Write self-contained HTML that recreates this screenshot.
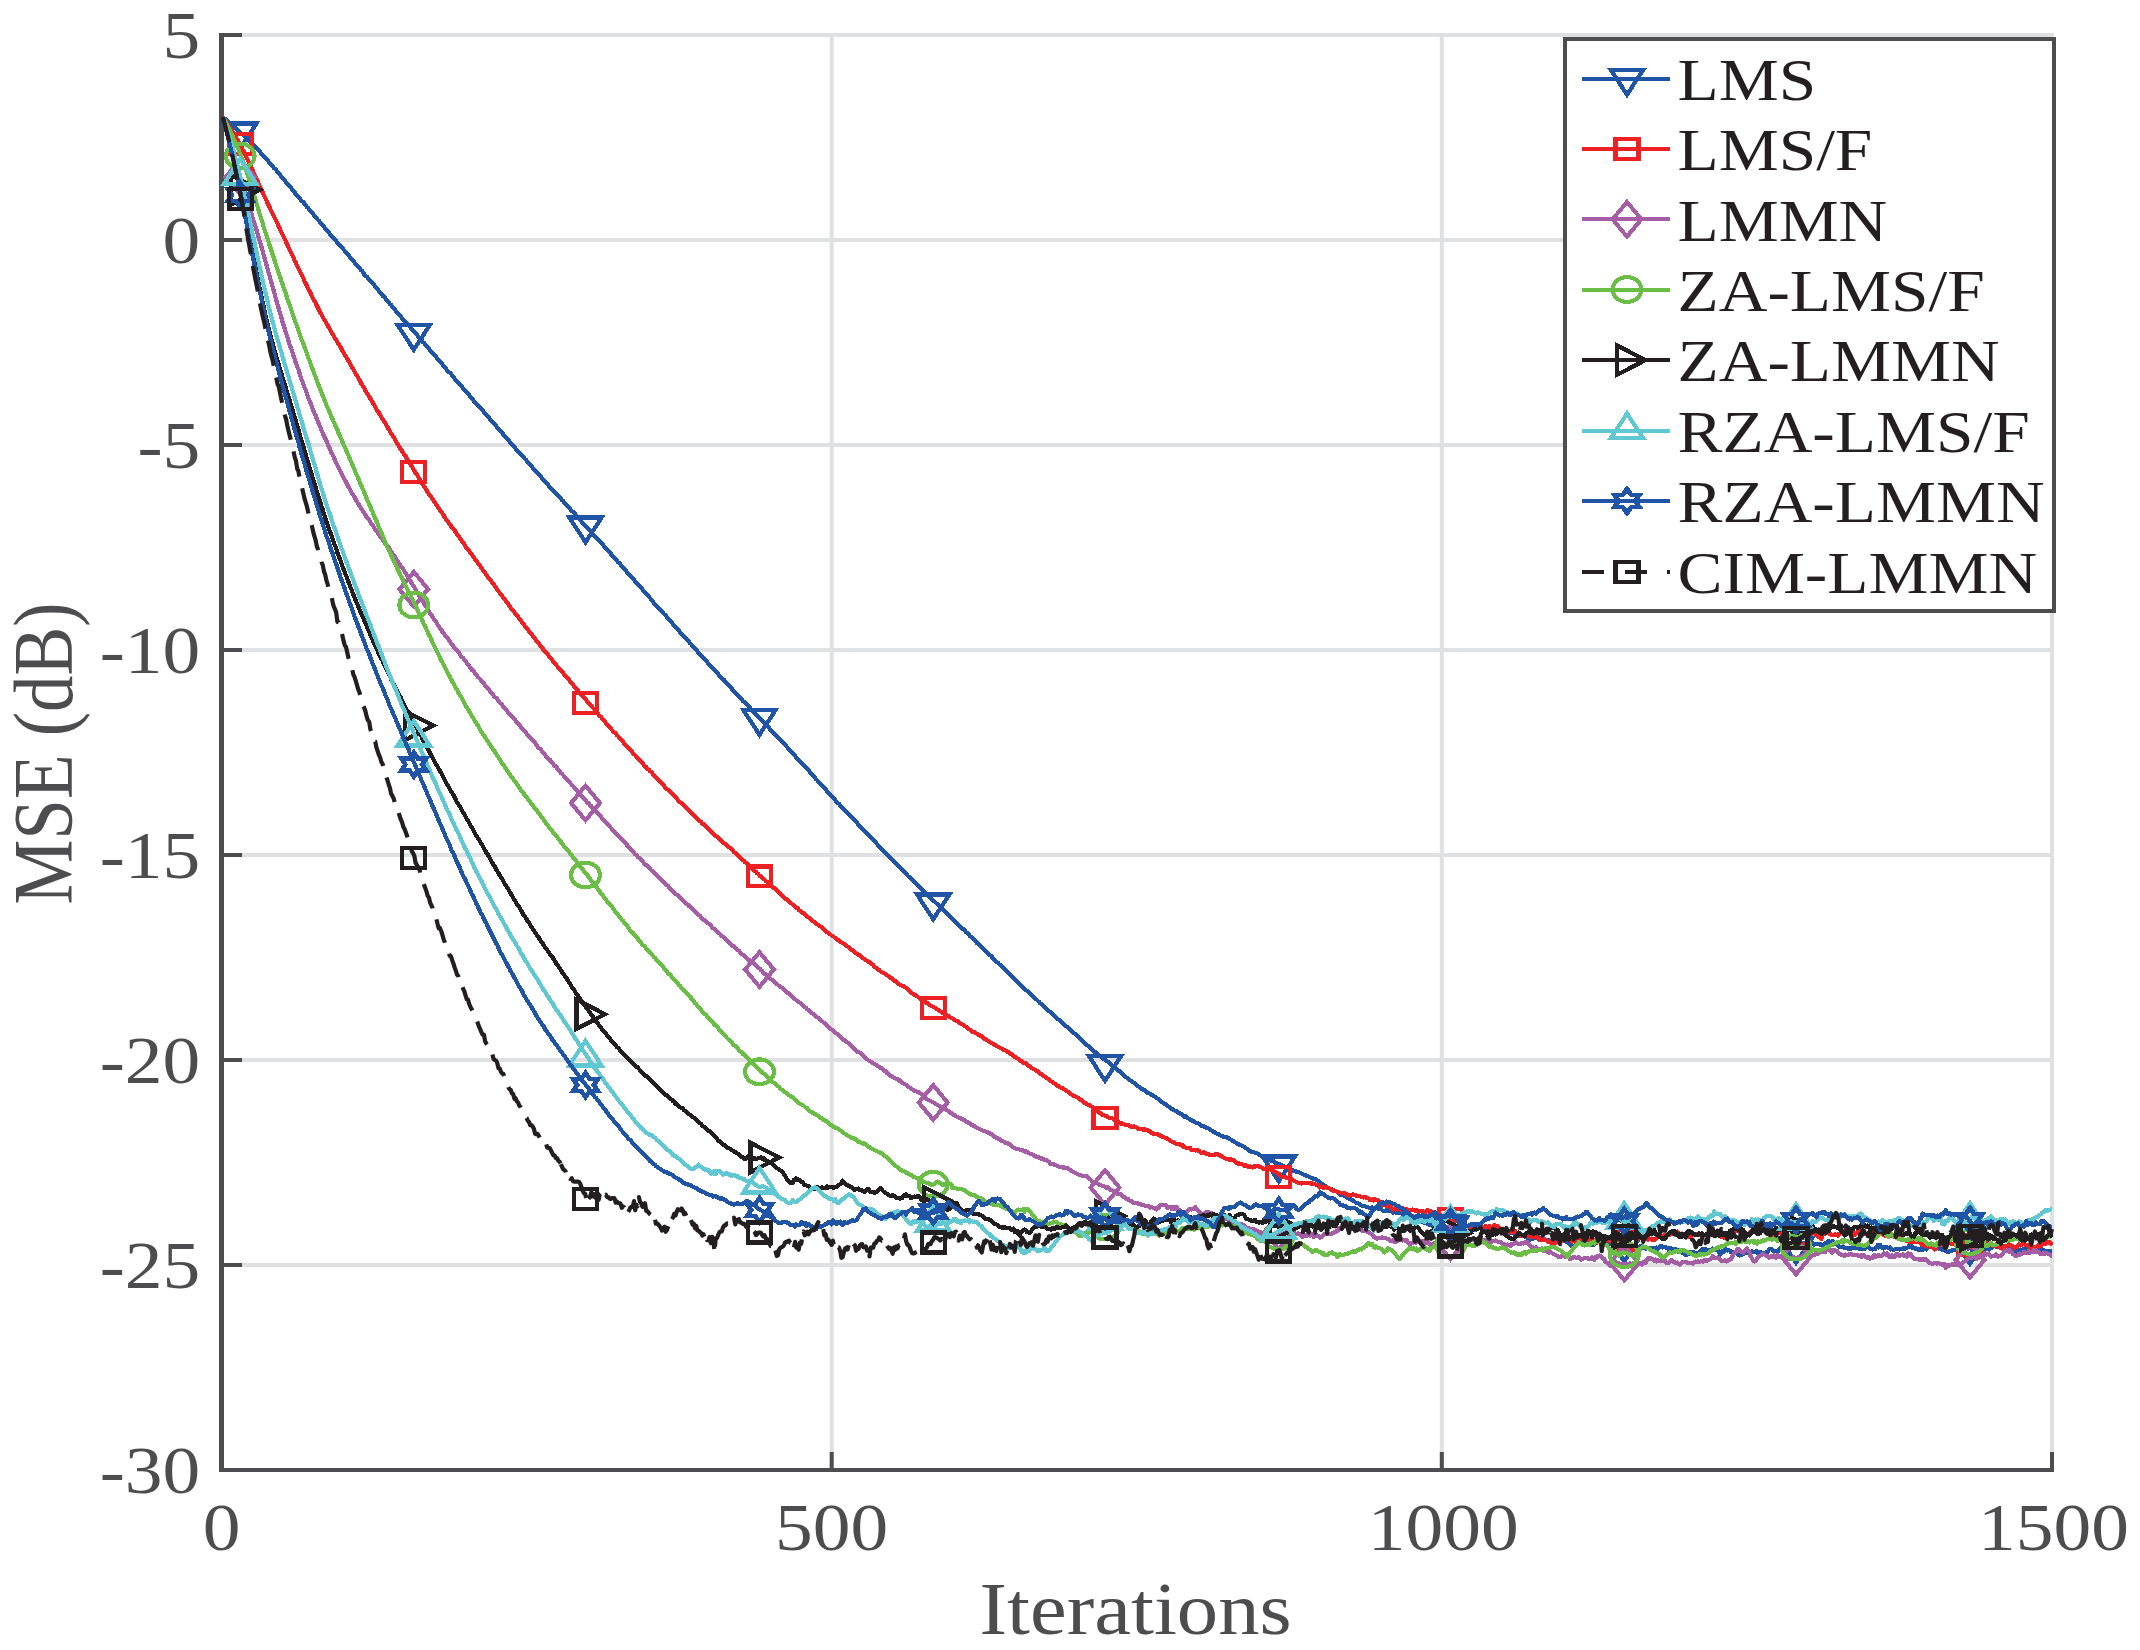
<!DOCTYPE html>
<html lang="en"><head><meta charset="utf-8"><title>MSE (dB) vs Iterations</title>
<style>html,body{margin:0;padding:0;background:#fff}body{width:2140px;height:1650px;overflow:hidden}</style>
</head><body>
<svg width="2140" height="1650" viewBox="0 0 2140 1650" style="display:block">
<rect width="2140" height="1650" fill="#fff"/>
<g stroke="#dfe0e1" stroke-width="4" fill="none">
<line x1="221.5" y1="35" x2="2054" y2="35"/>
<line x1="221.5" y1="240" x2="2054" y2="240"/>
<line x1="221.5" y1="445" x2="2054" y2="445"/>
<line x1="221.5" y1="650" x2="2054" y2="650"/>
<line x1="221.5" y1="855" x2="2054" y2="855"/>
<line x1="221.5" y1="1060" x2="2054" y2="1060"/>
<line x1="221.5" y1="1265" x2="2054" y2="1265"/>
<line x1="831.7" y1="33" x2="831.7" y2="1470"/>
<line x1="1441.8" y1="33" x2="1441.8" y2="1470"/>
<line x1="2052" y1="33" x2="2052" y2="1470"/>
</g>
<g stroke="#4d4d4f" fill="none">
<line x1="221.5" y1="33" x2="221.5" y2="1472" stroke-width="5"/>
<line x1="219" y1="1470" x2="2054" y2="1470" stroke-width="4"/>
<line x1="221.5" y1="35" x2="242" y2="35" stroke-width="4"/>
<line x1="221.5" y1="240" x2="242" y2="240" stroke-width="4"/>
<line x1="221.5" y1="445" x2="242" y2="445" stroke-width="4"/>
<line x1="221.5" y1="650" x2="242" y2="650" stroke-width="4"/>
<line x1="221.5" y1="855" x2="242" y2="855" stroke-width="4"/>
<line x1="221.5" y1="1060" x2="242" y2="1060" stroke-width="4"/>
<line x1="221.5" y1="1265" x2="242" y2="1265" stroke-width="4"/>
<line x1="831.7" y1="1452" x2="831.7" y2="1470" stroke-width="4"/>
<line x1="1441.8" y1="1452" x2="1441.8" y2="1470" stroke-width="4"/>
<line x1="2052" y1="1452" x2="2052" y2="1470" stroke-width="4"/>
</g>
<g font-family="'Liberation Serif','Times New Roman',serif" font-size="68" fill="#4d4d4f">
<text transform="translate(200.3,58.2) scale(1.11,1)" text-anchor="end">5</text>
<text transform="translate(200.3,263.2) scale(1.11,1)" text-anchor="end">0</text>
<text transform="translate(200.3,468.2) scale(1.11,1)" text-anchor="end">-5</text>
<text transform="translate(200.3,673.2) scale(1.11,1)" text-anchor="end">-10</text>
<text transform="translate(200.3,878.2) scale(1.11,1)" text-anchor="end">-15</text>
<text transform="translate(200.3,1083.2) scale(1.11,1)" text-anchor="end">-20</text>
<text transform="translate(200.3,1288.2) scale(1.11,1)" text-anchor="end">-25</text>
<text transform="translate(200.3,1493.2) scale(1.11,1)" text-anchor="end">-30</text>
<text transform="translate(221.5,1550) scale(1.11,1)" text-anchor="middle">0</text>
<text transform="translate(831.7,1550) scale(1.11,1)" text-anchor="middle">500</text>
<text transform="translate(1443.3,1550) scale(1.11,1)" text-anchor="middle">1000</text>
<text transform="translate(2053.5,1550) scale(1.11,1)" text-anchor="middle">1500</text>
</g>
<g font-family="'Liberation Serif','Times New Roman',serif" font-size="73" fill="#4d4d4f">
<text transform="translate(1135.6,1634.2) scale(1.132,1)" text-anchor="middle">Iterations</text>
<text transform="translate(72,753.5) scale(1.16,1) rotate(-90)" text-anchor="middle">MSE (dB)</text>
</g>
<clipPath id="pc"><rect x="218.5" y="32" width="1836.5" height="1441"/></clipPath>
<g clip-path="url(#pc)" shape-rendering="crispEdges">
<path d="M222.7,117 223.9,118 225.2,119 226.4,120.1 227.6,121.1 228.8,122.1 230,123.2 231.3,124.3 232.5,125.3 233.7,126.4 234.9,127.5 236.1,128.6 237.4,129.6 238.6,130.8 239.8,131.9 241,133.1 242.2,134.2 243.5,135.3 244.7,136.5 245.9,137.7 247.1,138.7 248.3,140 249.6,141.2 250.8,142.3 252,143.6 253.2,144.7 254.4,146 255.7,147.1 256.9,148.5 258.1,149.9 259.3,151 260.6,152.5 261.8,154.1 263,155.4 264.2,156.7 265.4,158 266.7,159.4 267.9,160.8 269.1,162.3 270.3,163.6 271.5,164.9 272.8,166.3 274,168.1 275.2,168.9 276.4,170.5 277.6,172.3 278.9,173.7 280.1,174.9 281.3,176.7 282.5,177.8 283.7,179.4 285,180.8 286.2,182.3 287.4,183.7 288.6,185.3 289.8,186.6 291.1,188 292.3,189.5 293.5,190.8 294.7,192.5 295.9,194.4 297.2,195.5 298.4,197.2 299.6,198.1 300.8,199.8 302,201.2 303.3,201.9 304.5,203.7 305.7,205.2 306.9,207 308.1,208 309.4,209.9 310.6,211 311.8,212.2 313,213.5 314.2,215.7 315.5,216.8 316.7,218.1 317.9,219.9 319.1,221 320.3,222.6 321.6,223.8 322.8,225.5 324,226.9 325.2,228.5 326.4,230 327.7,231.3 328.9,232.6 330.1,234.2 331.3,235.7 332.6,237 333.8,238.1 335,239.7 336.2,241 337.4,242.7 338.7,244.2 339.9,245 341.1,246.5 342.3,248.3 343.5,249.4 344.8,250.9 346,252.4 347.2,253.4 348.4,254.9 349.6,256.9 350.9,258.1 352.1,259.7 353.3,260.9 354.5,262.5 355.7,263.9 357,265.2 358.2,266.9 359.4,268.1 360.6,269.8 361.8,270.7 363.1,272.5 364.3,274.5 365.5,275.7 366.7,276.6 367.9,278.1 369.2,279.7 370.4,281.2 371.6,282.3 372.8,283.6 374,284.9 375.3,286.5 376.5,287.6 377.7,289.3 378.9,291.1 380.1,292.4 381.4,293.6 382.6,295.7 383.8,296.6 385,297.9 386.2,299.4 387.5,301.1 388.7,302 389.9,304.1 391.1,304.9 392.3,306.4 393.6,308.2 394.8,309.3 396,311.1 397.2,312.4 398.4,313.5 399.7,315.2 400.9,316.6 402.1,318.2 403.3,320 404.5,321 405.8,322.2 407,323.9 408.2,325.3 409.4,326.2 410.7,327.9 411.9,329.1 413.1,330.4 414.3,332 415.5,332.9 416.8,334.4 418,336.4 419.2,337.8 420.4,338.9 421.6,340.3 422.9,342.1 424.1,343 425.3,344.8 426.5,346 427.7,347.5 429,348.7 430.2,350.5 431.4,351.9 432.6,353.2 433.8,354.4 435.1,355.9 436.3,357.1 437.5,358.8 438.7,360.4 439.9,361.5 441.2,362.9 442.4,364.2 443.6,365.9 444.8,367.3 446,368.6 447.3,370.6 448.5,371.9 449.7,372.6 450.9,373.7 452.1,375.4 453.4,376.8 454.6,378.6 455.8,380 457,381.1 458.2,383 459.5,384.5 460.7,385.4 461.9,386.7 463.1,388.2 464.3,389.6 465.6,391.2 466.8,392.3 468,393.4 469.2,395.2 470.4,397 471.7,398.1 472.9,399.6 474.1,401.7 475.3,402.3 476.5,403.8 477.8,404.8 479,406.4 480.2,407.9 481.4,409.2 482.7,410.4 483.9,412 485.1,413.3 486.3,414.9 487.5,416.3 488.8,417.6 490,419.1 491.2,420.5 492.4,421.9 493.6,423 494.9,424.4 496.1,425.9 497.3,427.5 498.5,428.6 499.7,430 501,431.7 502.2,432.8 503.4,434.6 504.6,436.1 505.8,437.2 507.1,439 508.3,440.1 509.5,441.4 510.7,443.3 511.9,444.4 513.2,445.4 514.4,447.1 515.6,448.6 516.8,450 518,451 519.3,453 520.5,454.1 521.7,455.7 522.9,456.5 524.1,458 525.4,459.4 526.6,460.5 527.8,462.1 529,463.9 530.2,465 531.5,466.4 532.7,467.7 533.9,469.4 535.1,470.5 536.3,472 537.6,473.2 538.8,474.7 540,475.9 541.2,477 542.4,478.9 543.7,480 544.9,481.5 546.1,482.7 547.3,483.8 548.5,485.6 549.8,486.9 551,488.1 552.2,489.5 553.4,491.1 554.7,492.5 555.9,493.6 557.1,495 558.3,496.2 559.5,497.3 560.8,498.7 562,500.3 563.2,501.1 564.4,502.9 565.6,504.3 566.9,505.2 568.1,506.7 569.3,508.1 570.5,509.6 571.7,510.8 573,511.9 574.2,513 575.4,514.4 576.6,516.2 577.8,517.5 579.1,518.6 580.3,519.8 581.5,521.4 582.7,523 583.9,524 585.2,525.6 586.4,526.7 587.6,528.5 588.8,529.3 590,530.8 591.3,532.1 592.5,533.6 593.7,534.9 594.9,536.1 596.1,537.8 597.4,539 598.6,540.4 599.8,541.6 601,542.8 602.2,544 603.5,545.5 604.7,547 605.9,548.5 607.1,549.6 608.3,551.3 609.6,552.2 610.8,553.7 612,555.5 613.2,556.7 614.4,558.3 615.7,559.3 616.9,560.7 618.1,562.4 619.3,563.1 620.5,564.6 621.8,565.8 623,567.5 624.2,568.8 625.4,569.9 626.7,571.8 627.9,573.1 629.1,574.4 630.3,575.7 631.5,577.4 632.8,578.3 634,579.9 635.2,581.3 636.4,582.6 637.6,583.8 638.9,585.1 640.1,586.7 641.3,587.6 642.5,589.7 643.7,590.8 645,592.3 646.2,593.7 647.4,595.1 648.6,596.5 649.8,597.8 651.1,599.2 652.3,600.4 653.5,602.6 654.7,603.8 655.9,605.2 657.2,606.3 658.4,608 659.6,609.2 660.8,610.3 662,611.6 663.3,613.3 664.5,614.5 665.7,615.4 666.9,617.1 668.1,618.1 669.4,620.4 670.6,621.2 671.8,622.5 673,624.2 674.2,625.6 675.5,626.6 676.7,628.4 677.9,629.5 679.1,630.8 680.3,632.5 681.6,633.7 682.8,634.9 684,636.2 685.2,637.8 686.4,639.2 687.7,640.5 688.9,641.6 690.1,643.2 691.3,644.3 692.5,645.7 693.8,647.2 695,648.5 696.2,650.1 697.4,651.4 698.7,652.9 699.9,654 701.1,655.7 702.3,656.3 703.5,658 704.8,659.7 706,660.7 707.2,662.2 708.4,663.7 709.6,664.8 710.9,666.4 712.1,667.8 713.3,669.1 714.5,670.4 715.7,670.9 717,673 718.2,674 719.4,675.7 720.6,677.2 721.8,678.1 723.1,679.5 724.3,680.2 725.5,681.7 726.7,683.3 727.9,684.7 729.2,686.1 730.4,687.4 731.6,688.4 732.8,690.3 734,691.1 735.3,692.6 736.5,693.9 737.7,695.1 738.9,696.2 740.1,697.9 741.4,699.1 742.6,700.7 743.8,701.7 745,702.8 746.2,704.1 747.5,705.4 748.7,706.5 749.9,707.7 751.1,709.3 752.3,710.5 753.6,711.6 754.8,713 756,714.1 757.2,715.5 758.4,716.5 759.7,718.1 760.9,718.9 762.1,720.5 763.3,721.6 764.5,722.8 765.8,724.2 767,725.8 768.2,726.9 769.4,728.2 770.6,729.8 771.9,731.3 773.1,732.4 774.3,733.6 775.5,734.8 776.8,736.1 778,737.4 779.2,738.9 780.4,740.1 781.6,741.2 782.9,742.7 784.1,743.6 785.3,745 786.5,746.4 787.7,747.8 789,749.7 790.2,750.5 791.4,752.4 792.6,753.1 793.8,754.3 795.1,756.1 796.3,757.4 797.5,758.5 798.7,760 799.9,761 801.2,762.8 802.4,764 803.6,765.5 804.8,766.5 806,767.7 807.3,768.9 808.5,770.2 809.7,771.7 810.9,773.1 812.1,774.5 813.4,775.7 814.6,776.9 815.8,778.9 817,780 818.2,781.5 819.5,783 820.7,784.3 821.9,785 823.1,786.5 824.3,787.9 825.6,789.4 826.8,790.8 828,792.5 829.2,793.8 830.4,795.2 831.7,796.5 832.9,797.2 834.1,799.1 835.3,800.2 836.5,801.7 837.8,802.9 839,803.8 840.2,805.6 841.4,806.6 842.6,808 843.9,809.3 845.1,810.5 846.3,811.9 847.5,813.2 848.8,814.5 850,815.4 851.2,817.1 852.4,818.2 853.6,819.5 854.9,820.8 856.1,821.8 857.3,823.3 858.5,824.9 859.7,826.4 861,827.2 862.2,828.9 863.4,830.1 864.6,831.2 865.8,832.6 867.1,833.5 868.3,834.8 869.5,836.1 870.7,837.1 871.9,838.8 873.2,839.7 874.4,841.3 875.6,842.2 876.8,843.8 878,845.1 879.3,846.4 880.5,847.7 881.7,849 882.9,850.3 884.1,851.9 885.4,852.4 886.6,854.2 887.8,855.6 889,856.7 890.2,858.1 891.5,859.1 892.7,860.2 893.9,861.5 895.1,862.3 896.3,863.5 897.6,865.3 898.8,866.2 900,867 901.2,868.8 902.4,870.3 903.7,871.4 904.9,872.2 906.1,873.8 907.3,875.3 908.5,876.5 909.8,877.6 911,878.7 912.2,879.9 913.4,881.2 914.6,882.3 915.9,883.7 917.1,884.6 918.3,886 919.5,886.7 920.8,888.5 922,889.4 923.2,890.5 924.4,892.3 925.6,893.4 926.9,894.2 928.1,895.5 929.3,896.7 930.5,898.1 931.7,898.7 933,900.4 934.2,901.2 935.4,902.4 936.6,903.6 937.8,904.7 939.1,905.9 940.3,907 941.5,908.2 942.7,909.4 943.9,910.4 945.2,911.9 946.4,912.8 947.6,913.8 948.8,915.1 950,916.2 951.3,917.8 952.5,918.7 953.7,920.4 954.9,921.6 956.1,923 957.4,923.8 958.6,925.7 959.8,926.4 961,927.5 962.2,928.5 963.5,929.2 964.7,930.4 965.9,932.1 967.1,933 968.3,934 969.6,935.8 970.8,936.6 972,937.6 973.2,939 974.4,940.2 975.7,941.3 976.9,943 978.1,943.7 979.3,945.2 980.5,946 981.8,947.4 983,948.9 984.2,949.6 985.4,950.9 986.6,952.2 987.9,953.1 989.1,954.6 990.3,955.4 991.5,956.2 992.8,958.2 994,959.2 995.2,960.6 996.4,961.8 997.6,962.5 998.9,963.9 1000.1,964.9 1001.3,966 1002.5,966.6 1003.7,968.3 1005,969.5 1006.2,970.4 1007.4,972.4 1008.6,973.2 1009.8,974 1011.1,975.7 1012.3,976.7 1013.5,977.7 1014.7,979.5 1015.9,979.9 1017.2,981.5 1018.4,982.7 1019.6,984 1020.8,985.5 1022,986 1023.3,987.5 1024.5,988.7 1025.7,990 1026.9,990.8 1028.1,991.8 1029.4,992.7 1030.6,994.1 1031.8,995.1 1033,996.1 1034.2,997.5 1035.5,999 1036.7,999.7 1037.9,1000.9 1039.1,1001.9 1040.3,1003.5 1041.6,1004 1042.8,1005.3 1044,1006.1 1045.2,1007.4 1046.4,1008.8 1047.7,1010.4 1048.9,1011.1 1050.1,1011.7 1051.3,1013 1052.5,1013.8 1053.8,1014.9 1055,1016.1 1056.2,1017.6 1057.4,1018.9 1058.6,1019.5 1059.9,1020.5 1061.1,1021.8 1062.3,1023.2 1063.5,1024.4 1064.8,1024.9 1066,1026.2 1067.2,1027.1 1068.4,1028.1 1069.6,1029.1 1070.9,1030.7 1072.1,1031.7 1073.3,1032.8 1074.5,1033.4 1075.7,1034.4 1077,1035.6 1078.2,1037.1 1079.4,1037.9 1080.6,1039.3 1081.8,1040.3 1083.1,1041.3 1084.3,1042.6 1085.5,1043.8 1086.7,1044.9 1087.9,1045.8 1089.2,1047.1 1090.4,1048.1 1091.6,1049.2 1092.8,1050.3 1094,1051.6 1095.3,1052.1 1096.5,1053 1097.7,1054.5 1098.9,1054.9 1100.1,1056.2 1101.4,1057.3 1102.6,1058.2 1103.8,1059.1 1105,1060 1106.2,1060.6 1107.5,1061.4 1108.7,1062.7 1109.9,1063.7 1111.1,1064.3 1112.3,1065.5 1113.6,1066.5 1114.8,1067.4 1116,1068.9 1117.2,1069.9 1118.4,1070.6 1119.7,1071.5 1120.9,1072.6 1122.1,1074 1123.3,1075 1124.5,1075.8 1125.8,1077 1127,1077.8 1128.2,1079.2 1129.4,1079.8 1130.6,1080.5 1131.9,1081.5 1133.1,1082.1 1134.3,1083.2 1135.5,1084.1 1136.8,1085.3 1138,1086 1139.2,1087 1140.4,1087.8 1141.6,1088.8 1142.9,1089.5 1144.1,1090.2 1145.3,1090.7 1146.5,1091.5 1147.7,1093 1149,1093.4 1150.2,1093.8 1151.4,1095 1152.6,1095.2 1153.8,1096 1155.1,1096.8 1156.3,1097.4 1157.5,1098.6 1158.7,1099.5 1159.9,1100.5 1161.2,1101.9 1162.4,1102.3 1163.6,1103.3 1164.8,1103.8 1166,1104.8 1167.3,1105.6 1168.5,1106.5 1169.7,1107.2 1170.9,1108.3 1172.1,1109.2 1173.4,1109.6 1174.6,1110.6 1175.8,1111.4 1177,1111.5 1178.2,1112.6 1179.5,1113.4 1180.7,1113.6 1181.9,1114.8 1183.1,1115.3 1184.3,1116.6 1185.6,1116.4 1186.8,1116.9 1188,1118.3 1189.2,1118.9 1190.4,1119.9 1191.7,1120.2 1192.9,1121.3 1194.1,1121.3 1195.3,1122.5 1196.5,1123 1197.8,1123.2 1199,1123.7 1200.2,1125 1201.4,1125.6 1202.6,1126.4 1203.9,1126.5 1205.1,1127.2 1206.3,1127.7 1207.5,1127.7 1208.7,1128.7 1210,1129.3 1211.2,1130.2 1212.4,1131.3 1213.6,1131.8 1214.9,1132.6 1216.1,1133.4 1217.3,1133.9 1218.5,1134.3 1219.7,1135.1 1221,1135.7 1222.2,1135.8 1223.4,1136.8 1224.6,1136.7 1225.8,1137.4 1227.1,1137.4 1228.3,1138.4 1229.5,1138.6 1230.7,1139.7 1231.9,1140.4 1233.2,1141.1 1234.4,1142.1 1235.6,1142.6 1236.8,1143.6 1238,1143.7 1239.3,1145 1240.5,1145 1241.7,1145.6 1242.9,1146.4 1244.1,1146.7 1245.4,1147.7 1246.6,1148.7 1247.8,1149.5 1249,1150.8 1250.2,1150.9 1251.5,1151.8 1252.7,1152.1 1253.9,1152.2 1255.1,1152.6 1256.3,1152.9 1257.6,1153.6 1258.8,1154.2 1260,1155.1 1261.2,1155.8 1262.4,1155.9 1263.7,1156.7 1264.9,1157.2 1266.1,1158.2 1267.3,1159 1268.5,1159.4 1269.8,1159.8 1271,1160.7 1272.2,1161.2 1273.4,1161.2 1274.6,1162 1275.9,1163.1 1277.1,1163.5 1278.3,1163.8 1279.5,1164.2 1280.7,1164.7 1282,1165.5 1283.2,1166.1 1284.4,1166.8 1285.6,1166.8 1286.9,1167.2 1288.1,1168.2 1289.3,1168.4 1290.5,1168.8 1291.7,1170 1293,1170.5 1294.2,1171 1295.4,1171.1 1296.6,1171.8 1297.8,1172 1299.1,1172.3 1300.3,1173.2 1301.5,1173.4 1302.7,1174.3 1303.9,1174.6 1305.2,1174.8 1306.4,1176 1307.6,1176 1308.8,1176.6 1310,1177.2 1311.3,1178 1312.5,1178.2 1313.7,1179.2 1314.9,1179.1 1316.1,1179.5 1317.4,1180.3 1318.6,1181.1 1319.8,1182 1321,1183.3 1322.2,1183.9 1323.5,1184.7 1324.7,1185.7 1325.9,1186.2 1327.1,1187.4 1328.3,1187.7 1329.6,1188.6 1330.8,1188.7 1332,1189.2 1333.2,1189.9 1334.4,1190.4 1335.7,1190.8 1336.9,1191.9 1338.1,1192.6 1339.3,1193.4 1340.5,1194.7 1341.8,1195.1 1343,1195.4 1344.2,1195.6 1345.4,1196.1 1346.6,1197.3 1347.9,1197.8 1349.1,1198.7 1350.3,1199 1351.5,1199.9 1352.7,1200.3 1354,1201.1 1355.2,1202.2 1356.4,1202.9 1357.6,1202.9 1358.9,1203.6 1360.1,1204.6 1361.3,1205.3 1362.5,1206 1363.7,1206.1 1365,1206.2 1366.2,1206.7 1367.4,1207.3 1368.6,1207.6 1369.8,1208 1371.1,1208.7 1372.3,1207.5 1373.5,1208.5 1374.7,1208.9 1375.9,1208 1377.2,1208.5 1378.4,1208.6 1379.6,1208.5 1380.8,1208.4 1382,1210 1383.3,1211.3 1384.5,1211.3 1385.7,1211 1386.9,1209.7 1388.1,1211.2 1389.4,1210.3 1390.6,1210.7 1391.8,1211.3 1393,1212.6 1394.2,1211.7 1395.5,1212.4 1396.7,1212.6 1397.9,1212.8 1399.1,1213.3 1400.3,1213.1 1401.6,1213.6 1402.8,1214.7 1404,1214.8 1405.2,1215.2 1406.4,1215.6 1407.7,1215.4 1408.9,1216.4 1410.1,1216.4 1411.3,1217.7 1412.5,1218.2 1413.8,1218.6 1415,1218.7 1416.2,1218.5 1417.4,1218.9 1418.6,1219.4 1419.9,1220.1 1421.1,1220.8 1422.3,1222 1423.5,1222.1 1424.7,1223.1 1426,1223.3 1427.2,1223.8 1428.4,1224.3 1429.6,1225.1 1430.9,1224.9 1432.1,1225.6 1433.3,1225.4 1434.5,1224.8 1435.7,1223.4 1437,1224.1 1438.2,1223.4 1439.4,1223.1 1440.6,1223.1 1441.8,1225 1443.1,1224.5 1444.3,1225.7 1445.5,1226.7 1446.7,1227.1 1447.9,1227.5 1449.2,1226.2 1450.4,1227.8 1451.6,1225.8 1452.8,1226.6 1454,1226.4 1455.3,1227.9 1456.5,1228 1457.7,1228.9 1458.9,1228.7 1460.1,1230.8 1461.4,1230.5 1462.6,1229 1463.8,1228.6 1465,1227.8 1466.2,1228.8 1467.5,1227.5 1468.7,1228.3 1469.9,1229.7 1471.1,1230.2 1472.3,1229.6 1473.6,1229.7 1474.8,1229.5 1476,1229.6 1477.2,1229.2 1478.4,1228.2 1479.7,1227.9 1480.9,1228.8 1482.1,1229.4 1483.3,1230.2 1484.5,1230.5 1485.8,1231.1 1487,1231.1 1488.2,1230.8 1489.4,1232.8 1490.6,1230.9 1491.9,1230.8 1493.1,1230.8 1494.3,1229.9 1495.5,1229.8 1496.7,1229.4 1498,1229.5 1499.2,1230 1500.4,1229.6 1501.6,1230.1 1502.8,1231.6 1504.1,1232 1505.3,1233.2 1506.5,1233.3 1507.7,1233.6 1509,1234 1510.2,1231.7 1511.4,1232 1512.6,1231.8 1513.8,1233.7 1515.1,1234 1516.3,1235.3 1517.5,1234.6 1518.7,1235.8 1519.9,1234 1521.2,1235.5 1522.4,1234.7 1523.6,1235.2 1524.8,1236.5 1526,1236.5 1527.3,1237.7 1528.5,1238.5 1529.7,1239.5 1530.9,1238.2 1532.1,1238.8 1533.4,1238.6 1534.6,1237.9 1535.8,1237.6 1537,1238 1538.2,1237.9 1539.5,1239.7 1540.7,1238.2 1541.9,1240 1543.1,1239.4 1544.3,1239.7 1545.6,1239.8 1546.8,1240.1 1548,1240.7 1549.2,1240.4 1550.4,1242.3 1551.7,1243.7 1552.9,1244.1 1554.1,1243.4 1555.3,1242.8 1556.5,1239.8 1557.8,1237.2 1559,1236.7 1560.2,1236.7 1561.4,1239.2 1562.6,1239.7 1563.9,1240.6 1565.1,1240.7 1566.3,1241.6 1567.5,1241.8 1568.7,1243.3 1570,1243.9 1571.2,1245.7 1572.4,1246.1 1573.6,1246.3 1574.8,1247.1 1576.1,1244.2 1577.3,1243.5 1578.5,1242.5 1579.7,1241.1 1581,1241.2 1582.2,1240 1583.4,1241.1 1584.6,1240.8 1585.8,1242.3 1587.1,1243.7 1588.3,1243.9 1589.5,1244.4 1590.7,1244.4 1591.9,1245 1593.2,1245.4 1594.4,1243.3 1595.6,1242.2 1596.8,1242.4 1598,1241.4 1599.3,1241.8 1600.5,1241.8 1601.7,1242.2 1602.9,1242.3 1604.1,1242.8 1605.4,1243.3 1606.6,1245.1 1607.8,1243.2 1609,1242.9 1610.2,1244.2 1611.5,1243.6 1612.7,1243 1613.9,1242.3 1615.1,1243.9 1616.3,1243.8 1617.6,1244.6 1618.8,1245.9 1620,1245.9 1621.2,1244.2 1622.4,1244.8 1623.7,1243 1624.9,1242.7 1626.1,1241.8 1627.3,1244 1628.5,1245.1 1629.8,1243.8 1631,1245 1632.2,1246.3 1633.4,1246.8 1634.6,1247.9 1635.9,1246.6 1637.1,1247 1638.3,1247.5 1639.5,1246.6 1640.7,1245.9 1642,1245.8 1643.2,1247.6 1644.4,1247.3 1645.6,1248.7 1646.8,1248.3 1648.1,1247.8 1649.3,1248.1 1650.5,1248.5 1651.7,1248 1653,1249.7 1654.2,1248.1 1655.4,1250 1656.6,1247.6 1657.8,1248.9 1659.1,1247 1660.3,1246 1661.5,1246 1662.7,1247.5 1663.9,1246.7 1665.2,1246.8 1666.4,1248.1 1667.6,1248.4 1668.8,1250 1670,1247.7 1671.3,1250.1 1672.5,1249.7 1673.7,1249.1 1674.9,1250.3 1676.1,1249.1 1677.4,1250.2 1678.6,1252 1679.8,1251.3 1681,1251.1 1682.2,1252.7 1683.5,1253.6 1684.7,1253.8 1685.9,1255.3 1687.1,1253.6 1688.3,1253.5 1689.6,1253.7 1690.8,1251.8 1692,1252.8 1693.2,1252.2 1694.4,1252.4 1695.7,1253.4 1696.9,1252.9 1698.1,1252.9 1699.3,1252 1700.5,1251 1701.8,1249.9 1703,1248.9 1704.2,1251.4 1705.4,1249.5 1706.6,1249.6 1707.9,1250 1709.1,1250.6 1710.3,1251.1 1711.5,1250.5 1712.7,1248.5 1714,1249 1715.2,1249.6 1716.4,1249.7 1717.6,1250.6 1718.8,1250.8 1720.1,1254.6 1721.3,1253 1722.5,1250.8 1723.7,1251.9 1725,1248.7 1726.2,1249.6 1727.4,1250.6 1728.6,1249.8 1729.8,1250.6 1731.1,1252.3 1732.3,1253 1733.5,1251.8 1734.7,1253 1735.9,1252.6 1737.2,1253.3 1738.4,1255.3 1739.6,1255.5 1740.8,1255.1 1742,1254.5 1743.3,1254 1744.5,1253.5 1745.7,1253.3 1746.9,1251.7 1748.1,1252.8 1749.4,1253.2 1750.6,1252.9 1751.8,1251.2 1753,1252.4 1754.2,1251.9 1755.5,1252.2 1756.7,1250.8 1757.9,1253 1759.1,1252.7 1760.3,1251.9 1761.6,1253.9 1762.8,1252.9 1764,1252.8 1765.2,1253.5 1766.4,1252.1 1767.7,1251.6 1768.9,1249.9 1770.1,1248.9 1771.3,1249.5 1772.5,1249.6 1773.8,1250.9 1775,1251 1776.2,1251.1 1777.4,1251.6 1778.6,1250.5 1779.9,1248.5 1781.1,1248.2 1782.3,1246.5 1783.5,1247.9 1784.7,1247.1 1786,1249.2 1787.2,1249.1 1788.4,1249.3 1789.6,1249.5 1790.8,1247.6 1792.1,1248.2 1793.3,1246.8 1794.5,1246.7 1795.7,1245.5 1797,1245.9 1798.2,1244.1 1799.4,1243.2 1800.6,1243.3 1801.8,1244.2 1803.1,1242.9 1804.3,1243.4 1805.5,1244.3 1806.7,1242.3 1807.9,1241.7 1809.2,1243.5 1810.4,1243.9 1811.6,1243.9 1812.8,1243.4 1814,1244.8 1815.3,1244.2 1816.5,1243.7 1817.7,1244.1 1818.9,1244.4 1820.1,1244.4 1821.4,1244.5 1822.6,1246.1 1823.8,1245.3 1825,1243 1826.2,1243.5 1827.5,1242.2 1828.7,1240.8 1829.9,1242.1 1831.1,1241.8 1832.3,1241.2 1833.6,1242.1 1834.8,1242.6 1836,1243.1 1837.2,1244.3 1838.4,1246.5 1839.7,1246.9 1840.9,1247.1 1842.1,1247 1843.3,1246.8 1844.5,1248 1845.8,1248.3 1847,1248.1 1848.2,1248.6 1849.4,1248.2 1850.6,1248.8 1851.9,1247.8 1853.1,1248 1854.3,1248.1 1855.5,1246.4 1856.7,1248.2 1858,1248.3 1859.2,1248.9 1860.4,1248.3 1861.6,1248.6 1862.8,1249.3 1864.1,1248.5 1865.3,1248.5 1866.5,1247.1 1867.7,1246.8 1868.9,1247 1870.2,1248.8 1871.4,1248.8 1872.6,1249.5 1873.8,1248.9 1875.1,1249.3 1876.3,1247 1877.5,1245.4 1878.7,1247.4 1879.9,1244.7 1881.2,1247.4 1882.4,1248.2 1883.6,1248.6 1884.8,1246.8 1886,1246.7 1887.3,1247.5 1888.5,1248.1 1889.7,1247.4 1890.9,1249.5 1892.1,1249.1 1893.4,1250.3 1894.6,1249.4 1895.8,1249.2 1897,1249.2 1898.2,1248.9 1899.5,1249.5 1900.7,1248.7 1901.9,1248.9 1903.1,1248.2 1904.3,1249.1 1905.6,1248 1906.8,1247.9 1908,1247.2 1909.2,1245.7 1910.4,1246.5 1911.7,1246.1 1912.9,1248.1 1914.1,1247.8 1915.3,1248.9 1916.5,1248.5 1917.8,1249.3 1919,1250.3 1920.2,1249.3 1921.4,1247.6 1922.6,1249.8 1923.9,1249.1 1925.1,1248.4 1926.3,1249.4 1927.5,1246.8 1928.7,1246.6 1930,1247 1931.2,1246 1932.4,1245.9 1933.6,1246.9 1934.8,1246.4 1936.1,1246.8 1937.3,1248 1938.5,1247.7 1939.7,1249.4 1940.9,1249 1942.2,1249.6 1943.4,1250 1944.6,1249.6 1945.8,1251.4 1947.1,1251.7 1948.3,1252 1949.5,1251.3 1950.7,1251.1 1951.9,1251 1953.2,1249.8 1954.4,1249.7 1955.6,1249.5 1956.8,1249.1 1958,1248.2 1959.3,1248.9 1960.5,1250.3 1961.7,1249.1 1962.9,1250.1 1964.1,1249.2 1965.4,1248.4 1966.6,1247.4 1967.8,1248.6 1969,1247.1 1970.2,1246.7 1971.5,1249.8 1972.7,1247.4 1973.9,1248.6 1975.1,1249.6 1976.3,1250.1 1977.6,1249.4 1978.8,1250.3 1980,1249 1981.2,1247.2 1982.4,1248.4 1983.7,1247.3 1984.9,1249.8 1986.1,1248.8 1987.3,1248.8 1988.5,1249.5 1989.8,1248.9 1991,1248.2 1992.2,1247.8 1993.4,1246.5 1994.6,1245.1 1995.9,1246.5 1997.1,1245.8 1998.3,1246.9 1999.5,1247.4 2000.7,1247.4 2002,1248.1 2003.2,1247.6 2004.4,1248.8 2005.6,1247.8 2006.8,1246.9 2008.1,1247.1 2009.3,1248.9 2010.5,1248.3 2011.7,1249.1 2012.9,1249.7 2014.2,1251.6 2015.4,1251.9 2016.6,1250.8 2017.8,1250.2 2019.1,1250.4 2020.3,1249.5 2021.5,1250 2022.7,1249.9 2023.9,1249 2025.2,1249.2 2026.4,1250.7 2027.6,1248.4 2028.8,1249.1 2030,1248.3 2031.3,1248 2032.5,1247.9 2033.7,1248.8 2034.9,1250.7 2036.1,1250.9 2037.4,1250.9 2038.6,1249.8 2039.8,1250.5 2041,1249.8 2042.2,1249.2 2043.5,1249.9 2044.7,1251.6 2045.9,1250.8 2047.1,1251.9 2048.3,1251.9 2049.6,1251.2 2050.8,1251.3 2052,1251.1" fill="none" stroke="#2054a6" stroke-width="4.2" stroke-linejoin="round"/>
<polygon points="224,123.4 256.4,123.4 240.2,148.3" fill="none" stroke="#2054a6" stroke-width="4.2" stroke-linejoin="miter" stroke-miterlimit="10"/>
<polygon points="397.6,324.9 429.9,324.9 413.8,349.8" fill="none" stroke="#2054a6" stroke-width="4.2" stroke-linejoin="miter" stroke-miterlimit="10"/>
<polygon points="569.3,517.4 601.7,517.4 585.5,542.3" fill="none" stroke="#2054a6" stroke-width="4.2" stroke-linejoin="miter" stroke-miterlimit="10"/>
<polygon points="743.3,709.9 775.7,709.9 759.5,734.8" fill="none" stroke="#2054a6" stroke-width="4.2" stroke-linejoin="miter" stroke-miterlimit="10"/>
<polygon points="917,894.4 949.5,894.4 933.2,919.3" fill="none" stroke="#2054a6" stroke-width="4.2" stroke-linejoin="miter" stroke-miterlimit="10"/>
<polygon points="1088.8,1055.9 1121.2,1055.9 1105,1080.8" fill="none" stroke="#2054a6" stroke-width="4.2" stroke-linejoin="miter" stroke-miterlimit="10"/>
<polygon points="1262.5,1156.4 1295,1156.4 1278.8,1181.3" fill="none" stroke="#2054a6" stroke-width="4.2" stroke-linejoin="miter" stroke-miterlimit="10"/>
<polygon points="1434.3,1217.5 1466.7,1217.5 1450.5,1242.4" fill="none" stroke="#2054a6" stroke-width="4.2" stroke-linejoin="miter" stroke-miterlimit="10"/>
<polygon points="1608.1,1236.6 1640.5,1236.6 1624.3,1261.5" fill="none" stroke="#2054a6" stroke-width="4.2" stroke-linejoin="miter" stroke-miterlimit="10"/>
<polygon points="1779.8,1238 1812.2,1238 1796,1262.9" fill="none" stroke="#2054a6" stroke-width="4.2" stroke-linejoin="miter" stroke-miterlimit="10"/>
<polygon points="1953.8,1238.9 1986.2,1238.9 1970,1263.8" fill="none" stroke="#2054a6" stroke-width="4.2" stroke-linejoin="miter" stroke-miterlimit="10"/>
<path d="M222.7,117 223.9,118.7 225.2,120.5 226.4,122.3 227.6,124.1 228.8,126 230,127.9 231.3,129.8 232.5,131.7 233.7,133.8 234.9,135.8 236.1,137.9 237.4,140 238.6,142.1 239.8,144.3 241,146.5 242.2,148.8 243.5,151.1 244.7,153.6 245.9,156 247.1,158.6 248.3,161.2 249.6,163.7 250.8,166.4 252,168.9 253.2,171.6 254.4,174.4 255.7,177.2 256.9,179.6 258.1,182.5 259.3,185 260.6,187.8 261.8,190.4 263,193.2 264.2,195.8 265.4,198.3 266.7,201.2 267.9,203.7 269.1,206.1 270.3,209 271.5,211.4 272.8,213.9 274,216.5 275.2,218.9 276.4,221.6 277.6,223.9 278.9,226.7 280.1,229.3 281.3,231.9 282.5,234.4 283.7,236.9 285,239.4 286.2,242.6 287.4,244.9 288.6,247.5 289.8,249.8 291.1,252.7 292.3,255.2 293.5,257.6 294.7,260.7 295.9,262.9 297.2,265.6 298.4,268.5 299.6,270.9 300.8,272.8 302,275.7 303.3,278.1 304.5,281.5 305.7,283.5 306.9,285.9 308.1,288.6 309.4,290.9 310.6,293.2 311.8,296.2 313,298.6 314.2,300.7 315.5,302.7 316.7,305.4 317.9,307.7 319.1,310 320.3,312.5 321.6,314.6 322.8,316.9 324,319.1 325.2,321 326.4,323.2 327.7,325.3 328.9,327.6 330.1,329.5 331.3,331.9 332.6,334.3 333.8,335.9 335,338.2 336.2,340.1 337.4,342.1 338.7,344.3 339.9,346.4 341.1,348.1 342.3,350.5 343.5,352.6 344.8,354.8 346,356.8 347.2,358.6 348.4,360.9 349.6,362.9 350.9,365.1 352.1,367.4 353.3,369.2 354.5,371.6 355.7,374.1 357,375.8 358.2,377.9 359.4,379.9 360.6,382.2 361.8,384.4 363.1,386.3 364.3,388.2 365.5,390.8 366.7,392.7 367.9,394.6 369.2,396.3 370.4,398.8 371.6,400.8 372.8,402.5 374,404.8 375.3,407 376.5,409.3 377.7,411.2 378.9,412.7 380.1,415 381.4,417.3 382.6,419.3 383.8,421.1 385,422.6 386.2,425.2 387.5,427.2 388.7,429.1 389.9,431.5 391.1,433.6 392.3,435.2 393.6,437.3 394.8,439.2 396,441.5 397.2,443.7 398.4,445.2 399.7,447.5 400.9,449.4 402.1,451.1 403.3,453.1 404.5,455.4 405.8,456.7 407,459 408.2,461.2 409.4,462.6 410.7,464.9 411.9,466.5 413.1,468.8 414.3,470.6 415.5,472.8 416.8,474.5 418,476.6 419.2,478.4 420.4,480.5 421.6,482.3 422.9,484.5 424.1,486.4 425.3,488.1 426.5,489.8 427.7,492.2 429,494 430.2,495.7 431.4,497.5 432.6,498.9 433.8,501.2 435.1,502.9 436.3,504.5 437.5,506.3 438.7,508.2 439.9,510.1 441.2,511.5 442.4,513.2 443.6,515.4 444.8,517.4 446,519.3 447.3,520.3 448.5,522.4 449.7,523.9 450.9,525.9 452.1,527.7 453.4,529.3 454.6,530.4 455.8,532.5 457,534.2 458.2,536.2 459.5,537.4 460.7,539.6 461.9,541 463.1,543 464.3,544.1 465.6,546.9 466.8,548 468,549.5 469.2,551.1 470.4,553 471.7,554.3 472.9,556.1 474.1,557.9 475.3,559.9 476.5,561.2 477.8,562.9 479,564.5 480.2,566.2 481.4,567.8 482.7,569.8 483.9,571.5 485.1,572.8 486.3,575 487.5,576.5 488.8,577.9 490,579.5 491.2,581.2 492.4,582.8 493.6,584.1 494.9,586.3 496.1,587.7 497.3,589.6 498.5,591.4 499.7,592.8 501,594.5 502.2,596.2 503.4,597.7 504.6,599.3 505.8,600.9 507.1,602.8 508.3,604.2 509.5,605.8 510.7,607.8 511.9,609 513.2,610.7 514.4,612.2 515.6,613.8 516.8,615.4 518,616.7 519.3,618.6 520.5,619.6 521.7,621.8 522.9,623.2 524.1,624.8 525.4,626.7 526.6,628.3 527.8,629.3 529,631.2 530.2,632.9 531.5,634.1 532.7,635.7 533.9,637.2 535.1,639 536.3,640.5 537.6,641.9 538.8,643.6 540,645.2 541.2,646.7 542.4,648.1 543.7,650 544.9,651.4 546.1,652.8 547.3,653.8 548.5,655.6 549.8,656.8 551,658.4 552.2,659.8 553.4,661.7 554.7,663.2 555.9,664.7 557.1,666.1 558.3,667.5 559.5,669 560.8,670.3 562,671.7 563.2,672.8 564.4,674.9 565.6,676 566.9,677.5 568.1,678.8 569.3,680.3 570.5,682.1 571.7,683.6 573,684.7 574.2,686.7 575.4,687.8 576.6,689.1 577.8,690.4 579.1,692.2 580.3,693.6 581.5,695.1 582.7,695.8 583.9,697.6 585.2,698.7 586.4,700.5 587.6,702 588.8,702.9 590,704.1 591.3,705.9 592.5,707.5 593.7,708.7 594.9,709.7 596.1,711.7 597.4,712.9 598.6,714.7 599.8,716.2 601,716.9 602.2,718.9 603.5,720 604.7,721.5 605.9,723.1 607.1,724.2 608.3,725.6 609.6,726.7 610.8,728.6 612,730 613.2,731.4 614.4,732.5 615.7,733.5 616.9,735.1 618.1,736.1 619.3,737.6 620.5,739.1 621.8,740.6 623,741.9 624.2,743.4 625.4,744.5 626.7,746 627.9,746.9 629.1,748.7 630.3,749.8 631.5,751.3 632.8,752.9 634,754.1 635.2,755.2 636.4,756.9 637.6,757.7 638.9,759.2 640.1,760.6 641.3,762.1 642.5,763.3 643.7,764.8 645,766.4 646.2,767.1 647.4,768.7 648.6,769.5 649.8,770.9 651.1,772 652.3,773.2 653.5,775.2 654.7,776.1 655.9,777.5 657.2,778.4 658.4,779.7 659.6,781.2 660.8,782.4 662,783.6 663.3,784.9 664.5,786.4 665.7,788.2 666.9,789.3 668.1,789.8 669.4,791.2 670.6,792.4 671.8,793.6 673,794.3 674.2,796 675.5,797.4 676.7,798.4 677.9,799.9 679.1,801.4 680.3,802.3 681.6,803.5 682.8,804.8 684,805.7 685.2,806.9 686.4,808.1 687.7,808.9 688.9,809.9 690.1,811.7 691.3,812.8 692.5,814.1 693.8,815.3 695,816.8 696.2,817.9 697.4,819 698.7,820.2 699.9,821 701.1,822 702.3,823.6 703.5,824.1 704.8,825.4 706,826.3 707.2,827.8 708.4,829.1 709.6,830 710.9,831 712.1,832.3 713.3,833.4 714.5,835.1 715.7,836 717,836.8 718.2,838.1 719.4,839 720.6,840 721.8,840.9 723.1,842.3 724.3,843.3 725.5,844.3 726.7,845.4 727.9,846.3 729.2,847.2 730.4,848.3 731.6,849.6 732.8,850.6 734,852.1 735.3,852.9 736.5,853.9 737.7,855.4 738.9,856.4 740.1,857.5 741.4,858.6 742.6,859.7 743.8,860.7 745,862.2 746.2,863.1 747.5,864.1 748.7,865.3 749.9,866.5 751.1,868 752.3,869 753.6,869.9 754.8,871.1 756,871.9 757.2,873.3 758.4,874.3 759.7,875.8 760.9,876.3 762.1,877.3 763.3,878.5 764.5,879.4 765.8,880.9 767,881.7 768.2,882.9 769.4,884.3 770.6,885.3 771.9,886.3 773.1,887.5 774.3,888.2 775.5,889.4 776.8,890.7 778,891.5 779.2,892.8 780.4,894 781.6,895.4 782.9,896.5 784.1,897.8 785.3,898.7 786.5,899.3 787.7,900.6 789,901.1 790.2,902.3 791.4,903.4 792.6,904.6 793.8,905.6 795.1,906.6 796.3,907.6 797.5,908.3 798.7,909.9 799.9,910.8 801.2,912 802.4,912.7 803.6,913 804.8,914.5 806,916 807.3,916.6 808.5,917.4 809.7,918.5 810.9,919.3 812.1,920.9 813.4,921.3 814.6,922.5 815.8,923.5 817,924.1 818.2,925 819.5,925.8 820.7,926.6 821.9,927.5 823.1,928.9 824.3,930.1 825.6,930.9 826.8,932.1 828,932.6 829.2,933.7 830.4,934.4 831.7,935.7 832.9,935.9 834.1,937.1 835.3,938.2 836.5,939.1 837.8,940.1 839,940.4 840.2,941.6 841.4,942.5 842.6,943.2 843.9,943.8 845.1,944.7 846.3,945.7 847.5,946.6 848.8,947.6 850,949 851.2,949.6 852.4,950 853.6,951.6 854.9,952 856.1,953.3 857.3,953.9 858.5,954.7 859.7,955.3 861,956.4 862.2,957.5 863.4,958.6 864.6,959.2 865.8,960.2 867.1,960.7 868.3,961.8 869.5,962.2 870.7,963.7 871.9,964 873.2,965.1 874.4,966.5 875.6,967.6 876.8,968.4 878,969.7 879.3,970.2 880.5,971.6 881.7,972.1 882.9,972.8 884.1,973.4 885.4,974.1 886.6,974.9 887.8,975.7 889,976.6 890.2,977.7 891.5,978.3 892.7,979.5 893.9,980.5 895.1,980.9 896.3,982.1 897.6,983 898.8,984.1 900,984.7 901.2,985.5 902.4,986.1 903.7,986 904.9,987.1 906.1,988 907.3,989.2 908.5,990.4 909.8,991.4 911,992.4 912.2,993.2 913.4,994.1 914.6,995 915.9,995.1 917.1,996.2 918.3,997.3 919.5,997.9 920.8,999 922,999.6 923.2,1000.4 924.4,1001.1 925.6,1002.1 926.9,1003 928.1,1003.6 929.3,1004.6 930.5,1005.5 931.7,1006.2 933,1006.9 934.2,1007.5 935.4,1008.1 936.6,1009.1 937.8,1009.5 939.1,1010.7 940.3,1011.3 941.5,1012.3 942.7,1012.9 943.9,1013.5 945.2,1014.4 946.4,1015.1 947.6,1015.6 948.8,1016.1 950,1017.3 951.3,1018.1 952.5,1018.5 953.7,1019.1 954.9,1020 956.1,1020.8 957.4,1021.1 958.6,1022.2 959.8,1023.1 961,1024 962.2,1024.3 963.5,1025.2 964.7,1025.9 965.9,1026.7 967.1,1027.5 968.3,1028.8 969.6,1029.5 970.8,1030.3 972,1031.5 973.2,1032.2 974.4,1032.2 975.7,1033 976.9,1033.9 978.1,1034.5 979.3,1034.9 980.5,1035.9 981.8,1036.5 983,1037.4 984.2,1038.5 985.4,1039.2 986.6,1039.9 987.9,1040.8 989.1,1041.8 990.3,1042.3 991.5,1043 992.8,1043.6 994,1044.8 995.2,1044.8 996.4,1045.9 997.6,1046.6 998.9,1047.1 1000.1,1047.8 1001.3,1048.5 1002.5,1048.8 1003.7,1049.9 1005,1050.1 1006.2,1051.1 1007.4,1051.9 1008.6,1052.3 1009.8,1053.5 1011.1,1053.9 1012.3,1054.7 1013.5,1056 1014.7,1057 1015.9,1057.1 1017.2,1058.2 1018.4,1058.9 1019.6,1060.2 1020.8,1061 1022,1061.5 1023.3,1062.6 1024.5,1062.6 1025.7,1063.3 1026.9,1064.5 1028.1,1065.6 1029.4,1065.9 1030.6,1066.8 1031.8,1067.9 1033,1068.7 1034.2,1069.4 1035.5,1070.3 1036.7,1071.2 1037.9,1071.4 1039.1,1073.1 1040.3,1073.7 1041.6,1074.4 1042.8,1075.4 1044,1076 1045.2,1076.9 1046.4,1077.7 1047.7,1078.6 1048.9,1079.4 1050.1,1080.4 1051.3,1081.4 1052.5,1082.2 1053.8,1083 1055,1083.7 1056.2,1084.4 1057.4,1086 1058.6,1086.3 1059.9,1087.2 1061.1,1087.7 1062.3,1088.2 1063.5,1088.9 1064.8,1089.8 1066,1090.5 1067.2,1091.2 1068.4,1092.3 1069.6,1093.6 1070.9,1094.3 1072.1,1094.9 1073.3,1095.8 1074.5,1096.3 1075.7,1096.5 1077,1097.3 1078.2,1097.9 1079.4,1098.7 1080.6,1099.8 1081.8,1100.2 1083.1,1101.7 1084.3,1102.8 1085.5,1103.2 1086.7,1104 1087.9,1104.7 1089.2,1105 1090.4,1106.1 1091.6,1106.6 1092.8,1107.7 1094,1108.6 1095.3,1109.5 1096.5,1110.1 1097.7,1110.8 1098.9,1112.3 1100.1,1113.1 1101.4,1113.9 1102.6,1114.9 1103.8,1115 1105,1115.7 1106.2,1116.1 1107.5,1117.3 1108.7,1117.5 1109.9,1118 1111.1,1118.1 1112.3,1118.5 1113.6,1119.3 1114.8,1120.1 1116,1120.7 1117.2,1121.3 1118.4,1122.4 1119.7,1122.5 1120.9,1123.7 1122.1,1123.3 1123.3,1123.8 1124.5,1124.4 1125.8,1124.8 1127,1125.4 1128.2,1125.3 1129.4,1125.6 1130.6,1126.3 1131.9,1126.8 1133.1,1127.1 1134.3,1126.3 1135.5,1126.8 1136.8,1127.7 1138,1128.6 1139.2,1128.7 1140.4,1128.9 1141.6,1128.7 1142.9,1129.8 1144.1,1128.9 1145.3,1130 1146.5,1130 1147.7,1130.2 1149,1131 1150.2,1131.2 1151.4,1132.6 1152.6,1133.4 1153.8,1134.3 1155.1,1134.1 1156.3,1134.1 1157.5,1134.2 1158.7,1134.9 1159.9,1135.3 1161.2,1136.1 1162.4,1136.9 1163.6,1137 1164.8,1137.5 1166,1137.9 1167.3,1139 1168.5,1139.6 1169.7,1140.1 1170.9,1141.1 1172.1,1141.8 1173.4,1142 1174.6,1142.8 1175.8,1143.7 1177,1143.7 1178.2,1144.2 1179.5,1143.8 1180.7,1144.9 1181.9,1144.6 1183.1,1146.7 1184.3,1146.4 1185.6,1147.5 1186.8,1148.1 1188,1147.6 1189.2,1148.1 1190.4,1148.2 1191.7,1150 1192.9,1150.1 1194.1,1149.6 1195.3,1150.5 1196.5,1149.7 1197.8,1150.5 1199,1150.9 1200.2,1152.2 1201.4,1152.9 1202.6,1152.5 1203.9,1152.4 1205.1,1153.4 1206.3,1153.4 1207.5,1153.7 1208.7,1153.9 1210,1155.1 1211.2,1155.2 1212.4,1155.4 1213.6,1154.7 1214.9,1154.5 1216.1,1154.1 1217.3,1154.3 1218.5,1154.6 1219.7,1155.5 1221,1156 1222.2,1156.4 1223.4,1157.6 1224.6,1157.8 1225.8,1158.6 1227.1,1158.8 1228.3,1159.2 1229.5,1160.3 1230.7,1159.3 1231.9,1159.6 1233.2,1160.3 1234.4,1160.4 1235.6,1162.1 1236.8,1163.1 1238,1163.7 1239.3,1163.4 1240.5,1163.7 1241.7,1163.9 1242.9,1164.6 1244.1,1165.7 1245.4,1165 1246.6,1165.9 1247.8,1166.3 1249,1167.2 1250.2,1166.5 1251.5,1167.1 1252.7,1167.5 1253.9,1166.4 1255.1,1166.7 1256.3,1166.4 1257.6,1165.9 1258.8,1166.3 1260,1167 1261.2,1167.2 1262.4,1168 1263.7,1169.1 1264.9,1168.8 1266.1,1168.6 1267.3,1169.2 1268.5,1169.3 1269.8,1169.1 1271,1169.7 1272.2,1169.4 1273.4,1170.7 1274.6,1171.8 1275.9,1172.1 1277.1,1172.8 1278.3,1174.1 1279.5,1174.3 1280.7,1176.2 1282,1176.7 1283.2,1177.3 1284.4,1177 1285.6,1177.4 1286.9,1177.9 1288.1,1177.7 1289.3,1178.5 1290.5,1178.7 1291.7,1179 1293,1180.3 1294.2,1181 1295.4,1181.5 1296.6,1181.8 1297.8,1182.6 1299.1,1183 1300.3,1182.9 1301.5,1183.6 1302.7,1183.1 1303.9,1183.2 1305.2,1183.1 1306.4,1183 1307.6,1182.8 1308.8,1183.2 1310,1182.8 1311.3,1183.7 1312.5,1183.4 1313.7,1183.8 1314.9,1184.3 1316.1,1184.6 1317.4,1185.1 1318.6,1185.3 1319.8,1187.4 1321,1186.9 1322.2,1186.8 1323.5,1187.7 1324.7,1187.2 1325.9,1187 1327.1,1187.6 1328.3,1187.7 1329.6,1188.7 1330.8,1189.4 1332,1190.4 1333.2,1190.4 1334.4,1191 1335.7,1191 1336.9,1191.6 1338.1,1192.3 1339.3,1192.3 1340.5,1192.8 1341.8,1193.4 1343,1193.2 1344.2,1192.7 1345.4,1193.8 1346.6,1193.7 1347.9,1195.1 1349.1,1195.6 1350.3,1194.8 1351.5,1194.9 1352.7,1194.3 1354,1194.7 1355.2,1195.2 1356.4,1195.7 1357.6,1195.9 1358.9,1196.4 1360.1,1196.3 1361.3,1196.9 1362.5,1196.7 1363.7,1197.5 1365,1196.7 1366.2,1197.6 1367.4,1197.9 1368.6,1198.4 1369.8,1200 1371.1,1200.3 1372.3,1199.6 1373.5,1200.6 1374.7,1199.2 1375.9,1199.9 1377.2,1200.1 1378.4,1201 1379.6,1201.9 1380.8,1202 1382,1202.8 1383.3,1204.7 1384.5,1204.5 1385.7,1204.8 1386.9,1206 1388.1,1205.8 1389.4,1206.6 1390.6,1207 1391.8,1208.4 1393,1209.7 1394.2,1209 1395.5,1209.6 1396.7,1209 1397.9,1208.5 1399.1,1209 1400.3,1208.7 1401.6,1209.8 1402.8,1208.3 1404,1209.1 1405.2,1208.9 1406.4,1209.4 1407.7,1209.7 1408.9,1209.6 1410.1,1210.1 1411.3,1209.7 1412.5,1209.6 1413.8,1210.2 1415,1210.7 1416.2,1209.8 1417.4,1211.2 1418.6,1211.3 1419.9,1211.2 1421.1,1210.9 1422.3,1212 1423.5,1211.4 1424.7,1211.8 1426,1212.1 1427.2,1210.3 1428.4,1210.5 1429.6,1212 1430.9,1211.2 1432.1,1211.6 1433.3,1213.6 1434.5,1214.1 1435.7,1214.4 1437,1214.5 1438.2,1214.5 1439.4,1215.1 1440.6,1215.1 1441.8,1215.8 1443.1,1216.8 1444.3,1217.1 1445.5,1216.2 1446.7,1216.4 1447.9,1217 1449.2,1218.2 1450.4,1218.7 1451.6,1219.7 1452.8,1219.8 1454,1220.6 1455.3,1221.2 1456.5,1221.1 1457.7,1220.8 1458.9,1221.4 1460.1,1220.8 1461.4,1221.8 1462.6,1223.2 1463.8,1223.4 1465,1224.5 1466.2,1226.7 1467.5,1227.3 1468.7,1227.3 1469.9,1227.9 1471.1,1226.6 1472.3,1225.8 1473.6,1225.7 1474.8,1225.9 1476,1225.7 1477.2,1226.5 1478.4,1228.3 1479.7,1228.4 1480.9,1228.3 1482.1,1227.6 1483.3,1226.8 1484.5,1227.5 1485.8,1226.1 1487,1227.2 1488.2,1227.3 1489.4,1226 1490.6,1227.8 1491.9,1226.8 1493.1,1226.4 1494.3,1225.4 1495.5,1225.6 1496.7,1226.5 1498,1226.3 1499.2,1227.3 1500.4,1228.7 1501.6,1228.8 1502.8,1229 1504.1,1229.3 1505.3,1229.3 1506.5,1230.3 1507.7,1230.5 1509,1231.6 1510.2,1231.4 1511.4,1232.5 1512.6,1231.8 1513.8,1231.3 1515.1,1230.7 1516.3,1233 1517.5,1233.8 1518.7,1235.2 1519.9,1235.3 1521.2,1236 1522.4,1236.3 1523.6,1235.2 1524.8,1235.8 1526,1234 1527.3,1235.5 1528.5,1235.5 1529.7,1236.7 1530.9,1237.2 1532.1,1236.5 1533.4,1236.8 1534.6,1237.1 1535.8,1236.6 1537,1237.7 1538.2,1237.4 1539.5,1239.2 1540.7,1239.9 1541.9,1239.8 1543.1,1239.9 1544.3,1239.1 1545.6,1240.2 1546.8,1240.5 1548,1241.1 1549.2,1242.3 1550.4,1241.6 1551.7,1243.4 1552.9,1244 1554.1,1242.2 1555.3,1243.1 1556.5,1242.5 1557.8,1241.9 1559,1242.8 1560.2,1240.5 1561.4,1239.5 1562.6,1240.8 1563.9,1240.4 1565.1,1239.1 1566.3,1238.6 1567.5,1238.4 1568.7,1238 1570,1240.2 1571.2,1240.1 1572.4,1241.6 1573.6,1240.7 1574.8,1240.8 1576.1,1240.2 1577.3,1240.9 1578.5,1241.3 1579.7,1240 1581,1238.9 1582.2,1238.3 1583.4,1238.1 1584.6,1237.7 1585.8,1238.4 1587.1,1238.5 1588.3,1239.7 1589.5,1239.1 1590.7,1240.2 1591.9,1238.3 1593.2,1240.2 1594.4,1241.6 1595.6,1241.9 1596.8,1243 1598,1241.5 1599.3,1241 1600.5,1239.9 1601.7,1240.7 1602.9,1240.3 1604.1,1240.6 1605.4,1241.2 1606.6,1240.6 1607.8,1238.9 1609,1241 1610.2,1239.7 1611.5,1240.7 1612.7,1240.3 1613.9,1240.3 1615.1,1239.5 1616.3,1239.3 1617.6,1239.3 1618.8,1240.2 1620,1240.7 1621.2,1239.2 1622.4,1238 1623.7,1237.8 1624.9,1236.7 1626.1,1235.9 1627.3,1236.5 1628.5,1236.8 1629.8,1237.7 1631,1237.9 1632.2,1237.1 1633.4,1236.9 1634.6,1237.2 1635.9,1237.1 1637.1,1239.2 1638.3,1238.5 1639.5,1238.1 1640.7,1237.6 1642,1238.9 1643.2,1238.7 1644.4,1237.9 1645.6,1237.7 1646.8,1239 1648.1,1239.7 1649.3,1238.4 1650.5,1239.4 1651.7,1239.5 1653,1239.3 1654.2,1240.2 1655.4,1239.5 1656.6,1237.5 1657.8,1237.5 1659.1,1235.6 1660.3,1235.5 1661.5,1235.7 1662.7,1235.9 1663.9,1235.4 1665.2,1235.5 1666.4,1235.3 1667.6,1235.1 1668.8,1234.4 1670,1234.6 1671.3,1234.1 1672.5,1234.1 1673.7,1232.5 1674.9,1232.8 1676.1,1232.8 1677.4,1231.5 1678.6,1232.7 1679.8,1235.1 1681,1235.5 1682.2,1234.9 1683.5,1234.6 1684.7,1236.2 1685.9,1236.4 1687.1,1234.5 1688.3,1235.9 1689.6,1236.9 1690.8,1237.2 1692,1235.5 1693.2,1234.9 1694.4,1235.3 1695.7,1234.4 1696.9,1234.9 1698.1,1234.5 1699.3,1235.3 1700.5,1234.2 1701.8,1234.4 1703,1234.8 1704.2,1235 1705.4,1235.3 1706.6,1235.3 1707.9,1234.6 1709.1,1233.9 1710.3,1234.5 1711.5,1233.5 1712.7,1233.4 1714,1232.3 1715.2,1232.9 1716.4,1232.7 1717.6,1234.2 1718.8,1234.4 1720.1,1234.8 1721.3,1236.7 1722.5,1236.5 1723.7,1236.5 1725,1238.3 1726.2,1236.9 1727.4,1235 1728.6,1236.7 1729.8,1235.3 1731.1,1235.8 1732.3,1234.5 1733.5,1232 1734.7,1232.3 1735.9,1230.3 1737.2,1230.9 1738.4,1229.9 1739.6,1230.9 1740.8,1231.6 1742,1233.1 1743.3,1233.1 1744.5,1235.3 1745.7,1233.2 1746.9,1233.6 1748.1,1233.9 1749.4,1233.3 1750.6,1231.5 1751.8,1233.1 1753,1231.9 1754.2,1231.5 1755.5,1232.1 1756.7,1232.5 1757.9,1231.7 1759.1,1229.8 1760.3,1229.2 1761.6,1228.9 1762.8,1227.5 1764,1229.1 1765.2,1230.3 1766.4,1232.1 1767.7,1234.1 1768.9,1233.7 1770.1,1234.7 1771.3,1235.8 1772.5,1237.1 1773.8,1237.3 1775,1235.8 1776.2,1234.8 1777.4,1233.4 1778.6,1232.4 1779.9,1233.4 1781.1,1233.5 1782.3,1233.5 1783.5,1234 1784.7,1235.2 1786,1235.3 1787.2,1236.6 1788.4,1236.1 1789.6,1237.1 1790.8,1237.5 1792.1,1235.8 1793.3,1236.2 1794.5,1237.5 1795.7,1236 1797,1237.1 1798.2,1235.1 1799.4,1236.2 1800.6,1236.2 1801.8,1237.4 1803.1,1236 1804.3,1232.7 1805.5,1234.4 1806.7,1233.7 1807.9,1233.3 1809.2,1234.7 1810.4,1232.7 1811.6,1234 1812.8,1231.2 1814,1232.2 1815.3,1234 1816.5,1234.5 1817.7,1236.6 1818.9,1236.9 1820.1,1238.1 1821.4,1238.7 1822.6,1235.5 1823.8,1234 1825,1233.7 1826.2,1232.2 1827.5,1232.2 1828.7,1233.8 1829.9,1233.8 1831.1,1234.8 1832.3,1235.4 1833.6,1235.1 1834.8,1234.3 1836,1234.9 1837.2,1234.5 1838.4,1235.7 1839.7,1233.7 1840.9,1232.8 1842.1,1232.7 1843.3,1231.7 1844.5,1231.4 1845.8,1230.4 1847,1232.7 1848.2,1233.4 1849.4,1232.5 1850.6,1233.1 1851.9,1233.2 1853.1,1232.8 1854.3,1235.2 1855.5,1233.5 1856.7,1232.7 1858,1232 1859.2,1230.7 1860.4,1231.1 1861.6,1231.2 1862.8,1232.3 1864.1,1233 1865.3,1234 1866.5,1234.3 1867.7,1234.6 1868.9,1232.7 1870.2,1234.2 1871.4,1233.4 1872.6,1229.6 1873.8,1229.9 1875.1,1229.3 1876.3,1230.6 1877.5,1231.2 1878.7,1231.6 1879.9,1232.1 1881.2,1233.2 1882.4,1234.2 1883.6,1235.1 1884.8,1235.6 1886,1235.6 1887.3,1236.1 1888.5,1235.8 1889.7,1235.6 1890.9,1235.7 1892.1,1236 1893.4,1236.2 1894.6,1236.7 1895.8,1236.7 1897,1236.8 1898.2,1237.5 1899.5,1237.4 1900.7,1238.8 1901.9,1238.5 1903.1,1239.4 1904.3,1240.2 1905.6,1240.6 1906.8,1241.2 1908,1240.9 1909.2,1241.7 1910.4,1241.5 1911.7,1241.8 1912.9,1241.8 1914.1,1241.9 1915.3,1241.7 1916.5,1241.9 1917.8,1242 1919,1242.4 1920.2,1242.4 1921.4,1244.1 1922.6,1245.2 1923.9,1245.3 1925.1,1245.7 1926.3,1246.1 1927.5,1245.6 1928.7,1247 1930,1246.3 1931.2,1245.8 1932.4,1246.4 1933.6,1248.3 1934.8,1249.4 1936.1,1246.7 1937.3,1245.1 1938.5,1243.4 1939.7,1244.2 1940.9,1244.5 1942.2,1244.3 1943.4,1244.2 1944.6,1243.7 1945.8,1243.7 1947.1,1242.9 1948.3,1242.8 1949.5,1243.2 1950.7,1243.4 1951.9,1244.1 1953.2,1244 1954.4,1243.4 1955.6,1243.4 1956.8,1244.4 1958,1244.8 1959.3,1245.1 1960.5,1246 1961.7,1243.7 1962.9,1244.5 1964.1,1242.3 1965.4,1243.2 1966.6,1243 1967.8,1244.2 1969,1245.2 1970.2,1246.2 1971.5,1247.6 1972.7,1248.1 1973.9,1247.7 1975.1,1247.6 1976.3,1247.5 1977.6,1245.6 1978.8,1244.4 1980,1244.3 1981.2,1243.6 1982.4,1243.6 1983.7,1242.5 1984.9,1243.6 1986.1,1242.7 1987.3,1244 1988.5,1244.3 1989.8,1242.4 1991,1244.5 1992.2,1245.2 1993.4,1245.8 1994.6,1245 1995.9,1244.2 1997.1,1244.6 1998.3,1246.7 1999.5,1246.7 2000.7,1248.3 2002,1248.6 2003.2,1247.4 2004.4,1246.3 2005.6,1246.7 2006.8,1246.1 2008.1,1245.1 2009.3,1244.4 2010.5,1245 2011.7,1246.3 2012.9,1245.9 2014.2,1248.3 2015.4,1246.7 2016.6,1246.8 2017.8,1245.9 2019.1,1244.4 2020.3,1245.2 2021.5,1245.1 2022.7,1243.9 2023.9,1244.3 2025.2,1244.6 2026.4,1245.3 2027.6,1244.8 2028.8,1245.9 2030,1248 2031.3,1247.2 2032.5,1248.2 2033.7,1248.2 2034.9,1247 2036.1,1247.6 2037.4,1245.6 2038.6,1246.2 2039.8,1246.5 2041,1245.4 2042.2,1244.7 2043.5,1242.7 2044.7,1243.4 2045.9,1243.8 2047.1,1242.2 2048.3,1242.6 2049.6,1242 2050.8,1243.7 2052,1241.8" fill="none" stroke="#ed2024" stroke-width="4.2" stroke-linejoin="round"/>
<rect x="228.7" y="133.8" width="23" height="19.8" fill="none" stroke="#ed2024" stroke-width="4.2" stroke-linejoin="miter" stroke-miterlimit="10"/>
<rect x="402.2" y="462.1" width="23" height="19.8" fill="none" stroke="#ed2024" stroke-width="4.2" stroke-linejoin="miter" stroke-miterlimit="10"/>
<rect x="574" y="693.1" width="23" height="19.8" fill="none" stroke="#ed2024" stroke-width="4.2" stroke-linejoin="miter" stroke-miterlimit="10"/>
<rect x="748" y="866.4" width="23" height="19.8" fill="none" stroke="#ed2024" stroke-width="4.2" stroke-linejoin="miter" stroke-miterlimit="10"/>
<rect x="921.8" y="998.1" width="23" height="19.8" fill="none" stroke="#ed2024" stroke-width="4.2" stroke-linejoin="miter" stroke-miterlimit="10"/>
<rect x="1093.5" y="1108.1" width="23" height="19.8" fill="none" stroke="#ed2024" stroke-width="4.2" stroke-linejoin="miter" stroke-miterlimit="10"/>
<rect x="1267.2" y="1167.1" width="23" height="19.8" fill="none" stroke="#ed2024" stroke-width="4.2" stroke-linejoin="miter" stroke-miterlimit="10"/>
<rect x="1439" y="1209.1" width="23" height="19.8" fill="none" stroke="#ed2024" stroke-width="4.2" stroke-linejoin="miter" stroke-miterlimit="10"/>
<rect x="1612.8" y="1230.1" width="23" height="19.8" fill="none" stroke="#ed2024" stroke-width="4.2" stroke-linejoin="miter" stroke-miterlimit="10"/>
<rect x="1784.5" y="1224.1" width="23" height="19.8" fill="none" stroke="#ed2024" stroke-width="4.2" stroke-linejoin="miter" stroke-miterlimit="10"/>
<rect x="1958.5" y="1235" width="23" height="19.8" fill="none" stroke="#ed2024" stroke-width="4.2" stroke-linejoin="miter" stroke-miterlimit="10"/>
<path d="M222.7,117.1 223.9,121.3 225.2,125.6 226.4,129.8 227.6,134 228.8,138.3 230,142.5 231.3,146.6 232.5,150.8 233.7,155 234.9,159.1 236.1,163.3 237.4,167.4 238.6,171.6 239.8,175.6 241,179.8 242.2,183.8 243.5,187.9 244.7,191.8 245.9,195.9 247.1,199.8 248.3,203.8 249.6,207.6 250.8,211.7 252,215.6 253.2,219.5 254.4,223.5 255.7,227.3 256.9,231.5 258.1,235.5 259.3,239.9 260.6,243.8 261.8,248.1 263,252.5 264.2,256.6 265.4,261.5 266.7,265.5 267.9,270 269.1,274.3 270.3,278.7 271.5,282.9 272.8,287.5 274,291.8 275.2,296.3 276.4,300.7 277.6,305.1 278.9,309.1 280.1,313.3 281.3,317.2 282.5,322 283.7,325.5 285,329.7 286.2,333.3 287.4,337.5 288.6,341.4 289.8,345.1 291.1,348.6 292.3,352 293.5,356 294.7,359.3 295.9,363.1 297.2,366.5 298.4,369.5 299.6,373.3 300.8,377.5 302,380.5 303.3,383.6 304.5,387.3 305.7,390 306.9,393.6 308.1,397.5 309.4,400.2 310.6,403.2 311.8,406.2 313,409.8 314.2,412.7 315.5,415.1 316.7,418.6 317.9,421.5 319.1,424.5 320.3,427.1 321.6,430.4 322.8,433 324,436.2 325.2,438.4 326.4,440.9 327.7,444.1 328.9,446.8 330.1,449.5 331.3,452.8 332.6,454.8 333.8,457.4 335,460.1 336.2,462.7 337.4,465.5 338.7,467.8 339.9,470.6 341.1,472.5 342.3,475.1 343.5,477.6 344.8,480.1 346,482 347.2,484.4 348.4,486.6 349.6,488.9 350.9,491.4 352.1,493.5 353.3,495.3 354.5,497 355.7,499.3 357,501.8 358.2,503.5 359.4,505.8 360.6,507.9 361.8,509.7 363.1,511.1 364.3,513.4 365.5,515.2 366.7,517.1 367.9,518.6 369.2,520 370.4,522.6 371.6,524 372.8,525.6 374,527.4 375.3,530.1 376.5,530.7 377.7,532.9 378.9,534.4 380.1,536.2 381.4,538 382.6,539.8 383.8,541.2 385,543.2 386.2,544.7 387.5,546.5 388.7,547.3 389.9,549.5 391.1,551.6 392.3,553 393.6,555.2 394.8,556.7 396,558.9 397.2,560.3 398.4,562.2 399.7,564.1 400.9,566.3 402.1,567.5 403.3,569.3 404.5,571.3 405.8,573.5 407,575.5 408.2,577.7 409.4,579.4 410.7,581.5 411.9,583.5 413.1,585.2 414.3,586.9 415.5,589.2 416.8,592 418,593.1 419.2,595.5 420.4,598 421.6,599.3 422.9,601.6 424.1,603.5 425.3,605.8 426.5,607.3 427.7,609.4 429,611.5 430.2,613.6 431.4,615 432.6,617 433.8,618.9 435.1,620.7 436.3,622.2 437.5,624.4 438.7,626.5 439.9,628.2 441.2,629.4 442.4,631.6 443.6,633.2 444.8,634.9 446,636.3 447.3,638.1 448.5,639.6 449.7,640.7 450.9,643.2 452.1,644.8 453.4,646.5 454.6,647.6 455.8,649 457,650.8 458.2,652.2 459.5,653.4 460.7,655.8 461.9,657.2 463.1,658 464.3,659.4 465.6,661.1 466.8,662.9 468,664.2 469.2,665.9 470.4,667.9 471.7,669.8 472.9,670.5 474.1,671.7 475.3,673.5 476.5,675.3 477.8,677 479,678 480.2,679.2 481.4,680.9 482.7,682.5 483.9,683.8 485.1,685.2 486.3,686.5 487.5,688.1 488.8,689.5 490,691.2 491.2,692.7 492.4,694.1 493.6,695.7 494.9,697 496.1,698 497.3,699.1 498.5,701.3 499.7,702.7 501,704 502.2,704.8 503.4,706.8 504.6,708.3 505.8,709.7 507.1,710.6 508.3,712.9 509.5,713.7 510.7,715 511.9,716.5 513.2,718 514.4,719.3 515.6,720.5 516.8,722.1 518,723.8 519.3,724.7 520.5,726.4 521.7,728.1 522.9,729.1 524.1,730.2 525.4,732.2 526.6,733.7 527.8,735 529,736.7 530.2,738 531.5,739.1 532.7,740.1 533.9,741.6 535.1,743.1 536.3,744.6 537.6,746.5 538.8,748.1 540,748.9 541.2,750 542.4,752.4 543.7,753.4 544.9,754.5 546.1,756.2 547.3,757.4 548.5,759 549.8,759.7 551,761.5 552.2,762.9 553.4,764.3 554.7,766 555.9,766.3 557.1,768.1 558.3,770.1 559.5,771.2 560.8,773 562,773.9 563.2,775.2 564.4,776.9 565.6,778.1 566.9,779.6 568.1,780.9 569.3,781.8 570.5,783.4 571.7,784.8 573,786 574.2,787.4 575.4,788.4 576.6,790.1 577.8,791.5 579.1,792.7 580.3,794.1 581.5,796.1 582.7,797 583.9,798.1 585.2,799.2 586.4,801.4 587.6,802.8 588.8,803.4 590,805.3 591.3,806.2 592.5,807.8 593.7,808.8 594.9,810 596.1,811.3 597.4,812.4 598.6,814.3 599.8,815.1 601,816.8 602.2,818.4 603.5,819.6 604.7,821.1 605.9,822.6 607.1,823.9 608.3,825 609.6,826.2 610.8,827.8 612,829.1 613.2,830.4 614.4,831.5 615.7,833.4 616.9,834.2 618.1,835.7 619.3,837.3 620.5,838.1 621.8,839.2 623,840.5 624.2,841.8 625.4,843.4 626.7,844.4 627.9,846.5 629.1,847.2 630.3,848.4 631.5,850.5 632.8,851.1 634,852.6 635.2,854.3 636.4,854.9 637.6,856.7 638.9,857.8 640.1,858.9 641.3,860.3 642.5,861.2 643.7,862.6 645,864.5 646.2,864.9 647.4,866.1 648.6,867.3 649.8,868.7 651.1,870.1 652.3,871.1 653.5,872.1 654.7,873.6 655.9,874.5 657.2,875.3 658.4,876.8 659.6,877.7 660.8,879.1 662,880.7 663.3,881.8 664.5,882.7 665.7,884 666.9,885 668.1,886 669.4,887.6 670.6,888.8 671.8,890.4 673,891.4 674.2,892.7 675.5,893.8 676.7,894.6 677.9,895.8 679.1,896.8 680.3,898.2 681.6,899.1 682.8,900.2 684,901.2 685.2,902.7 686.4,903.7 687.7,904.5 688.9,906 690.1,906.5 691.3,908 692.5,908.7 693.8,910.1 695,911.4 696.2,912.4 697.4,913.7 698.7,914.9 699.9,915.6 701.1,917.2 702.3,918.7 703.5,919.9 704.8,920.4 706,921.5 707.2,922.8 708.4,923.3 709.6,924.4 710.9,925.8 712.1,927.4 713.3,928.3 714.5,928.8 715.7,929.9 717,931.7 718.2,933 719.4,933.5 720.6,934.5 721.8,936.1 723.1,936.7 724.3,937.9 725.5,939.1 726.7,940.6 727.9,941 729.2,942.4 730.4,943.5 731.6,944.6 732.8,945.9 734,946.3 735.3,948.3 736.5,949.3 737.7,949.7 738.9,950.8 740.1,952.6 741.4,954 742.6,954.6 743.8,955.6 745,956.4 746.2,958.3 747.5,958.6 748.7,959.9 749.9,960.4 751.1,961.7 752.3,962 753.6,963.4 754.8,964.3 756,965.5 757.2,966.7 758.4,967.7 759.7,968.6 760.9,970 762.1,970.8 763.3,972.6 764.5,973.8 765.8,974.5 767,975.8 768.2,976.5 769.4,977.4 770.6,978.9 771.9,979.7 773.1,980.4 774.3,981.9 775.5,982.8 776.8,984.1 778,985 779.2,985.9 780.4,987 781.6,987.6 782.9,988.6 784.1,990.1 785.3,991 786.5,991.8 787.7,992.8 789,993.4 790.2,994.7 791.4,995.5 792.6,997.4 793.8,998.7 795.1,999.2 796.3,1000.3 797.5,1001 798.7,1002.1 799.9,1002.8 801.2,1004 802.4,1005.1 803.6,1005.8 804.8,1007.4 806,1007.7 807.3,1009.5 808.5,1010.2 809.7,1011.6 810.9,1012.4 812.1,1013.4 813.4,1014.1 814.6,1015.1 815.8,1016.5 817,1017.4 818.2,1018 819.5,1019.6 820.7,1020.4 821.9,1021 823.1,1022.1 824.3,1023 825.6,1024.5 826.8,1025 828,1026.6 829.2,1027.4 830.4,1028.7 831.7,1029.7 832.9,1030.4 834.1,1031.6 835.3,1032.6 836.5,1033.4 837.8,1034.1 839,1035.8 840.2,1036.5 841.4,1037.9 842.6,1039.1 843.9,1040 845.1,1040.7 846.3,1042.2 847.5,1042.4 848.8,1043.8 850,1044.8 851.2,1045.9 852.4,1047 853.6,1048.2 854.9,1049.2 856.1,1050.6 857.3,1051.6 858.5,1052.2 859.7,1052.6 861,1053.9 862.2,1054.4 863.4,1056.3 864.6,1056.5 865.8,1058.1 867.1,1059.1 868.3,1060.3 869.5,1061 870.7,1061.6 871.9,1062.1 873.2,1063.2 874.4,1064.1 875.6,1064.5 876.8,1065.1 878,1066.2 879.3,1067.1 880.5,1067.7 881.7,1068.3 882.9,1069.7 884.1,1070.5 885.4,1071.1 886.6,1072.7 887.8,1073.6 889,1074.6 890.2,1075.9 891.5,1076.3 892.7,1077.3 893.9,1077.6 895.1,1078.5 896.3,1078.8 897.6,1079.4 898.8,1079.7 900,1081.1 901.2,1081.7 902.4,1083 903.7,1083.5 904.9,1084.2 906.1,1085 907.3,1085.7 908.5,1086.9 909.8,1087.7 911,1088.3 912.2,1089.3 913.4,1089.9 914.6,1090.8 915.9,1091 917.1,1091.8 918.3,1092.2 919.5,1093 920.8,1093.5 922,1094.5 923.2,1095.5 924.4,1097.1 925.6,1098.2 926.9,1099.2 928.1,1099.6 929.3,1100.3 930.5,1101.2 931.7,1101.7 933,1102 934.2,1102.9 935.4,1103.8 936.6,1104.5 937.8,1105.3 939.1,1105.8 940.3,1106.9 941.5,1107.3 942.7,1108 943.9,1108.7 945.2,1108.9 946.4,1109.9 947.6,1110.5 948.8,1111.4 950,1112.5 951.3,1113.3 952.5,1113.6 953.7,1114.9 954.9,1115.4 956.1,1116.4 957.4,1116.9 958.6,1117.5 959.8,1117.7 961,1118.5 962.2,1118.8 963.5,1119.8 964.7,1120.2 965.9,1121.7 967.1,1122.3 968.3,1122.6 969.6,1123.1 970.8,1124.5 972,1125.1 973.2,1125.6 974.4,1126 975.7,1127.1 976.9,1127.6 978.1,1128.2 979.3,1129.1 980.5,1129.6 981.8,1130.1 983,1130.7 984.2,1130.9 985.4,1131.6 986.6,1132.2 987.9,1132.2 989.1,1133.4 990.3,1133.5 991.5,1134.1 992.8,1135.2 994,1136.1 995.2,1137.3 996.4,1137.6 997.6,1138.1 998.9,1139.1 1000.1,1139.3 1001.3,1140.6 1002.5,1141 1003.7,1141.7 1005,1142.5 1006.2,1142.8 1007.4,1143.2 1008.6,1144 1009.8,1144.4 1011.1,1146 1012.3,1146.8 1013.5,1147.6 1014.7,1148.4 1015.9,1148.6 1017.2,1149.1 1018.4,1148.8 1019.6,1149.6 1020.8,1150.1 1022,1150.2 1023.3,1150.3 1024.5,1151.6 1025.7,1151.4 1026.9,1152 1028.1,1152.6 1029.4,1153.3 1030.6,1154.3 1031.8,1154.3 1033,1154.7 1034.2,1155.7 1035.5,1156.2 1036.7,1157 1037.9,1157 1039.1,1157.5 1040.3,1158.5 1041.6,1158.3 1042.8,1159.4 1044,1159.5 1045.2,1160.4 1046.4,1160.2 1047.7,1161.3 1048.9,1161.8 1050.1,1163.6 1051.3,1163.6 1052.5,1164.2 1053.8,1164.2 1055,1165 1056.2,1165.4 1057.4,1166.1 1058.6,1166.5 1059.9,1166.8 1061.1,1167.2 1062.3,1167.5 1063.5,1167.5 1064.8,1167.6 1066,1168.2 1067.2,1168.1 1068.4,1168.9 1069.6,1169.7 1070.9,1170.3 1072.1,1171.2 1073.3,1171.8 1074.5,1172.6 1075.7,1172.8 1077,1173.8 1078.2,1174.3 1079.4,1175 1080.6,1175.3 1081.8,1175.6 1083.1,1175.8 1084.3,1176 1085.5,1176.4 1086.7,1176.4 1087.9,1177.3 1089.2,1178.7 1090.4,1179.3 1091.6,1180.7 1092.8,1181.8 1094,1182.2 1095.3,1183.3 1096.5,1183.1 1097.7,1183.7 1098.9,1184.5 1100.1,1184.6 1101.4,1185.4 1102.6,1186.1 1103.8,1186.1 1105,1186.8 1106.2,1188 1107.5,1187.3 1108.7,1188.5 1109.9,1189.1 1111.1,1190.2 1112.3,1190.3 1113.6,1191.5 1114.8,1192.6 1116,1193.1 1117.2,1193.6 1118.4,1193.8 1119.7,1193.8 1120.9,1194.4 1122.1,1195.3 1123.3,1196.7 1124.5,1197.2 1125.8,1198 1127,1199.3 1128.2,1199.1 1129.4,1200.5 1130.6,1201.1 1131.9,1201.2 1133.1,1202.9 1134.3,1203.3 1135.5,1202.9 1136.8,1203 1138,1203.6 1139.2,1203.7 1140.4,1203.9 1141.6,1204.9 1142.9,1204.9 1144.1,1205.3 1145.3,1205.8 1146.5,1206.3 1147.7,1206.2 1149,1206.4 1150.2,1207.8 1151.4,1206.8 1152.6,1207.6 1153.8,1207.6 1155.1,1209.1 1156.3,1209.5 1157.5,1207.5 1158.7,1208 1159.9,1205.3 1161.2,1205.1 1162.4,1205 1163.6,1204.9 1164.8,1205 1166,1205.6 1167.3,1207.6 1168.5,1207.4 1169.7,1206.9 1170.9,1206.7 1172.1,1209.3 1173.4,1207.4 1174.6,1209 1175.8,1207.1 1177,1207.2 1178.2,1210.1 1179.5,1210.3 1180.7,1210.8 1181.9,1214.3 1183.1,1213.8 1184.3,1212.4 1185.6,1213.7 1186.8,1212.3 1188,1210.4 1189.2,1209.5 1190.4,1208.8 1191.7,1209.5 1192.9,1209.2 1194.1,1209.1 1195.3,1206.9 1196.5,1209.2 1197.8,1210.6 1199,1211.2 1200.2,1212.6 1201.4,1214.9 1202.6,1215.1 1203.9,1214.8 1205.1,1213 1206.3,1212.3 1207.5,1213.6 1208.7,1211.8 1210,1212.8 1211.2,1213 1212.4,1214.8 1213.6,1213.9 1214.9,1216.6 1216.1,1217.6 1217.3,1217.3 1218.5,1218.6 1219.7,1218 1221,1218.7 1222.2,1219.4 1223.4,1219.7 1224.6,1218.7 1225.8,1218.7 1227.1,1219.4 1228.3,1219 1229.5,1219.2 1230.7,1220.6 1231.9,1222 1233.2,1222.2 1234.4,1222.5 1235.6,1223.6 1236.8,1224.3 1238,1224.4 1239.3,1225.1 1240.5,1225 1241.7,1224.2 1242.9,1225.7 1244.1,1225.4 1245.4,1226.5 1246.6,1227.8 1247.8,1227.8 1249,1228 1250.2,1229.4 1251.5,1229.5 1252.7,1229.5 1253.9,1229.3 1255.1,1230.1 1256.3,1230.7 1257.6,1231.2 1258.8,1231.8 1260,1232.5 1261.2,1232.4 1262.4,1233.9 1263.7,1233.5 1264.9,1233.8 1266.1,1234.3 1267.3,1234.8 1268.5,1235.4 1269.8,1234.7 1271,1237.3 1272.2,1236.2 1273.4,1237 1274.6,1239.2 1275.9,1238.1 1277.1,1238.6 1278.3,1236 1279.5,1235.1 1280.7,1233.6 1282,1232.2 1283.2,1231.5 1284.4,1231.3 1285.6,1232.1 1286.9,1232.6 1288.1,1233.9 1289.3,1234 1290.5,1233.9 1291.7,1235 1293,1234 1294.2,1234.4 1295.4,1234.2 1296.6,1233.8 1297.8,1233.3 1299.1,1234.2 1300.3,1234.1 1301.5,1236.6 1302.7,1236.6 1303.9,1236.2 1305.2,1235.9 1306.4,1234.6 1307.6,1235.4 1308.8,1232.9 1310,1235.8 1311.3,1235.1 1312.5,1234 1313.7,1237 1314.9,1236.3 1316.1,1234.8 1317.4,1236.2 1318.6,1236.2 1319.8,1237.6 1321,1237.3 1322.2,1235.9 1323.5,1235.6 1324.7,1233.6 1325.9,1233.5 1327.1,1233.4 1328.3,1234.1 1329.6,1233.6 1330.8,1233.6 1332,1233.5 1333.2,1233.1 1334.4,1232.4 1335.7,1231.6 1336.9,1230.7 1338.1,1230.9 1339.3,1227.9 1340.5,1228.5 1341.8,1228.9 1343,1227.9 1344.2,1226.8 1345.4,1225.7 1346.6,1225.6 1347.9,1224.6 1349.1,1224 1350.3,1223.6 1351.5,1223.7 1352.7,1223.2 1354,1224.9 1355.2,1226 1356.4,1226.9 1357.6,1227.2 1358.9,1227.7 1360.1,1229.1 1361.3,1229.2 1362.5,1230.9 1363.7,1231.3 1365,1230.7 1366.2,1231.3 1367.4,1231.6 1368.6,1232 1369.8,1233.1 1371.1,1233.7 1372.3,1234.8 1373.5,1236.7 1374.7,1237.7 1375.9,1237.5 1377.2,1238.7 1378.4,1238.3 1379.6,1237.9 1380.8,1237.8 1382,1237.4 1383.3,1237.7 1384.5,1237.7 1385.7,1238.1 1386.9,1238.9 1388.1,1239 1389.4,1240.2 1390.6,1240.8 1391.8,1241.1 1393,1240.4 1394.2,1242 1395.5,1241.7 1396.7,1240.5 1397.9,1240.6 1399.1,1238.8 1400.3,1238.4 1401.6,1238.6 1402.8,1240.5 1404,1239.9 1405.2,1240.8 1406.4,1239.8 1407.7,1242.4 1408.9,1243.6 1410.1,1242.9 1411.3,1243.8 1412.5,1242.9 1413.8,1240.9 1415,1241.2 1416.2,1242.5 1417.4,1239.1 1418.6,1241.2 1419.9,1242.4 1421.1,1240.9 1422.3,1240.7 1423.5,1244 1424.7,1243.6 1426,1241 1427.2,1242.4 1428.4,1242.6 1429.6,1244.6 1430.9,1244.4 1432.1,1245 1433.3,1246.2 1434.5,1242.7 1435.7,1243.9 1437,1241.4 1438.2,1243.2 1439.4,1243.4 1440.6,1243.7 1441.8,1244.2 1443.1,1245 1444.3,1244.8 1445.5,1244.1 1446.7,1243.7 1447.9,1243.2 1449.2,1244.1 1450.4,1244.3 1451.6,1244.9 1452.8,1245 1454,1245.2 1455.3,1245.6 1456.5,1243.9 1457.7,1244.2 1458.9,1243.5 1460.1,1242.4 1461.4,1242.3 1462.6,1241.9 1463.8,1240.5 1465,1242.3 1466.2,1242.3 1467.5,1241.5 1468.7,1239.1 1469.9,1239 1471.1,1240.2 1472.3,1239.2 1473.6,1239.2 1474.8,1238.9 1476,1239.4 1477.2,1238.9 1478.4,1237.7 1479.7,1236.8 1480.9,1236.9 1482.1,1239.8 1483.3,1240 1484.5,1240.3 1485.8,1240.8 1487,1240.5 1488.2,1241.9 1489.4,1242.6 1490.6,1242.4 1491.9,1241.4 1493.1,1240.7 1494.3,1241 1495.5,1240.6 1496.7,1240.7 1498,1241.9 1499.2,1241.9 1500.4,1241.9 1501.6,1243.4 1502.8,1244.4 1504.1,1244 1505.3,1245.1 1506.5,1245.4 1507.7,1244.5 1509,1245.1 1510.2,1245.9 1511.4,1244.3 1512.6,1244.6 1513.8,1243.6 1515.1,1242.6 1516.3,1242.3 1517.5,1243.5 1518.7,1243.7 1519.9,1243.8 1521.2,1243.4 1522.4,1243 1523.6,1243.4 1524.8,1242.3 1526,1243.2 1527.3,1242.1 1528.5,1244.4 1529.7,1245.7 1530.9,1246.6 1532.1,1247 1533.4,1247.4 1534.6,1248.4 1535.8,1247.2 1537,1248.4 1538.2,1248.7 1539.5,1249.9 1540.7,1250.1 1541.9,1249.8 1543.1,1250.6 1544.3,1250.3 1545.6,1250.7 1546.8,1251.6 1548,1252.4 1549.2,1252.6 1550.4,1251.9 1551.7,1252.7 1552.9,1253.9 1554.1,1254.1 1555.3,1255 1556.5,1255.6 1557.8,1256.5 1559,1257.2 1560.2,1257 1561.4,1256.1 1562.6,1255 1563.9,1256.1 1565.1,1256.4 1566.3,1257.2 1567.5,1255.8 1568.7,1257.2 1570,1259.2 1571.2,1258.4 1572.4,1257.8 1573.6,1257.2 1574.8,1256.9 1576.1,1258.1 1577.3,1258.4 1578.5,1257.3 1579.7,1258.2 1581,1259.7 1582.2,1258.7 1583.4,1258.6 1584.6,1257.7 1585.8,1258.2 1587.1,1258.1 1588.3,1258.7 1589.5,1259 1590.7,1258.6 1591.9,1257.4 1593.2,1258.6 1594.4,1260 1595.6,1257.2 1596.8,1257.7 1598,1255.8 1599.3,1255.5 1600.5,1255.9 1601.7,1256.6 1602.9,1258.9 1604.1,1258.7 1605.4,1261.6 1606.6,1262.6 1607.8,1263.6 1609,1263.3 1610.2,1266.1 1611.5,1264.4 1612.7,1265.8 1613.9,1266.3 1615.1,1262.6 1616.3,1262.4 1617.6,1262.8 1618.8,1263.5 1620,1263.7 1621.2,1265 1622.4,1265.5 1623.7,1263.9 1624.9,1264.5 1626.1,1264 1627.3,1264.7 1628.5,1264.9 1629.8,1263.5 1631,1263.7 1632.2,1263.6 1633.4,1263 1634.6,1262.4 1635.9,1263 1637.1,1264 1638.3,1263.9 1639.5,1263.6 1640.7,1262.9 1642,1265 1643.2,1262.5 1644.4,1261.6 1645.6,1262.7 1646.8,1260.6 1648.1,1258 1649.3,1259.3 1650.5,1258.2 1651.7,1259.2 1653,1259 1654.2,1260.6 1655.4,1259.5 1656.6,1261.4 1657.8,1260 1659.1,1261.2 1660.3,1261.2 1661.5,1260.7 1662.7,1260.8 1663.9,1258 1665.2,1260.9 1666.4,1263 1667.6,1262.9 1668.8,1262.8 1670,1261.6 1671.3,1259.8 1672.5,1261.4 1673.7,1261.6 1674.9,1262.5 1676.1,1263.4 1677.4,1262.6 1678.6,1264.3 1679.8,1264.7 1681,1263.8 1682.2,1262.2 1683.5,1262 1684.7,1262.2 1685.9,1262 1687.1,1262.4 1688.3,1263.3 1689.6,1262.8 1690.8,1262.7 1692,1263.4 1693.2,1263.5 1694.4,1261.8 1695.7,1261.5 1696.9,1262 1698.1,1261.3 1699.3,1262 1700.5,1261.6 1701.8,1261 1703,1261.5 1704.2,1260.1 1705.4,1261.1 1706.6,1261.3 1707.9,1259.9 1709.1,1259.6 1710.3,1259 1711.5,1258 1712.7,1256.1 1714,1257.8 1715.2,1258.2 1716.4,1257.8 1717.6,1257.6 1718.8,1258 1720.1,1259.6 1721.3,1260.9 1722.5,1260.7 1723.7,1261 1725,1260.3 1726.2,1261.5 1727.4,1260.8 1728.6,1260.3 1729.8,1259.5 1731.1,1259.5 1732.3,1256.6 1733.5,1254.5 1734.7,1252.4 1735.9,1251.7 1737.2,1249.5 1738.4,1248.9 1739.6,1250.8 1740.8,1250.9 1742,1252.1 1743.3,1253 1744.5,1251 1745.7,1249.6 1746.9,1248.5 1748.1,1250.3 1749.4,1252.1 1750.6,1256.5 1751.8,1257.9 1753,1260.3 1754.2,1261.5 1755.5,1261.1 1756.7,1259.1 1757.9,1258 1759.1,1256.2 1760.3,1255.5 1761.6,1254.7 1762.8,1253.6 1764,1254.1 1765.2,1255.2 1766.4,1256.1 1767.7,1256.1 1768.9,1257.9 1770.1,1256.8 1771.3,1256.1 1772.5,1256.8 1773.8,1255.2 1775,1256.2 1776.2,1257.5 1777.4,1255.2 1778.6,1256.3 1779.9,1257.1 1781.1,1256.1 1782.3,1256 1783.5,1255.9 1784.7,1257 1786,1259.7 1787.2,1259.4 1788.4,1258.7 1789.6,1258.9 1790.8,1259.2 1792.1,1258.3 1793.3,1256.8 1794.5,1257.9 1795.7,1258.8 1797,1258.8 1798.2,1257.1 1799.4,1258.3 1800.6,1256.9 1801.8,1256.4 1803.1,1255 1804.3,1256 1805.5,1255.9 1806.7,1256.2 1807.9,1256.6 1809.2,1256.1 1810.4,1256.6 1811.6,1255.9 1812.8,1255.3 1814,1255.3 1815.3,1254.2 1816.5,1252.7 1817.7,1253.6 1818.9,1251.8 1820.1,1252.2 1821.4,1251.8 1822.6,1251.6 1823.8,1251.8 1825,1252.3 1826.2,1249.7 1827.5,1250.3 1828.7,1248.9 1829.9,1250.5 1831.1,1250.4 1832.3,1252.7 1833.6,1250.3 1834.8,1250.4 1836,1251.1 1837.2,1250.8 1838.4,1253.2 1839.7,1253.8 1840.9,1254.4 1842.1,1255.1 1843.3,1255.5 1844.5,1255.7 1845.8,1254.5 1847,1254.8 1848.2,1255 1849.4,1254.4 1850.6,1254.1 1851.9,1254.5 1853.1,1254.9 1854.3,1255.4 1855.5,1255 1856.7,1254.8 1858,1255.4 1859.2,1256.1 1860.4,1255.6 1861.6,1257 1862.8,1255 1864.1,1255.1 1865.3,1256.7 1866.5,1257.2 1867.7,1258.3 1868.9,1257.2 1870.2,1258.8 1871.4,1257.5 1872.6,1257.7 1873.8,1255.2 1875.1,1255.2 1876.3,1256.6 1877.5,1255.4 1878.7,1255.2 1879.9,1255.9 1881.2,1255.7 1882.4,1255.5 1883.6,1253.4 1884.8,1253.8 1886,1254.7 1887.3,1253.4 1888.5,1256.1 1889.7,1256.9 1890.9,1256.8 1892.1,1255.3 1893.4,1256.7 1894.6,1257 1895.8,1255 1897,1253.7 1898.2,1254.7 1899.5,1255.8 1900.7,1255.4 1901.9,1254.8 1903.1,1254.3 1904.3,1255.8 1905.6,1255 1906.8,1256.8 1908,1253.2 1909.2,1254.4 1910.4,1254 1911.7,1256.2 1912.9,1257 1914.1,1259.2 1915.3,1259.2 1916.5,1258.9 1917.8,1258.8 1919,1259.8 1920.2,1259.5 1921.4,1260.2 1922.6,1259.2 1923.9,1259.8 1925.1,1259.1 1926.3,1259.7 1927.5,1261.2 1928.7,1262.7 1930,1263.2 1931.2,1263.5 1932.4,1263.7 1933.6,1263.6 1934.8,1263.2 1936.1,1263 1937.3,1263.6 1938.5,1263.3 1939.7,1263.6 1940.9,1263.8 1942.2,1265.1 1943.4,1264.5 1944.6,1264.3 1945.8,1268.2 1947.1,1265.2 1948.3,1266 1949.5,1264.8 1950.7,1265.4 1951.9,1264.7 1953.2,1263.7 1954.4,1264.7 1955.6,1264.8 1956.8,1264.7 1958,1264.6 1959.3,1264.2 1960.5,1264.2 1961.7,1263.6 1962.9,1262.9 1964.1,1261.8 1965.4,1261.2 1966.6,1259.7 1967.8,1258.7 1969,1258.3 1970.2,1258 1971.5,1257.4 1972.7,1257.5 1973.9,1257.1 1975.1,1257.4 1976.3,1258.7 1977.6,1258.6 1978.8,1256.9 1980,1256.6 1981.2,1256.7 1982.4,1256.3 1983.7,1255.2 1984.9,1253.6 1986.1,1254.7 1987.3,1254.3 1988.5,1253.4 1989.8,1255.5 1991,1256.6 1992.2,1255.7 1993.4,1256 1994.6,1256.1 1995.9,1254.4 1997.1,1255.5 1998.3,1256.7 1999.5,1256 2000.7,1256.4 2002,1254.3 2003.2,1252.8 2004.4,1251.1 2005.6,1250.4 2006.8,1250.6 2008.1,1249.7 2009.3,1251.8 2010.5,1250.6 2011.7,1251.6 2012.9,1254 2014.2,1255.1 2015.4,1255.7 2016.6,1256.1 2017.8,1255.5 2019.1,1253.6 2020.3,1254.6 2021.5,1253.8 2022.7,1253.4 2023.9,1252 2025.2,1252.3 2026.4,1252.7 2027.6,1252.8 2028.8,1250.9 2030,1252.7 2031.3,1251.8 2032.5,1251.6 2033.7,1250.2 2034.9,1252.1 2036.1,1250.4 2037.4,1251.9 2038.6,1252 2039.8,1253.5 2041,1254 2042.2,1254.2 2043.5,1252.6 2044.7,1253.5 2045.9,1253.4 2047.1,1253.2 2048.3,1253.9 2049.6,1254.5 2050.8,1255.8 2052,1255.8" fill="none" stroke="#a55da6" stroke-width="4.2" stroke-linejoin="round"/>
<polygon points="240.2,159.7 254.6,177 240.2,194.3 225.8,177" fill="none" stroke="#a55da6" stroke-width="4.2" stroke-linejoin="miter" stroke-miterlimit="10"/>
<polygon points="413.8,571.9 428.1,589.2 413.8,606.5 399.4,589.2" fill="none" stroke="#a55da6" stroke-width="4.2" stroke-linejoin="miter" stroke-miterlimit="10"/>
<polygon points="585.5,785.7 599.9,803 585.5,820.3 571.1,803" fill="none" stroke="#a55da6" stroke-width="4.2" stroke-linejoin="miter" stroke-miterlimit="10"/>
<polygon points="759.5,952.2 773.9,969.5 759.5,986.8 745.1,969.5" fill="none" stroke="#a55da6" stroke-width="4.2" stroke-linejoin="miter" stroke-miterlimit="10"/>
<polygon points="933.2,1085.2 947.6,1102.5 933.2,1119.8 918.9,1102.5" fill="none" stroke="#a55da6" stroke-width="4.2" stroke-linejoin="miter" stroke-miterlimit="10"/>
<polygon points="1105,1170.2 1119.4,1187.5 1105,1204.8 1090.6,1187.5" fill="none" stroke="#a55da6" stroke-width="4.2" stroke-linejoin="miter" stroke-miterlimit="10"/>
<polygon points="1278.8,1214.7 1293.2,1232 1278.8,1249.3 1264.3,1232" fill="none" stroke="#a55da6" stroke-width="4.2" stroke-linejoin="miter" stroke-miterlimit="10"/>
<polygon points="1450.5,1224.7 1464.9,1242 1450.5,1259.3 1436.1,1242" fill="none" stroke="#a55da6" stroke-width="4.2" stroke-linejoin="miter" stroke-miterlimit="10"/>
<polygon points="1624.3,1245.7 1638.7,1263 1624.3,1280.3 1609.9,1263" fill="none" stroke="#a55da6" stroke-width="4.2" stroke-linejoin="miter" stroke-miterlimit="10"/>
<polygon points="1796,1239.7 1810.4,1257 1796,1274.3 1781.6,1257" fill="none" stroke="#a55da6" stroke-width="4.2" stroke-linejoin="miter" stroke-miterlimit="10"/>
<polygon points="1970,1242.7 1984.4,1260 1970,1277.3 1955.6,1260" fill="none" stroke="#a55da6" stroke-width="4.2" stroke-linejoin="miter" stroke-miterlimit="10"/>
<path d="M222.7,117 223.9,119.2 225.2,121.4 226.4,123.7 227.6,126 228.8,128.4 230,130.9 231.3,133.4 232.5,136.1 233.7,138.7 234.9,141.5 236.1,144.3 237.4,147.1 238.6,150 239.8,153 241,156.1 242.2,159.3 243.5,162.5 244.7,166 245.9,169.6 247.1,173.2 248.3,176.8 249.6,180.7 250.8,184.5 252,188.5 253.2,192.3 254.4,196.2 255.7,200.4 256.9,204.6 258.1,208.5 259.3,212.6 260.6,216.6 261.8,220.4 263,224.5 264.2,228.4 265.4,232.4 266.7,236.2 267.9,239.9 269.1,243.6 270.3,247.3 271.5,251.1 272.8,254.8 274,258.6 275.2,262.2 276.4,266.1 277.6,269.6 278.9,273.4 280.1,276.8 281.3,280.6 282.5,284 283.7,287.8 285,291.2 286.2,295 287.4,298.9 288.6,302.2 289.8,305.6 291.1,309.3 292.3,312.5 293.5,316.8 294.7,319.7 295.9,323.4 297.2,326.3 298.4,330.1 299.6,333.5 300.8,337.1 302,340.6 303.3,343.4 304.5,347.1 305.7,350.3 306.9,354 308.1,357.6 309.4,360.5 310.6,363.6 311.8,367.1 313,370.3 314.2,373.7 315.5,376.8 316.7,379.9 317.9,383.3 319.1,386.6 320.3,389.4 321.6,393 322.8,395.6 324,398.9 325.2,401.7 326.4,405 327.7,407.8 328.9,410.4 330.1,413.5 331.3,416.7 332.6,418.9 333.8,422.2 335,424.7 336.2,427.5 337.4,429.8 338.7,433.5 339.9,435.9 341.1,438.4 342.3,441.4 343.5,444.5 344.8,447.2 346,449.8 347.2,452.7 348.4,455.5 349.6,458.3 350.9,461.4 352.1,464.2 353.3,466.9 354.5,469.6 355.7,472.7 357,475.3 358.2,478.5 359.4,481.1 360.6,484.3 361.8,486.7 363.1,489.6 364.3,492.6 365.5,495.3 366.7,498.4 367.9,501.2 369.2,504.3 370.4,506.7 371.6,510.2 372.8,512 374,515.9 375.3,518.7 376.5,520.9 377.7,524.3 378.9,527.5 380.1,529.7 381.4,532.8 382.6,535.5 383.8,538.6 385,541.7 386.2,544.2 387.5,547.3 388.7,549.8 389.9,552.3 391.1,555.2 392.3,557.7 393.6,560.6 394.8,562.9 396,565.4 397.2,568.5 398.4,571 399.7,573.3 400.9,576.2 402.1,578.1 403.3,580.9 404.5,583.4 405.8,586.2 407,588.3 408.2,590.7 409.4,593.1 410.7,595.3 411.9,598.2 413.1,600.7 414.3,603.3 415.5,605.5 416.8,608.2 418,611 419.2,613.8 420.4,616.3 421.6,618.8 422.9,621.9 424.1,624.4 425.3,626.5 426.5,629.4 427.7,631.9 429,635.1 430.2,637.1 431.4,639.9 432.6,642.5 433.8,645.1 435.1,647.8 436.3,650.4 437.5,652.6 438.7,655.1 439.9,657.5 441.2,660.3 442.4,662.5 443.6,664.8 444.8,667.4 446,669.6 447.3,672.1 448.5,674.4 449.7,676.2 450.9,679.1 452.1,681.2 453.4,683.2 454.6,685.5 455.8,688.1 457,689.5 458.2,692.4 459.5,694.3 460.7,696.6 461.9,698.1 463.1,700.8 464.3,702.9 465.6,705.7 466.8,707.2 468,709.3 469.2,711.4 470.4,713.4 471.7,715.9 472.9,717.4 474.1,719.9 475.3,721.7 476.5,723.7 477.8,725.5 479,727.5 480.2,730.1 481.4,731.8 482.7,733.8 483.9,735.2 485.1,737.2 486.3,739 487.5,740.9 488.8,743.1 490,744.8 491.2,746.3 492.4,748.3 493.6,750 494.9,751.8 496.1,754 497.3,755.9 498.5,757.6 499.7,759.5 501,761.3 502.2,763.5 503.4,764.6 504.6,766.6 505.8,768.4 507.1,770.3 508.3,772.2 509.5,773.7 510.7,775.8 511.9,777.1 513.2,779 514.4,781.2 515.6,782.4 516.8,784.1 518,785.8 519.3,787.4 520.5,789.6 521.7,790.9 522.9,792.3 524.1,794.2 525.4,795.8 526.6,797.2 527.8,799 529,800.5 530.2,802.1 531.5,804 532.7,805.5 533.9,807.3 535.1,808.9 536.3,810 537.6,811.5 538.8,813.2 540,814.9 541.2,816.4 542.4,818.2 543.7,819.8 544.9,821.4 546.1,823.2 547.3,824.6 548.5,826.3 549.8,828.3 551,829.2 552.2,831.2 553.4,832.6 554.7,833.8 555.9,835.5 557.1,836.9 558.3,839 559.5,840.2 560.8,841.7 562,843.5 563.2,844.9 564.4,846.6 565.6,847.7 566.9,849.7 568.1,850.4 569.3,852.2 570.5,853.7 571.7,855.2 573,857.1 574.2,858.8 575.4,860.2 576.6,861.7 577.8,863.5 579.1,864.2 580.3,866.7 581.5,867.7 582.7,869.2 583.9,871.1 585.2,872.3 586.4,874.1 587.6,875.4 588.8,877.4 590,878.8 591.3,880.4 592.5,882.1 593.7,883.7 594.9,885.6 596.1,887 597.4,888.3 598.6,890.2 599.8,891.7 601,893.4 602.2,894.6 603.5,896.4 604.7,898.2 605.9,899.6 607.1,901.4 608.3,902.5 609.6,903.9 610.8,905.6 612,906.5 613.2,908.4 614.4,910.4 615.7,912.1 616.9,913.2 618.1,914.9 619.3,916.9 620.5,918 621.8,920 623,920.9 624.2,922.7 625.4,924.3 626.7,925.3 627.9,927 629.1,928.9 630.3,930.5 631.5,931.7 632.8,932.7 634,934.6 635.2,935.4 636.4,937.1 637.6,938.4 638.9,940.5 640.1,941.1 641.3,943.2 642.5,944.9 643.7,945.7 645,946.8 646.2,948.8 647.4,949.8 648.6,951.2 649.8,952.3 651.1,953.5 652.3,955.2 653.5,956.6 654.7,957.6 655.9,959.1 657.2,960.6 658.4,961.9 659.6,963.1 660.8,964.4 662,965.7 663.3,967.1 664.5,968.8 665.7,970 666.9,971.5 668.1,973.4 669.4,974.2 670.6,975.5 671.8,976.9 673,978.1 674.2,979.3 675.5,981.4 676.7,982.1 677.9,983.4 679.1,985.4 680.3,986.1 681.6,988 682.8,989.2 684,990.2 685.2,992 686.4,993 687.7,994.3 688.9,995.7 690.1,996.7 691.3,998.4 692.5,1000.3 693.8,1001.6 695,1003.1 696.2,1004.1 697.4,1005.5 698.7,1007.3 699.9,1008.6 701.1,1010 702.3,1011.6 703.5,1012.6 704.8,1014.1 706,1014.7 707.2,1016.5 708.4,1017.8 709.6,1019 710.9,1020.8 712.1,1021.3 713.3,1023 714.5,1024.7 715.7,1025.1 717,1026.5 718.2,1028.1 719.4,1030.1 720.6,1030.8 721.8,1032.3 723.1,1033.6 724.3,1034.7 725.5,1036.3 726.7,1037.7 727.9,1038.9 729.2,1040.1 730.4,1040.7 731.6,1042.2 732.8,1043.9 734,1045.1 735.3,1046.2 736.5,1047.3 737.7,1048.5 738.9,1050 740.1,1051.3 741.4,1051.9 742.6,1053.9 743.8,1054.3 745,1055.8 746.2,1056.7 747.5,1057.9 748.7,1059.5 749.9,1060.8 751.1,1061.9 752.3,1063.2 753.6,1064.5 754.8,1065.3 756,1066.7 757.2,1067.9 758.4,1069.3 759.7,1070 760.9,1071.4 762.1,1072 763.3,1073.4 764.5,1074.2 765.8,1075.5 767,1076.5 768.2,1077.7 769.4,1079.1 770.6,1079.7 771.9,1081 773.1,1082.3 774.3,1083 775.5,1084.3 776.8,1085.2 778,1086.1 779.2,1087.1 780.4,1088.5 781.6,1089.6 782.9,1090.1 784.1,1091.4 785.3,1092.5 786.5,1093.3 787.7,1094.4 789,1095.3 790.2,1096 791.4,1096.9 792.6,1097.4 793.8,1098.5 795.1,1099.3 796.3,1100.9 797.5,1101.9 798.7,1102.9 799.9,1103.8 801.2,1104.3 802.4,1105.1 803.6,1105.6 804.8,1106.8 806,1107.9 807.3,1108.2 808.5,1109.7 809.7,1111 810.9,1111.7 812.1,1112.5 813.4,1112.9 814.6,1113.7 815.8,1114.6 817,1115.2 818.2,1115.8 819.5,1116.5 820.7,1118 821.9,1118.5 823.1,1119.6 824.3,1119.9 825.6,1121.2 826.8,1121.3 828,1122.7 829.2,1123.2 830.4,1124.8 831.7,1125.2 832.9,1126.5 834.1,1127.1 835.3,1127.7 836.5,1128.3 837.8,1128.6 839,1129.2 840.2,1130.4 841.4,1131 842.6,1132 843.9,1133 845.1,1134 846.3,1134.7 847.5,1135.6 848.8,1136.2 850,1136.6 851.2,1138.2 852.4,1137.9 853.6,1138.4 854.9,1138.7 856.1,1139.6 857.3,1140.6 858.5,1141.7 859.7,1142.3 861,1142.6 862.2,1143.5 863.4,1143.3 864.6,1143.8 865.8,1144.4 867.1,1145.4 868.3,1146.8 869.5,1147.3 870.7,1147.9 871.9,1148.6 873.2,1149.3 874.4,1150.1 875.6,1150.7 876.8,1151.3 878,1151.6 879.3,1152.1 880.5,1152.7 881.7,1153.4 882.9,1154.2 884.1,1155.2 885.4,1156.4 886.6,1156.9 887.8,1158.6 889,1159.6 890.2,1160.8 891.5,1161.7 892.7,1163.2 893.9,1164 895.1,1165.4 896.3,1166.3 897.6,1167.3 898.8,1168.2 900,1169.1 901.2,1170.4 902.4,1170.6 903.7,1171.2 904.9,1171.7 906.1,1172.8 907.3,1173.1 908.5,1174.1 909.8,1174.5 911,1175 912.2,1175.4 913.4,1176.9 914.6,1176.9 915.9,1177.7 917.1,1178 918.3,1179 919.5,1179.8 920.8,1180.5 922,1181.5 923.2,1181.4 924.4,1181.8 925.6,1182.6 926.9,1183.2 928.1,1183.1 929.3,1183.6 930.5,1183.6 931.7,1185.3 933,1184.6 934.2,1184.1 935.4,1182.5 936.6,1182 937.8,1181.5 939.1,1182.5 940.3,1183.2 941.5,1184.3 942.7,1184.7 943.9,1184.4 945.2,1184.6 946.4,1182.7 947.6,1182.2 948.8,1182.8 950,1184.4 951.3,1184.4 952.5,1187.9 953.7,1187.9 954.9,1187.9 956.1,1188.3 957.4,1189.1 958.6,1188.9 959.8,1189 961,1189.2 962.2,1189.3 963.5,1190.3 964.7,1190 965.9,1191.1 967.1,1192.3 968.3,1192.7 969.6,1193.8 970.8,1194.5 972,1194.9 973.2,1195.2 974.4,1195.3 975.7,1196 976.9,1197 978.1,1197.5 979.3,1197.8 980.5,1198.5 981.8,1198.5 983,1199.1 984.2,1200.4 985.4,1201.8 986.6,1202 987.9,1202.6 989.1,1202.6 990.3,1203.3 991.5,1203.9 992.8,1204.2 994,1205 995.2,1204.3 996.4,1204.5 997.6,1205 998.9,1204.6 1000.1,1205.9 1001.3,1206.2 1002.5,1206.7 1003.7,1207.7 1005,1208 1006.2,1208.7 1007.4,1208.9 1008.6,1209.5 1009.8,1210.1 1011.1,1211.1 1012.3,1211.4 1013.5,1212.1 1014.7,1213.1 1015.9,1211.1 1017.2,1210.1 1018.4,1209.5 1019.6,1209.7 1020.8,1209.7 1022,1210.2 1023.3,1209.2 1024.5,1211.7 1025.7,1209.5 1026.9,1208.6 1028.1,1209.2 1029.4,1210.8 1030.6,1212.1 1031.8,1213.9 1033,1215.7 1034.2,1216.8 1035.5,1218.8 1036.7,1220.6 1037.9,1220.7 1039.1,1221.6 1040.3,1221.3 1041.6,1222.4 1042.8,1222.4 1044,1224.3 1045.2,1223.7 1046.4,1223.8 1047.7,1223.6 1048.9,1224.2 1050.1,1223.2 1051.3,1223.3 1052.5,1223.3 1053.8,1221.6 1055,1222.3 1056.2,1222.3 1057.4,1222.4 1058.6,1223.8 1059.9,1224.3 1061.1,1224.5 1062.3,1225.9 1063.5,1225.3 1064.8,1225.7 1066,1226.8 1067.2,1227.3 1068.4,1227.7 1069.6,1228.8 1070.9,1229.8 1072.1,1230.3 1073.3,1231 1074.5,1231.7 1075.7,1232.7 1077,1233.1 1078.2,1234.7 1079.4,1236.1 1080.6,1236.1 1081.8,1235.6 1083.1,1235.1 1084.3,1233.6 1085.5,1233.5 1086.7,1232.7 1087.9,1233.3 1089.2,1230.7 1090.4,1231.7 1091.6,1230.8 1092.8,1231.1 1094,1231.6 1095.3,1231.4 1096.5,1233.1 1097.7,1233.9 1098.9,1232.8 1100.1,1232.7 1101.4,1231.3 1102.6,1230.2 1103.8,1231.3 1105,1229.9 1106.2,1230.9 1107.5,1230.9 1108.7,1230.3 1109.9,1230 1111.1,1229.9 1112.3,1229.5 1113.6,1228.3 1114.8,1227.2 1116,1226.4 1117.2,1226 1118.4,1224.5 1119.7,1225.4 1120.9,1225.6 1122.1,1224.6 1123.3,1225.5 1124.5,1223.5 1125.8,1224.6 1127,1225.9 1128.2,1226.1 1129.4,1226 1130.6,1226.1 1131.9,1226.2 1133.1,1226.9 1134.3,1227.9 1135.5,1229.1 1136.8,1230.3 1138,1230.6 1139.2,1232.1 1140.4,1232.4 1141.6,1233.2 1142.9,1234.2 1144.1,1234 1145.3,1233.9 1146.5,1233.6 1147.7,1234.3 1149,1231.6 1150.2,1230.7 1151.4,1229.9 1152.6,1231 1153.8,1232.1 1155.1,1232.7 1156.3,1233.6 1157.5,1234.3 1158.7,1235.6 1159.9,1234.8 1161.2,1234.2 1162.4,1234.1 1163.6,1232.9 1164.8,1233 1166,1232.6 1167.3,1232.4 1168.5,1231.3 1169.7,1230.7 1170.9,1230.1 1172.1,1230.1 1173.4,1228.9 1174.6,1228.9 1175.8,1231 1177,1231 1178.2,1230.8 1179.5,1230.4 1180.7,1230 1181.9,1228.5 1183.1,1227.8 1184.3,1228.3 1185.6,1228.7 1186.8,1228.8 1188,1228 1189.2,1229.3 1190.4,1228.7 1191.7,1228.8 1192.9,1228.6 1194.1,1229.6 1195.3,1228.4 1196.5,1227 1197.8,1228.1 1199,1227.6 1200.2,1226.4 1201.4,1226.3 1202.6,1225.9 1203.9,1227.2 1205.1,1226.6 1206.3,1226.8 1207.5,1227 1208.7,1225.8 1210,1225 1211.2,1226.4 1212.4,1225.2 1213.6,1226.2 1214.9,1225.4 1216.1,1224.4 1217.3,1225.5 1218.5,1223.8 1219.7,1225.8 1221,1222.6 1222.2,1225.4 1223.4,1224.8 1224.6,1223.4 1225.8,1225.4 1227.1,1224.2 1228.3,1225.4 1229.5,1225.1 1230.7,1224.9 1231.9,1225.6 1233.2,1225.7 1234.4,1225.7 1235.6,1226.5 1236.8,1227.4 1238,1227.8 1239.3,1229.1 1240.5,1229.6 1241.7,1230.5 1242.9,1231 1244.1,1231.5 1245.4,1232.8 1246.6,1232.9 1247.8,1233.6 1249,1234.1 1250.2,1234.3 1251.5,1234.6 1252.7,1235.1 1253.9,1235.5 1255.1,1236.1 1256.3,1237.3 1257.6,1238.9 1258.8,1239.2 1260,1240.5 1261.2,1240.3 1262.4,1241 1263.7,1240.7 1264.9,1241 1266.1,1241.4 1267.3,1241.5 1268.5,1242.8 1269.8,1241.9 1271,1241.3 1272.2,1241.5 1273.4,1242.1 1274.6,1241.7 1275.9,1241.7 1277.1,1242.2 1278.3,1240.6 1279.5,1240.3 1280.7,1240.7 1282,1241.1 1283.2,1241.1 1284.4,1241.6 1285.6,1244 1286.9,1243.3 1288.1,1243.5 1289.3,1243.7 1290.5,1243.7 1291.7,1246.4 1293,1245.6 1294.2,1246 1295.4,1245.9 1296.6,1243.9 1297.8,1244.7 1299.1,1243.3 1300.3,1243.1 1301.5,1244.2 1302.7,1244.5 1303.9,1245.3 1305.2,1246.5 1306.4,1247.2 1307.6,1248.3 1308.8,1249 1310,1250 1311.3,1250.6 1312.5,1251.8 1313.7,1251.5 1314.9,1250.8 1316.1,1249.9 1317.4,1250.9 1318.6,1251.5 1319.8,1252 1321,1252.6 1322.2,1253.8 1323.5,1253.3 1324.7,1255.1 1325.9,1254.9 1327.1,1255 1328.3,1254.7 1329.6,1252.7 1330.8,1252.6 1332,1252.5 1333.2,1253.8 1334.4,1253.9 1335.7,1253.7 1336.9,1256.8 1338.1,1256.7 1339.3,1254.3 1340.5,1254.5 1341.8,1255.1 1343,1254.8 1344.2,1254.6 1345.4,1254.2 1346.6,1253.8 1347.9,1253.8 1349.1,1252.8 1350.3,1252.5 1351.5,1252.4 1352.7,1251.6 1354,1250.7 1355.2,1251.6 1356.4,1251.6 1357.6,1249.8 1358.9,1249.6 1360.1,1248.7 1361.3,1249.4 1362.5,1247.8 1363.7,1247.9 1365,1246.1 1366.2,1246.1 1367.4,1244.3 1368.6,1242.8 1369.8,1244.6 1371.1,1243.9 1372.3,1243.8 1373.5,1246.8 1374.7,1247.7 1375.9,1246 1377.2,1247.4 1378.4,1247.9 1379.6,1247.8 1380.8,1248.6 1382,1249.5 1383.3,1251.4 1384.5,1252.6 1385.7,1250.5 1386.9,1251.2 1388.1,1248.3 1389.4,1248.9 1390.6,1249.5 1391.8,1250.4 1393,1251.6 1394.2,1253.2 1395.5,1254.4 1396.7,1255.8 1397.9,1257.2 1399.1,1259.1 1400.3,1258.2 1401.6,1256.2 1402.8,1255.4 1404,1253.4 1405.2,1251.8 1406.4,1250.7 1407.7,1249.8 1408.9,1248.4 1410.1,1248 1411.3,1249.4 1412.5,1249.3 1413.8,1248.1 1415,1250 1416.2,1248.6 1417.4,1250.7 1418.6,1250.5 1419.9,1249.3 1421.1,1248.7 1422.3,1248.1 1423.5,1247 1424.7,1247.2 1426,1249.3 1427.2,1249.5 1428.4,1249.4 1429.6,1250.8 1430.9,1248.6 1432.1,1247.9 1433.3,1247 1434.5,1245.6 1435.7,1245.3 1437,1243.3 1438.2,1241.8 1439.4,1243.8 1440.6,1243 1441.8,1244.4 1443.1,1242.3 1444.3,1242.8 1445.5,1245.6 1446.7,1243.8 1447.9,1245.1 1449.2,1244.8 1450.4,1243.6 1451.6,1242.4 1452.8,1243.1 1454,1245 1455.3,1244.4 1456.5,1245.8 1457.7,1246 1458.9,1244.1 1460.1,1244.4 1461.4,1244 1462.6,1243.5 1463.8,1244.4 1465,1243.8 1466.2,1244.4 1467.5,1245.1 1468.7,1243.2 1469.9,1243.9 1471.1,1245.4 1472.3,1245.4 1473.6,1245.5 1474.8,1246 1476,1244.1 1477.2,1244.8 1478.4,1243.8 1479.7,1243.2 1480.9,1242.2 1482.1,1241.2 1483.3,1241.2 1484.5,1242.9 1485.8,1243.4 1487,1244.1 1488.2,1245.7 1489.4,1246.8 1490.6,1245.9 1491.9,1246.7 1493.1,1247.6 1494.3,1248.1 1495.5,1248.2 1496.7,1249.3 1498,1249.2 1499.2,1248.7 1500.4,1248.2 1501.6,1247.3 1502.8,1247.6 1504.1,1247.9 1505.3,1248.7 1506.5,1249.3 1507.7,1250.3 1509,1251.4 1510.2,1252 1511.4,1252.9 1512.6,1252.9 1513.8,1252.5 1515.1,1252.6 1516.3,1254.6 1517.5,1254.6 1518.7,1254.4 1519.9,1254.6 1521.2,1255.1 1522.4,1252.9 1523.6,1253.5 1524.8,1252 1526,1253.7 1527.3,1252 1528.5,1252.3 1529.7,1251.1 1530.9,1251.2 1532.1,1251.3 1533.4,1250.8 1534.6,1249.8 1535.8,1250.6 1537,1250.5 1538.2,1249.6 1539.5,1249.6 1540.7,1249.8 1541.9,1248.1 1543.1,1250 1544.3,1248.9 1545.6,1247.8 1546.8,1247.8 1548,1248.3 1549.2,1248 1550.4,1247 1551.7,1247.1 1552.9,1246.8 1554.1,1247.3 1555.3,1247.5 1556.5,1248.5 1557.8,1248.9 1559,1249.9 1560.2,1250.3 1561.4,1250.7 1562.6,1251.9 1563.9,1253.2 1565.1,1253.7 1566.3,1254.7 1567.5,1257 1568.7,1254.6 1570,1252.1 1571.2,1251.2 1572.4,1249.5 1573.6,1248.2 1574.8,1246.7 1576.1,1245.7 1577.3,1244.2 1578.5,1242.3 1579.7,1242.8 1581,1243.8 1582.2,1244.7 1583.4,1244.5 1584.6,1245.4 1585.8,1244.8 1587.1,1244.5 1588.3,1245 1589.5,1244.8 1590.7,1242.9 1591.9,1243.2 1593.2,1242.2 1594.4,1243.4 1595.6,1240.9 1596.8,1241 1598,1241.7 1599.3,1242.5 1600.5,1243.2 1601.7,1243.4 1602.9,1244.8 1604.1,1244.1 1605.4,1244.8 1606.6,1245.1 1607.8,1246.8 1609,1248.1 1610.2,1250.1 1611.5,1251.7 1612.7,1253.2 1613.9,1253.6 1615.1,1250.7 1616.3,1252.8 1617.6,1253.4 1618.8,1255.7 1620,1253.2 1621.2,1254.6 1622.4,1253.6 1623.7,1252.1 1624.9,1252.9 1626.1,1253.2 1627.3,1253.5 1628.5,1253.8 1629.8,1255.1 1631,1255.4 1632.2,1255.4 1633.4,1255.8 1634.6,1255 1635.9,1253.9 1637.1,1252.7 1638.3,1251.4 1639.5,1249.7 1640.7,1248.3 1642,1247 1643.2,1246.4 1644.4,1246.9 1645.6,1247 1646.8,1247.5 1648.1,1248.1 1649.3,1249.1 1650.5,1249.6 1651.7,1250.6 1653,1250.9 1654.2,1251.9 1655.4,1252.2 1656.6,1252.8 1657.8,1253.5 1659.1,1255 1660.3,1254.5 1661.5,1257.1 1662.7,1257.6 1663.9,1257.3 1665.2,1256.8 1666.4,1255.1 1667.6,1253.9 1668.8,1253.3 1670,1252.4 1671.3,1252.9 1672.5,1252.4 1673.7,1251.8 1674.9,1251.5 1676.1,1251.3 1677.4,1251.1 1678.6,1251.5 1679.8,1252.2 1681,1249.8 1682.2,1250.2 1683.5,1250.3 1684.7,1250.7 1685.9,1251.3 1687.1,1251.8 1688.3,1252.7 1689.6,1253 1690.8,1253.4 1692,1254.1 1693.2,1254.9 1694.4,1255.5 1695.7,1255.5 1696.9,1255.9 1698.1,1255.4 1699.3,1254.3 1700.5,1254.9 1701.8,1254.1 1703,1254.1 1704.2,1254.7 1705.4,1254 1706.6,1254 1707.9,1253.3 1709.1,1252.4 1710.3,1251.5 1711.5,1250.7 1712.7,1250.2 1714,1249.6 1715.2,1248.8 1716.4,1248.2 1717.6,1247.5 1718.8,1247.5 1720.1,1246.7 1721.3,1246.5 1722.5,1246.2 1723.7,1246 1725,1245.3 1726.2,1244.4 1727.4,1243.7 1728.6,1243.2 1729.8,1243.2 1731.1,1242.7 1732.3,1243 1733.5,1243 1734.7,1242.3 1735.9,1244 1737.2,1242.4 1738.4,1241.9 1739.6,1242 1740.8,1239.7 1742,1241.6 1743.3,1240.8 1744.5,1241.4 1745.7,1241.9 1746.9,1242.2 1748.1,1241.2 1749.4,1242.5 1750.6,1241.3 1751.8,1241.1 1753,1240.7 1754.2,1242.5 1755.5,1241.4 1756.7,1243.7 1757.9,1241.1 1759.1,1241.9 1760.3,1241.7 1761.6,1241.4 1762.8,1240.3 1764,1240.7 1765.2,1240.2 1766.4,1239.6 1767.7,1238.9 1768.9,1238.2 1770.1,1238.3 1771.3,1239.5 1772.5,1239.6 1773.8,1238.5 1775,1239 1776.2,1238.9 1777.4,1240.7 1778.6,1240.4 1779.9,1239.8 1781.1,1239.6 1782.3,1240 1783.5,1240.2 1784.7,1240.9 1786,1241.8 1787.2,1242.6 1788.4,1243 1789.6,1243.7 1790.8,1244.2 1792.1,1244.5 1793.3,1245.3 1794.5,1245.3 1795.7,1246.3 1797,1246.6 1798.2,1247.8 1799.4,1247.6 1800.6,1247.6 1801.8,1246.9 1803.1,1247.3 1804.3,1247.9 1805.5,1247.9 1806.7,1248.1 1807.9,1248.4 1809.2,1248.4 1810.4,1249.5 1811.6,1250.9 1812.8,1249.4 1814,1250.4 1815.3,1250 1816.5,1250 1817.7,1250.1 1818.9,1250.6 1820.1,1250.1 1821.4,1250.2 1822.6,1249.2 1823.8,1248.6 1825,1248.8 1826.2,1247.4 1827.5,1246.7 1828.7,1246.7 1829.9,1245.8 1831.1,1245.4 1832.3,1244.8 1833.6,1244 1834.8,1243.5 1836,1243 1837.2,1242.3 1838.4,1241.7 1839.7,1241.8 1840.9,1242.3 1842.1,1240.4 1843.3,1242.7 1844.5,1240.1 1845.8,1241.1 1847,1241 1848.2,1241.4 1849.4,1242 1850.6,1242.7 1851.9,1243.8 1853.1,1243.8 1854.3,1244.3 1855.5,1244.4 1856.7,1244.4 1858,1244.4 1859.2,1245.3 1860.4,1244.9 1861.6,1244.7 1862.8,1245.8 1864.1,1246.1 1865.3,1245.3 1866.5,1244.8 1867.7,1243.7 1868.9,1242.9 1870.2,1241.8 1871.4,1240.9 1872.6,1240.1 1873.8,1239.1 1875.1,1237.9 1876.3,1237.4 1877.5,1236.5 1878.7,1234.7 1879.9,1233.1 1881.2,1231.3 1882.4,1230.7 1883.6,1232.1 1884.8,1233.7 1886,1235 1887.3,1235.4 1888.5,1236.7 1889.7,1235 1890.9,1235.1 1892.1,1234.2 1893.4,1235.8 1894.6,1234.7 1895.8,1237 1897,1238.3 1898.2,1238.7 1899.5,1238.9 1900.7,1239.7 1901.9,1238.9 1903.1,1239.8 1904.3,1239.7 1905.6,1240.4 1906.8,1240 1908,1239.1 1909.2,1239.6 1910.4,1239.3 1911.7,1238.6 1912.9,1238.3 1914.1,1238.2 1915.3,1238.1 1916.5,1239.7 1917.8,1238.1 1919,1238.5 1920.2,1240.1 1921.4,1238.2 1922.6,1239.8 1923.9,1240.3 1925.1,1241.5 1926.3,1242.7 1927.5,1244.4 1928.7,1243.7 1930,1244.6 1931.2,1243.4 1932.4,1244.2 1933.6,1244.9 1934.8,1245.1 1936.1,1245.8 1937.3,1243.4 1938.5,1243.8 1939.7,1242.4 1940.9,1239.7 1942.2,1241.4 1943.4,1238 1944.6,1237.9 1945.8,1237.5 1947.1,1238.6 1948.3,1239.4 1949.5,1239.9 1950.7,1239.9 1951.9,1238.9 1953.2,1238.2 1954.4,1237.1 1955.6,1239.4 1956.8,1239.4 1958,1238.5 1959.3,1239 1960.5,1235.6 1961.7,1237.6 1962.9,1238.5 1964.1,1239.1 1965.4,1238.7 1966.6,1240.8 1967.8,1244.1 1969,1242.4 1970.2,1243.3 1971.5,1243.5 1972.7,1242.5 1973.9,1242.1 1975.1,1244.1 1976.3,1241.8 1977.6,1241.8 1978.8,1243.1 1980,1243.2 1981.2,1244 1982.4,1243.4 1983.7,1245.1 1984.9,1245.8 1986.1,1245.5 1987.3,1245.9 1988.5,1244.6 1989.8,1243.2 1991,1242.6 1992.2,1244.7 1993.4,1245.1 1994.6,1244.7 1995.9,1244.9 1997.1,1244.3 1998.3,1243.2 1999.5,1242 2000.7,1239.1 2002,1238 2003.2,1239.8 2004.4,1237.9 2005.6,1240.2 2006.8,1241.1 2008.1,1239.2 2009.3,1240.3 2010.5,1240 2011.7,1239.6 2012.9,1239.8 2014.2,1238.7 2015.4,1239.2 2016.6,1237.5 2017.8,1237.7 2019.1,1240.1 2020.3,1237.9 2021.5,1238.4 2022.7,1239 2023.9,1239.4 2025.2,1238.2 2026.4,1238.8 2027.6,1238.3 2028.8,1238.4 2030,1239.4 2031.3,1238 2032.5,1236.8 2033.7,1237.1 2034.9,1236.2 2036.1,1237.1 2037.4,1236.6 2038.6,1239.2 2039.8,1238.4 2041,1237.7 2042.2,1238.8 2043.5,1239.8 2044.7,1239 2045.9,1236.2 2047.1,1237.9 2048.3,1237.2 2049.6,1237 2050.8,1236.3 2052,1236.8" fill="none" stroke="#6abd45" stroke-width="4.2" stroke-linejoin="round"/>
<ellipse cx="240.2" cy="156" rx="14.4" ry="12.35" fill="none" stroke="#6abd45" stroke-width="4.2" stroke-linejoin="miter" stroke-miterlimit="10"/>
<ellipse cx="413.8" cy="605" rx="14.4" ry="12.35" fill="none" stroke="#6abd45" stroke-width="4.2" stroke-linejoin="miter" stroke-miterlimit="10"/>
<ellipse cx="585.5" cy="875" rx="14.4" ry="12.35" fill="none" stroke="#6abd45" stroke-width="4.2" stroke-linejoin="miter" stroke-miterlimit="10"/>
<ellipse cx="759.5" cy="1071.8" rx="14.4" ry="12.35" fill="none" stroke="#6abd45" stroke-width="4.2" stroke-linejoin="miter" stroke-miterlimit="10"/>
<ellipse cx="933.2" cy="1184.2" rx="14.4" ry="12.35" fill="none" stroke="#6abd45" stroke-width="4.2" stroke-linejoin="miter" stroke-miterlimit="10"/>
<ellipse cx="1105" cy="1227" rx="14.4" ry="12.35" fill="none" stroke="#6abd45" stroke-width="4.2" stroke-linejoin="miter" stroke-miterlimit="10"/>
<ellipse cx="1278.8" cy="1237" rx="14.4" ry="12.35" fill="none" stroke="#6abd45" stroke-width="4.2" stroke-linejoin="miter" stroke-miterlimit="10"/>
<ellipse cx="1450.5" cy="1245.1" rx="14.4" ry="12.35" fill="none" stroke="#6abd45" stroke-width="4.2" stroke-linejoin="miter" stroke-miterlimit="10"/>
<ellipse cx="1624.3" cy="1254.7" rx="14.4" ry="12.35" fill="none" stroke="#6abd45" stroke-width="4.2" stroke-linejoin="miter" stroke-miterlimit="10"/>
<ellipse cx="1796" cy="1247" rx="14.4" ry="12.35" fill="none" stroke="#6abd45" stroke-width="4.2" stroke-linejoin="miter" stroke-miterlimit="10"/>
<ellipse cx="1970" cy="1241.6" rx="14.4" ry="12.35" fill="none" stroke="#6abd45" stroke-width="4.2" stroke-linejoin="miter" stroke-miterlimit="10"/>
<path d="M222.7,117.1 223.9,121.3 225.2,125.7 226.4,130.2 227.6,134.9 228.8,139.7 230,144.6 231.3,149.6 232.5,154.7 233.7,159.9 234.9,165.2 236.1,170.6 237.4,176.1 238.6,181.8 239.8,187.3 241,193 242.2,198.7 243.5,204.7 244.7,210.9 245.9,217.5 247.1,224.1 248.3,230.7 249.6,237.2 250.8,243.5 252,249.8 253.2,256.1 254.4,262.5 255.7,268.4 256.9,274.6 258.1,280.6 259.3,286.3 260.6,292.3 261.8,298.3 263,303.6 264.2,309.4 265.4,314.8 266.7,319.9 267.9,325 269.1,330 270.3,334.9 271.5,339.3 272.8,343.9 274,348.3 275.2,352.7 276.4,356.8 277.6,360.9 278.9,365.1 280.1,369.2 281.3,373.1 282.5,377.2 283.7,381.1 285,384.6 286.2,389.4 287.4,393.1 288.6,396.5 289.8,401.3 291.1,405.3 292.3,409 293.5,413.1 294.7,417.4 295.9,421.4 297.2,426 298.4,429.5 299.6,434.5 300.8,438.4 302,441.8 303.3,445.9 304.5,450.3 305.7,454.4 306.9,458.8 308.1,462.7 309.4,467 310.6,470.6 311.8,475.1 313,479 314.2,482.3 315.5,486.6 316.7,490.9 317.9,495.1 319.1,498.7 320.3,502.4 321.6,506.5 322.8,509.9 324,513.8 325.2,517.4 326.4,521.9 327.7,524.7 328.9,528.5 330.1,531.8 331.3,535.3 332.6,538.7 333.8,542.5 335,545.5 336.2,548.6 337.4,552.7 338.7,555.9 339.9,559 341.1,562.6 342.3,565.8 343.5,569.1 344.8,572.3 346,575.4 347.2,578.4 348.4,581.7 349.6,585.1 350.9,588.2 352.1,591.1 353.3,594.5 354.5,597.2 355.7,600.6 357,603.7 358.2,606.4 359.4,609.1 360.6,612.2 361.8,615 363.1,617.9 364.3,620.6 365.5,623.7 366.7,626.1 367.9,628.9 369.2,632.1 370.4,634.9 371.6,637.2 372.8,640.4 374,643.1 375.3,645.8 376.5,648.2 377.7,651.2 378.9,653.7 380.1,656.2 381.4,658.8 382.6,660.9 383.8,664 385,666.3 386.2,668.9 387.5,671.8 388.7,674 389.9,676.2 391.1,678.9 392.3,681.8 393.6,683.7 394.8,686.5 396,688.9 397.2,691.4 398.4,693.5 399.7,695.9 400.9,697.7 402.1,700.6 403.3,703.2 404.5,705.2 405.8,707.8 407,710.4 408.2,711.7 409.4,714.7 410.7,717.2 411.9,719.1 413.1,721.3 414.3,723.3 415.5,725.6 416.8,727.9 418,730.5 419.2,732.4 420.4,734.7 421.6,736.8 422.9,740 424.1,741.9 425.3,744.1 426.5,746.1 427.7,749.3 429,750.9 430.2,753.6 431.4,755.6 432.6,757.8 433.8,760.2 435.1,762.5 436.3,764.8 437.5,766.7 438.7,768.9 439.9,770.8 441.2,773 442.4,775.3 443.6,777.6 444.8,780.3 446,782.5 447.3,784.5 448.5,786.5 449.7,788.8 450.9,791 452.1,792.8 453.4,794.8 454.6,797.4 455.8,799.4 457,802.4 458.2,803.7 459.5,806 460.7,807.9 461.9,810.2 463.1,812.4 464.3,814.4 465.6,816.7 466.8,819.4 468,820.7 469.2,823.2 470.4,825.2 471.7,827.1 472.9,829.1 474.1,832 475.3,834 476.5,836.3 477.8,837.9 479,839.8 480.2,842 481.4,843.9 482.7,846 483.9,848.3 485.1,850.4 486.3,852.6 487.5,854 488.8,856.6 490,858.3 491.2,860.7 492.4,863 493.6,865.1 494.9,866.6 496.1,869.1 497.3,871.2 498.5,873.1 499.7,875.3 501,877.6 502.2,878.9 503.4,881.4 504.6,883.7 505.8,885 507.1,887.6 508.3,889.1 509.5,891.3 510.7,893.4 511.9,895.5 513.2,898.1 514.4,899.7 515.6,901.6 516.8,903.8 518,905.8 519.3,907.3 520.5,909.6 521.7,911.4 522.9,913.9 524.1,915.5 525.4,917.2 526.6,919.2 527.8,921.3 529,922.8 530.2,925 531.5,926.7 532.7,928.6 533.9,930.7 535.1,932.2 536.3,934.3 537.6,936.4 538.8,937.7 540,939.9 541.2,941.3 542.4,942.8 543.7,945.4 544.9,947 546.1,948.2 547.3,950.1 548.5,951.7 549.8,953.9 551,955.5 552.2,956.3 553.4,959.1 554.7,960.7 555.9,962.9 557.1,964.8 558.3,966.2 559.5,968 560.8,969.8 562,971.9 563.2,974.1 564.4,975.3 565.6,977.2 566.9,978.8 568.1,981 569.3,983 570.5,984.4 571.7,986.9 573,988.3 574.2,990.1 575.4,992.2 576.6,994 577.8,995.1 579.1,997.3 580.3,999.7 581.5,1000.8 582.7,1002.9 583.9,1003.9 585.2,1005.7 586.4,1007.7 587.6,1009.4 588.8,1011 590,1013 591.3,1014.4 592.5,1016.2 593.7,1018 594.9,1019.4 596.1,1021.2 597.4,1023 598.6,1024.5 599.8,1026.4 601,1027.6 602.2,1029.3 603.5,1030.5 604.7,1032.4 605.9,1033.4 607.1,1035.4 608.3,1036.8 609.6,1038.1 610.8,1040 612,1041.5 613.2,1042.6 614.4,1043.8 615.7,1045.4 616.9,1047.3 618.1,1047.9 619.3,1049.2 620.5,1050.8 621.8,1052.6 623,1053.7 624.2,1054.4 625.4,1056.4 626.7,1056.9 627.9,1058.4 629.1,1059.3 630.3,1060.7 631.5,1061.8 632.8,1062.9 634,1064.7 635.2,1065.2 636.4,1066.6 637.6,1067.3 638.9,1068.9 640.1,1070.2 641.3,1071.4 642.5,1072.7 643.7,1073.8 645,1075.5 646.2,1076 647.4,1077.1 648.6,1078.5 649.8,1079.2 651.1,1080.6 652.3,1082.1 653.5,1082.8 654.7,1084.6 655.9,1085.6 657.2,1086.4 658.4,1087.8 659.6,1088.9 660.8,1090.3 662,1091.7 663.3,1092.7 664.5,1094 665.7,1095 666.9,1095.3 668.1,1096.6 669.4,1097.5 670.6,1099.3 671.8,1099.7 673,1101.2 674.2,1101.6 675.5,1104 676.7,1103.9 677.9,1105.4 679.1,1106.3 680.3,1107.3 681.6,1107.8 682.8,1108.5 684,1110.1 685.2,1110.8 686.4,1112 687.7,1113.1 688.9,1114.3 690.1,1114.8 691.3,1116.1 692.5,1116.7 693.8,1117.8 695,1118.6 696.2,1119.5 697.4,1120.7 698.7,1121.8 699.9,1123 701.1,1124 702.3,1125.5 703.5,1126.6 704.8,1127.4 706,1128.6 707.2,1129.4 708.4,1130.7 709.6,1131.1 710.9,1132.6 712.1,1133.9 713.3,1135 714.5,1136.4 715.7,1137.3 717,1138.5 718.2,1140.6 719.4,1141.2 720.6,1142.4 721.8,1143.8 723.1,1144.4 724.3,1145.2 725.5,1146.1 726.7,1147.3 727.9,1148 729.2,1148.2 730.4,1149.2 731.6,1150.2 732.8,1150.8 734,1151.7 735.3,1152.1 736.5,1153.1 737.7,1153.6 738.9,1154.5 740.1,1155.6 741.4,1156.8 742.6,1156.7 743.8,1158.8 745,1158.4 746.2,1158.8 747.5,1156.6 748.7,1157.4 749.9,1157.3 751.1,1157.4 752.3,1159.2 753.6,1157.8 754.8,1158.3 756,1159 757.2,1158.6 758.4,1158.3 759.7,1158.3 760.9,1157.3 762.1,1158.6 763.3,1157.7 764.5,1160 765.8,1160.2 767,1161.2 768.2,1161.3 769.4,1161.7 770.6,1162 771.9,1163.4 773.1,1164.4 774.3,1166 775.5,1166.6 776.8,1167.9 778,1168.8 779.2,1169.9 780.4,1170.4 781.6,1171.3 782.9,1172.6 784.1,1174.8 785.3,1176.2 786.5,1178.3 787.7,1180.2 789,1181.5 790.2,1182.6 791.4,1183.1 792.6,1182.7 793.8,1179.8 795.1,1180.4 796.3,1178.4 797.5,1179.6 798.7,1179.5 799.9,1180.6 801.2,1181.8 802.4,1181.9 803.6,1183.6 804.8,1185.2 806,1185.3 807.3,1186 808.5,1186.2 809.7,1186.9 810.9,1187.7 812.1,1188.4 813.4,1188.5 814.6,1188.8 815.8,1187.4 817,1186.7 818.2,1187.9 819.5,1188.4 820.7,1189 821.9,1187.5 823.1,1187.9 824.3,1188.1 825.6,1188.4 826.8,1186.3 828,1187.8 829.2,1186.8 830.4,1186.9 831.7,1187 832.9,1187.6 834.1,1187.5 835.3,1187.3 836.5,1186.8 837.8,1186.2 839,1184.6 840.2,1184.2 841.4,1183 842.6,1180.5 843.9,1183.4 845.1,1183.2 846.3,1184.7 847.5,1185.6 848.8,1185.5 850,1186.6 851.2,1186.9 852.4,1188.5 853.6,1189.5 854.9,1189.9 856.1,1188.9 857.3,1188.7 858.5,1188.5 859.7,1189.9 861,1189.8 862.2,1190.7 863.4,1191.4 864.6,1191.7 865.8,1190.6 867.1,1188.9 868.3,1188.7 869.5,1190.7 870.7,1192 871.9,1192.3 873.2,1192.4 874.4,1192.8 875.6,1192.3 876.8,1191.9 878,1190.5 879.3,1189.7 880.5,1188 881.7,1189.4 882.9,1190.9 884.1,1192.1 885.4,1192.7 886.6,1193.5 887.8,1194.8 889,1195.3 890.2,1195.9 891.5,1196 892.7,1195.2 893.9,1196.3 895.1,1196.5 896.3,1198 897.6,1197.9 898.8,1197.8 900,1198.5 901.2,1198 902.4,1197.9 903.7,1195.6 904.9,1196 906.1,1194.4 907.3,1196.2 908.5,1196.1 909.8,1195.7 911,1198.2 912.2,1197.2 913.4,1197.4 914.6,1196.4 915.9,1197.1 917.1,1196.2 918.3,1196 919.5,1197 920.8,1199.1 922,1200.1 923.2,1199 924.4,1199.6 925.6,1198.5 926.9,1199.5 928.1,1200.4 929.3,1200.6 930.5,1201.4 931.7,1201.8 933,1202.5 934.2,1204.1 935.4,1204.7 936.6,1206.5 937.8,1206.9 939.1,1206.8 940.3,1207.3 941.5,1207.3 942.7,1208.1 943.9,1207.6 945.2,1208.4 946.4,1209.2 947.6,1209.8 948.8,1209.3 950,1208.6 951.3,1207 952.5,1204.5 953.7,1204.7 954.9,1203.8 956.1,1202.7 957.4,1204.6 958.6,1207.2 959.8,1208.4 961,1209.8 962.2,1210.8 963.5,1211.8 964.7,1211.4 965.9,1210.5 967.1,1210.1 968.3,1209.8 969.6,1210.3 970.8,1211.2 972,1212.4 973.2,1213.9 974.4,1214 975.7,1213.8 976.9,1213.8 978.1,1213.7 979.3,1214.6 980.5,1215.2 981.8,1215.7 983,1216.9 984.2,1217.5 985.4,1218.7 986.6,1218.7 987.9,1219.1 989.1,1219.6 990.3,1220.2 991.5,1221.4 992.8,1222.6 994,1223.3 995.2,1224.3 996.4,1224.4 997.6,1225 998.9,1226.5 1000.1,1226.9 1001.3,1226.8 1002.5,1227.8 1003.7,1227.6 1005,1227.4 1006.2,1227.9 1007.4,1227.7 1008.6,1228.4 1009.8,1228 1011.1,1229.8 1012.3,1229.7 1013.5,1228.5 1014.7,1232.1 1015.9,1230.9 1017.2,1230.9 1018.4,1234.1 1019.6,1235.4 1020.8,1231.7 1022,1231.8 1023.3,1230.5 1024.5,1229.5 1025.7,1229.9 1026.9,1232.1 1028.1,1231.7 1029.4,1233 1030.6,1232.5 1031.8,1230 1033,1228.1 1034.2,1227.5 1035.5,1225.7 1036.7,1226.7 1037.9,1226.1 1039.1,1226.3 1040.3,1225.2 1041.6,1226.9 1042.8,1226.5 1044,1226.4 1045.2,1226.6 1046.4,1228.3 1047.7,1229 1048.9,1229.1 1050.1,1229 1051.3,1229.6 1052.5,1228.3 1053.8,1229 1055,1228.5 1056.2,1227.3 1057.4,1227.6 1058.6,1227.5 1059.9,1227.8 1061.1,1227.7 1062.3,1227.4 1063.5,1226.9 1064.8,1227.1 1066,1225.3 1067.2,1226.5 1068.4,1228 1069.6,1228.8 1070.9,1228.7 1072.1,1228.6 1073.3,1227.6 1074.5,1227 1075.7,1227.8 1077,1225.8 1078.2,1223.9 1079.4,1223.5 1080.6,1222.8 1081.8,1222.7 1083.1,1224.5 1084.3,1222.1 1085.5,1224.3 1086.7,1222.6 1087.9,1223.5 1089.2,1222.9 1090.4,1223.9 1091.6,1224.6 1092.8,1223.8 1094,1223.1 1095.3,1222.5 1096.5,1221.1 1097.7,1221.4 1098.9,1221.7 1100.1,1219.5 1101.4,1218.9 1102.6,1219 1103.8,1219.1 1105,1218.5 1106.2,1218.6 1107.5,1219.9 1108.7,1217.6 1109.9,1220.9 1111.1,1219.7 1112.3,1218.4 1113.6,1219.8 1114.8,1221.1 1116,1220.3 1117.2,1220.7 1118.4,1220.2 1119.7,1220.4 1120.9,1220.3 1122.1,1220.5 1123.3,1220.9 1124.5,1221 1125.8,1222.5 1127,1223.4 1128.2,1224.2 1129.4,1224.2 1130.6,1224.2 1131.9,1224.7 1133.1,1224.4 1134.3,1226.6 1135.5,1227.7 1136.8,1227.1 1138,1226.6 1139.2,1226 1140.4,1222.4 1141.6,1222.8 1142.9,1222.4 1144.1,1222.4 1145.3,1220.2 1146.5,1222.5 1147.7,1223.9 1149,1225.4 1150.2,1224.1 1151.4,1221.3 1152.6,1219.9 1153.8,1218.6 1155.1,1219.9 1156.3,1219.7 1157.5,1222.6 1158.7,1222.5 1159.9,1222.1 1161.2,1219.9 1162.4,1221.1 1163.6,1219.2 1164.8,1219.8 1166,1219.8 1167.3,1220.1 1168.5,1220.1 1169.7,1220.4 1170.9,1222.1 1172.1,1220.5 1173.4,1221.5 1174.6,1220.1 1175.8,1220.7 1177,1221.3 1178.2,1220.5 1179.5,1222.1 1180.7,1220.5 1181.9,1220.8 1183.1,1219.9 1184.3,1220.2 1185.6,1220.2 1186.8,1218.9 1188,1218.8 1189.2,1218.3 1190.4,1217.3 1191.7,1217.9 1192.9,1217.6 1194.1,1218.1 1195.3,1216.9 1196.5,1218.2 1197.8,1217.2 1199,1216 1200.2,1215.9 1201.4,1215.7 1202.6,1215.8 1203.9,1215 1205.1,1215.8 1206.3,1215.5 1207.5,1215.3 1208.7,1215.8 1210,1214.5 1211.2,1215 1212.4,1216 1213.6,1213.8 1214.9,1215.9 1216.1,1214.8 1217.3,1216.5 1218.5,1217.2 1219.7,1215.6 1221,1216.3 1222.2,1214.6 1223.4,1214.9 1224.6,1215.5 1225.8,1215.5 1227.1,1216.9 1228.3,1216.4 1229.5,1215.2 1230.7,1217.2 1231.9,1217.8 1233.2,1219.5 1234.4,1218.1 1235.6,1216.3 1236.8,1215.4 1238,1215.3 1239.3,1214.4 1240.5,1213.7 1241.7,1213.7 1242.9,1213.9 1244.1,1215 1245.4,1217.5 1246.6,1218.8 1247.8,1219.3 1249,1219.8 1250.2,1220.2 1251.5,1220.8 1252.7,1221.4 1253.9,1220.7 1255.1,1220 1256.3,1222.2 1257.6,1222.2 1258.8,1222.8 1260,1222.1 1261.2,1222 1262.4,1223.1 1263.7,1221.2 1264.9,1221 1266.1,1221.9 1267.3,1221 1268.5,1220.3 1269.8,1221 1271,1223.2 1272.2,1223.6 1273.4,1226.1 1274.6,1226.3 1275.9,1225 1277.1,1226.2 1278.3,1227.1 1279.5,1225.3 1280.7,1226 1282,1225.9 1283.2,1226 1284.4,1225.6 1285.6,1225.4 1286.9,1222.8 1288.1,1224.8 1289.3,1226 1290.5,1224.4 1291.7,1224.6 1293,1223.7 1294.2,1224.8 1295.4,1227 1296.6,1226.5 1297.8,1226.2 1299.1,1225.6 1300.3,1223.6 1301.5,1223 1302.7,1222.7 1303.9,1221.8 1305.2,1222.3 1306.4,1223.7 1307.6,1226.4 1308.8,1224.8 1310,1226.3 1311.3,1224.9 1312.5,1226.5 1313.7,1226 1314.9,1225.4 1316.1,1227.3 1317.4,1228.3 1318.6,1227.7 1319.8,1228.2 1321,1227.7 1322.2,1226.4 1323.5,1226.8 1324.7,1224 1325.9,1226.7 1327.1,1225.2 1328.3,1224.8 1329.6,1226.2 1330.8,1225.1 1332,1225.3 1333.2,1225.5 1334.4,1224.8 1335.7,1223 1336.9,1223.3 1338.1,1221.5 1339.3,1220.2 1340.5,1220.8 1341.8,1221.5 1343,1220.9 1344.2,1221 1345.4,1222.7 1346.6,1223 1347.9,1223.8 1349.1,1221.1 1350.3,1223.2 1351.5,1222.8 1352.7,1224.7 1354,1225.6 1355.2,1226.1 1356.4,1223.9 1357.6,1224.9 1358.9,1222 1360.1,1223.7 1361.3,1224.3 1362.5,1224.3 1363.7,1224.3 1365,1223.7 1366.2,1224.1 1367.4,1225.7 1368.6,1225.3 1369.8,1224.9 1371.1,1226.6 1372.3,1225.5 1373.5,1223.9 1374.7,1222.8 1375.9,1221.8 1377.2,1222.1 1378.4,1221.6 1379.6,1222.2 1380.8,1223.7 1382,1223.6 1383.3,1226.5 1384.5,1227 1385.7,1226.8 1386.9,1227 1388.1,1226.3 1389.4,1223.9 1390.6,1224.5 1391.8,1227.1 1393,1227.6 1394.2,1229.5 1395.5,1228.3 1396.7,1228 1397.9,1228.3 1399.1,1228.6 1400.3,1228.6 1401.6,1230.7 1402.8,1230.8 1404,1230 1405.2,1228.6 1406.4,1228.6 1407.7,1228.2 1408.9,1228.1 1410.1,1230.5 1411.3,1229.6 1412.5,1228.5 1413.8,1228.6 1415,1227.9 1416.2,1226.1 1417.4,1226.3 1418.6,1228.4 1419.9,1230.2 1421.1,1231.1 1422.3,1233.2 1423.5,1233.8 1424.7,1234.9 1426,1235 1427.2,1233.8 1428.4,1233.2 1429.6,1233.3 1430.9,1231.1 1432.1,1231.7 1433.3,1230 1434.5,1228.2 1435.7,1227.7 1437,1228.7 1438.2,1228.3 1439.4,1228.8 1440.6,1229.6 1441.8,1233.8 1443.1,1234.6 1444.3,1236.9 1445.5,1236 1446.7,1235.6 1447.9,1234.2 1449.2,1232.2 1450.4,1231.9 1451.6,1232.1 1452.8,1230.8 1454,1231.1 1455.3,1232.6 1456.5,1233.3 1457.7,1235.3 1458.9,1233.3 1460.1,1234.8 1461.4,1232 1462.6,1231.7 1463.8,1232.7 1465,1232.3 1466.2,1233.7 1467.5,1232.1 1468.7,1231.3 1469.9,1231.7 1471.1,1231.6 1472.3,1230.6 1473.6,1229.5 1474.8,1228.4 1476,1228.4 1477.2,1228.7 1478.4,1226.3 1479.7,1227.8 1480.9,1228.3 1482.1,1230.4 1483.3,1231.4 1484.5,1231.4 1485.8,1232.4 1487,1234 1488.2,1231.4 1489.4,1234.1 1490.6,1234.6 1491.9,1231.9 1493.1,1234.7 1494.3,1233.6 1495.5,1234.4 1496.7,1233.5 1498,1231.7 1499.2,1231.9 1500.4,1231 1501.6,1232.2 1502.8,1232.2 1504.1,1233.5 1505.3,1234.7 1506.5,1236.4 1507.7,1236.5 1509,1237.9 1510.2,1238 1511.4,1238.9 1512.6,1239.4 1513.8,1238.7 1515.1,1237.7 1516.3,1235.7 1517.5,1235 1518.7,1232.5 1519.9,1233.8 1521.2,1234.2 1522.4,1234.9 1523.6,1234.9 1524.8,1236.1 1526,1233.9 1527.3,1232.6 1528.5,1232.1 1529.7,1231.5 1530.9,1233.1 1532.1,1232.5 1533.4,1231.5 1534.6,1231.7 1535.8,1233.1 1537,1232.2 1538.2,1230.2 1539.5,1230.5 1540.7,1230.2 1541.9,1231.9 1543.1,1231.9 1544.3,1232.6 1545.6,1230.9 1546.8,1230.1 1548,1230.1 1549.2,1229.6 1550.4,1227.3 1551.7,1227.5 1552.9,1227.5 1554.1,1226.9 1555.3,1228.4 1556.5,1229.5 1557.8,1229.8 1559,1233.6 1560.2,1235.3 1561.4,1235.8 1562.6,1238.8 1563.9,1239.9 1565.1,1239.5 1566.3,1239.3 1567.5,1239.3 1568.7,1239.5 1570,1237.1 1571.2,1237.4 1572.4,1236.2 1573.6,1234.2 1574.8,1233.3 1576.1,1235.1 1577.3,1235 1578.5,1235.3 1579.7,1236.2 1581,1235.4 1582.2,1236.7 1583.4,1233.1 1584.6,1232.7 1585.8,1233.7 1587.1,1233.6 1588.3,1231.8 1589.5,1231.7 1590.7,1232.1 1591.9,1232.5 1593.2,1231.4 1594.4,1232.5 1595.6,1231.9 1596.8,1233.3 1598,1236.3 1599.3,1238.3 1600.5,1238.8 1601.7,1235.5 1602.9,1236.3 1604.1,1236.2 1605.4,1236.4 1606.6,1237.3 1607.8,1237.5 1609,1238.3 1610.2,1237.2 1611.5,1236.1 1612.7,1236.3 1613.9,1236.1 1615.1,1234.7 1616.3,1233 1617.6,1234.8 1618.8,1233.8 1620,1238.6 1621.2,1236 1622.4,1235.1 1623.7,1236.3 1624.9,1232.4 1626.1,1233.3 1627.3,1232.8 1628.5,1233 1629.8,1234 1631,1232.8 1632.2,1234.1 1633.4,1235.8 1634.6,1235.3 1635.9,1235 1637.1,1233.4 1638.3,1235.3 1639.5,1234.7 1640.7,1236.2 1642,1238.3 1643.2,1235.8 1644.4,1232.8 1645.6,1232.8 1646.8,1232.7 1648.1,1234.8 1649.3,1232.1 1650.5,1232.5 1651.7,1233.7 1653,1231.2 1654.2,1230 1655.4,1233.8 1656.6,1234 1657.8,1235.2 1659.1,1236.3 1660.3,1237.5 1661.5,1238 1662.7,1239.2 1663.9,1238.1 1665.2,1238.6 1666.4,1236 1667.6,1234.4 1668.8,1234 1670,1232.8 1671.3,1231.6 1672.5,1231.4 1673.7,1230.8 1674.9,1231.5 1676.1,1232.6 1677.4,1234.6 1678.6,1236.3 1679.8,1236.9 1681,1237.4 1682.2,1236.4 1683.5,1235.4 1684.7,1235.3 1685.9,1233.6 1687.1,1232.6 1688.3,1230.7 1689.6,1231.2 1690.8,1231.5 1692,1233.2 1693.2,1233.6 1694.4,1234.1 1695.7,1235 1696.9,1235.4 1698.1,1234.7 1699.3,1233.5 1700.5,1234.2 1701.8,1233.3 1703,1234 1704.2,1235 1705.4,1235 1706.6,1234.1 1707.9,1233.1 1709.1,1232.9 1710.3,1231.8 1711.5,1234.4 1712.7,1234.9 1714,1235.6 1715.2,1235.6 1716.4,1235 1717.6,1234.8 1718.8,1235.5 1720.1,1234.4 1721.3,1235 1722.5,1233.6 1723.7,1234.8 1725,1232.8 1726.2,1232.8 1727.4,1234.7 1728.6,1233.6 1729.8,1230.8 1731.1,1230.5 1732.3,1231.1 1733.5,1228.9 1734.7,1228.8 1735.9,1228.3 1737.2,1228.5 1738.4,1229.7 1739.6,1229.9 1740.8,1230.6 1742,1229.2 1743.3,1230.2 1744.5,1231.8 1745.7,1234.2 1746.9,1235.9 1748.1,1234.3 1749.4,1235.4 1750.6,1233.4 1751.8,1231.8 1753,1232.3 1754.2,1230.9 1755.5,1231.6 1756.7,1233 1757.9,1234 1759.1,1233.9 1760.3,1232.8 1761.6,1230.2 1762.8,1229.8 1764,1229.2 1765.2,1228.4 1766.4,1227.3 1767.7,1227.9 1768.9,1228 1770.1,1228.6 1771.3,1230.1 1772.5,1229.6 1773.8,1230.6 1775,1230.3 1776.2,1227.7 1777.4,1230.2 1778.6,1229.9 1779.9,1230.1 1781.1,1228.9 1782.3,1228.4 1783.5,1230.2 1784.7,1228.9 1786,1229.6 1787.2,1230 1788.4,1229.1 1789.6,1230.3 1790.8,1229.2 1792.1,1231.6 1793.3,1231.6 1794.5,1230.7 1795.7,1232.4 1797,1231.4 1798.2,1232.6 1799.4,1230.6 1800.6,1231 1801.8,1230.7 1803.1,1230.9 1804.3,1232 1805.5,1231.1 1806.7,1230.6 1807.9,1232.1 1809.2,1229.1 1810.4,1229.2 1811.6,1227 1812.8,1226.3 1814,1228.9 1815.3,1228.6 1816.5,1229.9 1817.7,1231.2 1818.9,1230.6 1820.1,1232.3 1821.4,1234.1 1822.6,1231.5 1823.8,1230.2 1825,1230.9 1826.2,1232.6 1827.5,1230.8 1828.7,1230.8 1829.9,1228.8 1831.1,1227 1832.3,1226.6 1833.6,1226.2 1834.8,1227.4 1836,1227.1 1837.2,1228.1 1838.4,1226.5 1839.7,1229.5 1840.9,1229.5 1842.1,1232.5 1843.3,1232.3 1844.5,1235.5 1845.8,1234.6 1847,1233.4 1848.2,1231.2 1849.4,1231.4 1850.6,1231.9 1851.9,1228.8 1853.1,1229.2 1854.3,1227.2 1855.5,1226.7 1856.7,1227.6 1858,1227.5 1859.2,1227.2 1860.4,1225.6 1861.6,1225.2 1862.8,1225.7 1864.1,1224.8 1865.3,1226.3 1866.5,1226.7 1867.7,1225.6 1868.9,1226.9 1870.2,1228.6 1871.4,1227.6 1872.6,1228.7 1873.8,1228.3 1875.1,1227.5 1876.3,1230.4 1877.5,1229.2 1878.7,1232.2 1879.9,1231.3 1881.2,1232 1882.4,1231.9 1883.6,1233.5 1884.8,1232.9 1886,1231.7 1887.3,1232.3 1888.5,1231.8 1889.7,1229.6 1890.9,1229.3 1892.1,1228 1893.4,1226 1894.6,1227 1895.8,1226.5 1897,1228.5 1898.2,1230.5 1899.5,1232 1900.7,1234.2 1901.9,1234.8 1903.1,1235.2 1904.3,1234.2 1905.6,1233.5 1906.8,1233.6 1908,1233.4 1909.2,1231.5 1910.4,1234.9 1911.7,1236.5 1912.9,1236.2 1914.1,1236.9 1915.3,1233.4 1916.5,1232 1917.8,1232.5 1919,1232.2 1920.2,1232.9 1921.4,1234.1 1922.6,1234.5 1923.9,1235.3 1925.1,1234.5 1926.3,1234.7 1927.5,1234.7 1928.7,1233.9 1930,1237.6 1931.2,1237.1 1932.4,1236.8 1933.6,1236.3 1934.8,1236 1936.1,1237.7 1937.3,1237.4 1938.5,1237 1939.7,1235.4 1940.9,1237.8 1942.2,1235.1 1943.4,1237.9 1944.6,1238 1945.8,1239.3 1947.1,1238.3 1948.3,1237.4 1949.5,1237.4 1950.7,1235.4 1951.9,1233.2 1953.2,1233.1 1954.4,1232.6 1955.6,1232 1956.8,1232.5 1958,1235.3 1959.3,1235.5 1960.5,1234.5 1961.7,1233.1 1962.9,1235.9 1964.1,1235.2 1965.4,1236.2 1966.6,1236.6 1967.8,1238.2 1969,1237.1 1970.2,1236.2 1971.5,1235.7 1972.7,1236 1973.9,1237.3 1975.1,1239.3 1976.3,1238.4 1977.6,1239.3 1978.8,1239.4 1980,1239.9 1981.2,1238.8 1982.4,1238 1983.7,1239.2 1984.9,1236.4 1986.1,1236.5 1987.3,1236 1988.5,1239.5 1989.8,1238.2 1991,1237.2 1992.2,1236.6 1993.4,1239 1994.6,1237.7 1995.9,1239 1997.1,1239.9 1998.3,1242.1 1999.5,1241 2000.7,1243.6 2002,1241.7 2003.2,1241.1 2004.4,1239.1 2005.6,1239.8 2006.8,1237.3 2008.1,1236.9 2009.3,1234.5 2010.5,1236.9 2011.7,1234.4 2012.9,1234.2 2014.2,1234.8 2015.4,1235.5 2016.6,1236.5 2017.8,1234.4 2019.1,1236.7 2020.3,1239.1 2021.5,1240.5 2022.7,1238.6 2023.9,1239.5 2025.2,1240.5 2026.4,1238.3 2027.6,1237.6 2028.8,1238 2030,1237.8 2031.3,1234.5 2032.5,1235.6 2033.7,1236.2 2034.9,1235.6 2036.1,1236.6 2037.4,1236.3 2038.6,1234.2 2039.8,1238.9 2041,1239 2042.2,1238.2 2043.5,1239.8 2044.7,1238.6 2045.9,1237.7 2047.1,1235.9 2048.3,1235 2049.6,1235.4 2050.8,1235.2 2052,1237.3" fill="none" stroke="#231f20" stroke-width="4.2" stroke-linejoin="round"/>
<polygon points="231,174.9 231,204.5 259.7,189.7" fill="none" stroke="#231f20" stroke-width="4.2" stroke-linejoin="miter" stroke-miterlimit="10"/>
<polygon points="404.6,710.8 404.6,740.4 433.2,725.6" fill="none" stroke="#231f20" stroke-width="4.2" stroke-linejoin="miter" stroke-miterlimit="10"/>
<polygon points="576.4,999.4 576.4,1029 605,1014.2" fill="none" stroke="#231f20" stroke-width="4.2" stroke-linejoin="miter" stroke-miterlimit="10"/>
<polygon points="750.4,1142.7 750.4,1172.3 779,1157.5" fill="none" stroke="#231f20" stroke-width="4.2" stroke-linejoin="miter" stroke-miterlimit="10"/>
<polygon points="924.1,1187.2 924.1,1216.8 952.8,1202" fill="none" stroke="#231f20" stroke-width="4.2" stroke-linejoin="miter" stroke-miterlimit="10"/>
<polygon points="1095.8,1201.2 1095.8,1230.8 1124.5,1216" fill="none" stroke="#231f20" stroke-width="4.2" stroke-linejoin="miter" stroke-miterlimit="10"/>
<polygon points="1269.6,1212.2 1269.6,1241.8 1298.2,1227" fill="none" stroke="#231f20" stroke-width="4.2" stroke-linejoin="miter" stroke-miterlimit="10"/>
<polygon points="1441.3,1218.3 1441.3,1247.9 1470,1233.1" fill="none" stroke="#231f20" stroke-width="4.2" stroke-linejoin="miter" stroke-miterlimit="10"/>
<polygon points="1615.1,1217.5 1615.1,1247.1 1643.8,1232.3" fill="none" stroke="#231f20" stroke-width="4.2" stroke-linejoin="miter" stroke-miterlimit="10"/>
<polygon points="1786.8,1215.2 1786.8,1244.8 1815.5,1230" fill="none" stroke="#231f20" stroke-width="4.2" stroke-linejoin="miter" stroke-miterlimit="10"/>
<polygon points="1960.8,1220.4 1960.8,1250 1989.5,1235.2" fill="none" stroke="#231f20" stroke-width="4.2" stroke-linejoin="miter" stroke-miterlimit="10"/>
<path d="M222.7,117.1 223.9,120.4 225.2,123.8 226.4,127.4 227.6,131.2 228.8,135 230,139 231.3,143.1 232.5,147.3 233.7,151.6 234.9,156 236.1,160.5 237.4,165.1 238.6,169.7 239.8,174.5 241,179.4 242.2,184.6 243.5,189.9 244.7,195.4 245.9,201.1 247.1,207 248.3,213 249.6,218.9 250.8,224.8 252,230.7 253.2,236.6 254.4,242.3 255.7,248 256.9,253.8 258.1,259.7 259.3,265.4 260.6,271.2 261.8,276.6 263,282.2 264.2,287.5 265.4,292.7 266.7,297.6 267.9,302.8 269.1,307.8 270.3,312.4 271.5,317.4 272.8,322.1 274,326.6 275.2,331.1 276.4,335.5 277.6,339.7 278.9,344.2 280.1,348 281.3,351.8 282.5,356.7 283.7,360.7 285,364.8 286.2,369 287.4,373 288.6,376.8 289.8,381.3 291.1,385.4 292.3,389.5 293.5,393.7 294.7,397.5 295.9,401.6 297.2,406.3 298.4,409.8 299.6,414.7 300.8,418.4 302,422 303.3,427.2 304.5,431.6 305.7,435.1 306.9,439.5 308.1,442.6 309.4,447 310.6,451.8 311.8,455.8 313,459.5 314.2,463.8 315.5,467.6 316.7,472.7 317.9,476.3 319.1,480.5 320.3,484.6 321.6,489 322.8,492.4 324,496.7 325.2,500.4 326.4,504 327.7,508.1 328.9,511.7 330.1,514.4 331.3,518.8 332.6,522.5 333.8,526 335,529.3 336.2,532.9 337.4,536.5 338.7,540.5 339.9,543.5 341.1,547.6 342.3,550.2 343.5,553.8 344.8,557.2 346,560.5 347.2,564.1 348.4,566.9 349.6,570.3 350.9,573.8 352.1,576.6 353.3,580.1 354.5,583.9 355.7,586.9 357,590.2 358.2,593.3 359.4,596.8 360.6,599.6 361.8,602.7 363.1,606 364.3,609 365.5,612.9 366.7,615.7 367.9,618.7 369.2,622 370.4,624.8 371.6,628.4 372.8,631.6 374,635 375.3,637.8 376.5,641.4 377.7,644.5 378.9,646.8 380.1,650.4 381.4,653.8 382.6,656.6 383.8,660 385,662.8 386.2,666.4 387.5,669.7 388.7,672.9 389.9,675.3 391.1,678.9 392.3,681.4 393.6,684.9 394.8,687.7 396,690 397.2,693.3 398.4,696.4 399.7,700 400.9,702.6 402.1,706.1 403.3,707.8 404.5,710.8 405.8,714.1 407,717.5 408.2,719.5 409.4,723 410.7,725.8 411.9,728.4 413.1,731.2 414.3,734.1 415.5,737 416.8,740.2 418,742.7 419.2,746.2 420.4,748.9 421.6,751.6 422.9,754.5 424.1,757.7 425.3,759.9 426.5,763.1 427.7,765.7 429,768.8 430.2,771.7 431.4,774.1 432.6,777.2 433.8,779.6 435.1,782.2 436.3,784.9 437.5,788.2 438.7,790.9 439.9,793.2 441.2,795.8 442.4,798.8 443.6,801.6 444.8,804.1 446,807.1 447.3,810 448.5,811.8 449.7,814.5 450.9,817.8 452.1,820.6 453.4,822.8 454.6,825.5 455.8,828.5 457,830.7 458.2,833.2 459.5,835.5 460.7,838.6 461.9,841.3 463.1,843.8 464.3,846.7 465.6,849.1 466.8,851.3 468,854 469.2,856.5 470.4,858.4 471.7,861.8 472.9,863.8 474.1,867.1 475.3,869.2 476.5,872 477.8,874.2 479,876.7 480.2,878.9 481.4,880.9 482.7,883.6 483.9,885.9 485.1,888.4 486.3,891 487.5,893.4 488.8,895.1 490,897.5 491.2,900.2 492.4,902.4 493.6,904.8 494.9,907.1 496.1,908.9 497.3,911.2 498.5,914.2 499.7,915.6 501,918.1 502.2,920 503.4,922.4 504.6,924.8 505.8,926.5 507.1,929.2 508.3,931 509.5,933.1 510.7,935.6 511.9,937.2 513.2,939.7 514.4,941.2 515.6,943.3 516.8,945.8 518,947.1 519.3,949.6 520.5,952.6 521.7,954 522.9,955.7 524.1,958 525.4,960.7 526.6,962.1 527.8,964.1 529,966.6 530.2,968.7 531.5,970 532.7,972.3 533.9,974.3 535.1,976.1 536.3,977.8 537.6,979.5 538.8,981.7 540,983.7 541.2,985.9 542.4,987.8 543.7,990.2 544.9,991.1 546.1,993.9 547.3,995.6 548.5,997.3 549.8,999.1 551,1001.1 552.2,1002.5 553.4,1005.1 554.7,1007.1 555.9,1008.9 557.1,1010.8 558.3,1012.1 559.5,1014.1 560.8,1015.4 562,1017.8 563.2,1019.3 564.4,1021.7 565.6,1022.9 566.9,1025.1 568.1,1026.8 569.3,1029.3 570.5,1030.2 571.7,1032.7 573,1034.5 574.2,1036.6 575.4,1038.6 576.6,1040.1 577.8,1042.2 579.1,1044.6 580.3,1046 581.5,1047.7 582.7,1050.4 583.9,1051.7 585.2,1053.7 586.4,1055 587.6,1057.5 588.8,1058.7 590,1061.4 591.3,1062.5 592.5,1064.1 593.7,1066.3 594.9,1068.5 596.1,1069.2 597.4,1072 598.6,1073.2 599.8,1074.9 601,1076.3 602.2,1077.8 603.5,1079.7 604.7,1081.6 605.9,1083.3 607.1,1085 608.3,1087.1 609.6,1088.4 610.8,1090 612,1091.8 613.2,1093.1 614.4,1094.8 615.7,1096.7 616.9,1098 618.1,1100.1 619.3,1101.3 620.5,1102.9 621.8,1104.1 623,1105.5 624.2,1108 625.4,1108.5 626.7,1110.7 627.9,1112.3 629.1,1113.3 630.3,1115.1 631.5,1116.5 632.8,1118.3 634,1119.5 635.2,1121.5 636.4,1122.4 637.6,1124.6 638.9,1125.5 640.1,1126.6 641.3,1128.5 642.5,1129.3 643.7,1130.5 645,1131.5 646.2,1132.6 647.4,1133.6 648.6,1134.2 649.8,1135.1 651.1,1135 652.3,1135.8 653.5,1137.1 654.7,1137.6 655.9,1138.9 657.2,1140.4 658.4,1141.2 659.6,1142.3 660.8,1143.7 662,1144.3 663.3,1145.8 664.5,1146.4 665.7,1147.9 666.9,1149 668.1,1150.5 669.4,1150.7 670.6,1151.8 671.8,1153.5 673,1155.1 674.2,1155.6 675.5,1156.2 676.7,1157.6 677.9,1158.1 679.1,1159 680.3,1160.1 681.6,1160.8 682.8,1162.1 684,1163.7 685.2,1164.6 686.4,1165.5 687.7,1166.3 688.9,1167.3 690.1,1168.1 691.3,1169 692.5,1169.3 693.8,1169 695,1167.2 696.2,1166.7 697.4,1166.4 698.7,1164.6 699.9,1166.3 701.1,1166.6 702.3,1167.6 703.5,1169.1 704.8,1169.8 706,1169.2 707.2,1170.5 708.4,1170.2 709.6,1170.9 710.9,1173.7 712.1,1172.2 713.3,1173.4 714.5,1170.9 715.7,1173.8 717,1170.9 718.2,1170.7 719.4,1171.2 720.6,1172.4 721.8,1173.3 723.1,1174.7 724.3,1174.2 725.5,1173.4 726.7,1173.5 727.9,1173.6 729.2,1174.6 730.4,1174.5 731.6,1175.8 732.8,1174.9 734,1175 735.3,1175.5 736.5,1176.6 737.7,1175.9 738.9,1177.9 740.1,1178.1 741.4,1178.4 742.6,1178.6 743.8,1178.7 745,1180.3 746.2,1180.7 747.5,1181.2 748.7,1181.4 749.9,1183 751.1,1181.8 752.3,1181.7 753.6,1183.1 754.8,1184.5 756,1184.8 757.2,1186 758.4,1186.4 759.7,1186.9 760.9,1186.9 762.1,1186.1 763.3,1186.5 764.5,1186.9 765.8,1187.6 767,1188.8 768.2,1189.4 769.4,1190.7 770.6,1190.6 771.9,1191.9 773.1,1192.6 774.3,1193.6 775.5,1194.1 776.8,1195.3 778,1196.6 779.2,1197.3 780.4,1197.6 781.6,1198.9 782.9,1199.1 784.1,1200 785.3,1199.9 786.5,1202.2 787.7,1202.5 789,1203.4 790.2,1203.2 791.4,1202 792.6,1200.2 793.8,1200.9 795.1,1201.8 796.3,1201.9 797.5,1201.3 798.7,1199.8 799.9,1199.2 801.2,1198.1 802.4,1197.2 803.6,1195.6 804.8,1195.3 806,1194.6 807.3,1193.4 808.5,1191.6 809.7,1190.8 810.9,1189.3 812.1,1188.4 813.4,1187.8 814.6,1187.4 815.8,1187.8 817,1188.6 818.2,1190.1 819.5,1190.4 820.7,1191.9 821.9,1193.6 823.1,1194.8 824.3,1196 825.6,1196.4 826.8,1197.3 828,1197.7 829.2,1198.6 830.4,1198.7 831.7,1199.3 832.9,1199.6 834.1,1201.3 835.3,1199.1 836.5,1202.3 837.8,1203.3 839,1202.5 840.2,1201.2 841.4,1200.1 842.6,1199.3 843.9,1198.4 845.1,1197.5 846.3,1196.2 847.5,1195.6 848.8,1194.4 850,1195.4 851.2,1195.5 852.4,1196.1 853.6,1197.4 854.9,1199.2 856.1,1200.6 857.3,1202.6 858.5,1203.6 859.7,1204.6 861,1205.1 862.2,1206.1 863.4,1206.8 864.6,1207.8 865.8,1208.5 867.1,1209.2 868.3,1209.2 869.5,1209.1 870.7,1209.1 871.9,1209.2 873.2,1209.8 874.4,1211.3 875.6,1211.6 876.8,1212.8 878,1214.2 879.3,1215 880.5,1215.4 881.7,1216.2 882.9,1217.2 884.1,1217.1 885.4,1218.6 886.6,1218.5 887.8,1216.2 889,1215.1 890.2,1214.1 891.5,1213.1 892.7,1212.8 893.9,1212.2 895.1,1213.2 896.3,1211.7 897.6,1211.4 898.8,1211.7 900,1212.8 901.2,1213.4 902.4,1214.9 903.7,1216 904.9,1217.8 906.1,1219.5 907.3,1220.7 908.5,1222.3 909.8,1223.1 911,1224.3 912.2,1222.7 913.4,1220.8 914.6,1222.3 915.9,1221 917.1,1221.5 918.3,1220.2 919.5,1221.2 920.8,1222.2 922,1223.3 923.2,1223.8 924.4,1224.2 925.6,1226 926.9,1226.8 928.1,1227.4 929.3,1226.6 930.5,1225.3 931.7,1227 933,1226.4 934.2,1226.6 935.4,1224.5 936.6,1225.4 937.8,1222.9 939.1,1223.6 940.3,1222.8 941.5,1224.2 942.7,1223.3 943.9,1222.4 945.2,1223.2 946.4,1223.3 947.6,1222.1 948.8,1222.9 950,1221.9 951.3,1221.3 952.5,1220.7 953.7,1219.1 954.9,1218.7 956.1,1219.5 957.4,1221.9 958.6,1221 959.8,1221.6 961,1223.3 962.2,1220.6 963.5,1220.7 964.7,1220.5 965.9,1221.1 967.1,1220.9 968.3,1220.2 969.6,1222.5 970.8,1220.5 972,1221.1 973.2,1222.2 974.4,1221.4 975.7,1222.4 976.9,1221.9 978.1,1224.1 979.3,1224.6 980.5,1225.4 981.8,1226.7 983,1228.5 984.2,1229.7 985.4,1230.8 986.6,1231.6 987.9,1233.1 989.1,1233.7 990.3,1235.8 991.5,1235.6 992.8,1237.2 994,1238.2 995.2,1238.9 996.4,1239.8 997.6,1240.7 998.9,1241.8 1000.1,1242.5 1001.3,1243.9 1002.5,1244.6 1003.7,1245.3 1005,1246.4 1006.2,1246.5 1007.4,1247.4 1008.6,1247.7 1009.8,1248.1 1011.1,1246.7 1012.3,1247.5 1013.5,1248 1014.7,1245.7 1015.9,1246.4 1017.2,1245 1018.4,1247.4 1019.6,1248.2 1020.8,1248.9 1022,1252.4 1023.3,1252.6 1024.5,1251.2 1025.7,1252.8 1026.9,1252 1028.1,1248.5 1029.4,1251.1 1030.6,1246.6 1031.8,1247.9 1033,1247.9 1034.2,1248.9 1035.5,1249.1 1036.7,1249.9 1037.9,1251 1039.1,1250.4 1040.3,1250.6 1041.6,1250.3 1042.8,1249.4 1044,1247.9 1045.2,1248.3 1046.4,1250.9 1047.7,1251.1 1048.9,1250.5 1050.1,1249.5 1051.3,1247.4 1052.5,1246.4 1053.8,1244.5 1055,1242.8 1056.2,1241.6 1057.4,1239.7 1058.6,1238 1059.9,1237 1061.1,1235.8 1062.3,1235.1 1063.5,1234.2 1064.8,1233.6 1066,1232.5 1067.2,1231.4 1068.4,1231.2 1069.6,1230.4 1070.9,1229.6 1072.1,1230.3 1073.3,1229.9 1074.5,1231.5 1075.7,1230.2 1077,1231 1078.2,1230.5 1079.4,1231.6 1080.6,1232.3 1081.8,1232.7 1083.1,1234.3 1084.3,1235.3 1085.5,1236.1 1086.7,1236.5 1087.9,1237 1089.2,1239.4 1090.4,1240 1091.6,1241.5 1092.8,1238.5 1094,1238.2 1095.3,1236.8 1096.5,1235.9 1097.7,1235.5 1098.9,1235.3 1100.1,1233.7 1101.4,1233.8 1102.6,1233.3 1103.8,1232.8 1105,1232.4 1106.2,1232.9 1107.5,1232.6 1108.7,1231.7 1109.9,1231 1111.1,1230.8 1112.3,1229.9 1113.6,1229.2 1114.8,1228 1116,1227 1117.2,1227.6 1118.4,1227.7 1119.7,1228.6 1120.9,1228.3 1122.1,1225.9 1123.3,1223.9 1124.5,1222.3 1125.8,1224.8 1127,1226.4 1128.2,1228.4 1129.4,1229 1130.6,1229 1131.9,1229 1133.1,1229.3 1134.3,1229.8 1135.5,1230.6 1136.8,1232.3 1138,1233.3 1139.2,1233.4 1140.4,1233.3 1141.6,1233.4 1142.9,1231.4 1144.1,1232.7 1145.3,1231.6 1146.5,1233.4 1147.7,1235.6 1149,1233.3 1150.2,1234.4 1151.4,1233.5 1152.6,1234.2 1153.8,1234.3 1155.1,1232.6 1156.3,1232.4 1157.5,1232.1 1158.7,1231.4 1159.9,1231.4 1161.2,1230.4 1162.4,1230.1 1163.6,1229.9 1164.8,1228.6 1166,1228.7 1167.3,1229 1168.5,1227.4 1169.7,1227.5 1170.9,1227.4 1172.1,1225.7 1173.4,1225.9 1174.6,1223.7 1175.8,1226.5 1177,1223.3 1178.2,1221.6 1179.5,1222.9 1180.7,1221.6 1181.9,1220 1183.1,1218.5 1184.3,1220.2 1185.6,1220 1186.8,1219.6 1188,1221.6 1189.2,1221.2 1190.4,1222.7 1191.7,1222 1192.9,1222 1194.1,1221.6 1195.3,1219.8 1196.5,1220.6 1197.8,1222.3 1199,1223.3 1200.2,1224.5 1201.4,1223.9 1202.6,1224.4 1203.9,1224.6 1205.1,1225.4 1206.3,1226.2 1207.5,1225.1 1208.7,1223 1210,1221.7 1211.2,1221.1 1212.4,1221.1 1213.6,1218.6 1214.9,1217.8 1216.1,1217.9 1217.3,1217.7 1218.5,1219.2 1219.7,1217.9 1221,1219.4 1222.2,1218.4 1223.4,1217.2 1224.6,1215.7 1225.8,1216.4 1227.1,1216.2 1228.3,1217.6 1229.5,1218 1230.7,1218.5 1231.9,1220.3 1233.2,1220.8 1234.4,1221.1 1235.6,1221.9 1236.8,1222.6 1238,1223.3 1239.3,1224.6 1240.5,1225.5 1241.7,1227.2 1242.9,1227.4 1244.1,1227.9 1245.4,1228.7 1246.6,1229.5 1247.8,1230 1249,1231 1250.2,1231.1 1251.5,1231.5 1252.7,1232.7 1253.9,1233.9 1255.1,1233.8 1256.3,1235.2 1257.6,1236.4 1258.8,1236.7 1260,1237.2 1261.2,1239.7 1262.4,1240 1263.7,1238.7 1264.9,1238.1 1266.1,1237.8 1267.3,1237.9 1268.5,1234.4 1269.8,1236.1 1271,1235.3 1272.2,1235.5 1273.4,1234.5 1274.6,1233.5 1275.9,1233 1277.1,1231.9 1278.3,1231.2 1279.5,1230.8 1280.7,1230.1 1282,1229.8 1283.2,1228.9 1284.4,1228.1 1285.6,1228.2 1286.9,1227.3 1288.1,1228.1 1289.3,1227.1 1290.5,1227.1 1291.7,1225.8 1293,1225.1 1294.2,1224.3 1295.4,1224.9 1296.6,1223.8 1297.8,1223.5 1299.1,1223.3 1300.3,1222.7 1301.5,1223 1302.7,1222.6 1303.9,1222.8 1305.2,1221.9 1306.4,1221.4 1307.6,1221 1308.8,1220.7 1310,1220.9 1311.3,1220.9 1312.5,1220.2 1313.7,1221 1314.9,1221.7 1316.1,1217.4 1317.4,1218.6 1318.6,1216.2 1319.8,1216.9 1321,1216.6 1322.2,1217 1323.5,1216.5 1324.7,1216.7 1325.9,1218.3 1327.1,1217.4 1328.3,1218.2 1329.6,1217.8 1330.8,1219.4 1332,1220.8 1333.2,1221 1334.4,1220.4 1335.7,1221 1336.9,1221.3 1338.1,1219.8 1339.3,1220.4 1340.5,1220 1341.8,1220.4 1343,1219.6 1344.2,1219.3 1345.4,1218.4 1346.6,1219.7 1347.9,1218.1 1349.1,1220.2 1350.3,1223.1 1351.5,1223.2 1352.7,1224.8 1354,1222.5 1355.2,1221.1 1356.4,1221.3 1357.6,1221.1 1358.9,1221.2 1360.1,1221.3 1361.3,1222.4 1362.5,1221.3 1363.7,1222.2 1365,1222 1366.2,1222.3 1367.4,1222.7 1368.6,1224.4 1369.8,1225.6 1371.1,1227.6 1372.3,1228 1373.5,1230.7 1374.7,1228.1 1375.9,1228 1377.2,1226.2 1378.4,1226 1379.6,1224.8 1380.8,1222.8 1382,1224.3 1383.3,1222.2 1384.5,1223.5 1385.7,1221.9 1386.9,1223.5 1388.1,1223.3 1389.4,1224.9 1390.6,1223.4 1391.8,1223.5 1393,1223.6 1394.2,1226.3 1395.5,1226.8 1396.7,1223.7 1397.9,1223 1399.1,1220.4 1400.3,1218.9 1401.6,1218.2 1402.8,1219.2 1404,1220 1405.2,1218.4 1406.4,1217.2 1407.7,1218 1408.9,1218 1410.1,1218.9 1411.3,1221.6 1412.5,1222.8 1413.8,1221.9 1415,1222.2 1416.2,1223.5 1417.4,1220.6 1418.6,1221.9 1419.9,1221.9 1421.1,1219.4 1422.3,1220.3 1423.5,1220.1 1424.7,1222.1 1426,1218.3 1427.2,1218.2 1428.4,1218 1429.6,1221.1 1430.9,1218.1 1432.1,1219.9 1433.3,1221.6 1434.5,1224.4 1435.7,1222.5 1437,1223.6 1438.2,1222.2 1439.4,1220.7 1440.6,1218.8 1441.8,1220.1 1443.1,1218.7 1444.3,1218.2 1445.5,1219.4 1446.7,1217.5 1447.9,1216.2 1449.2,1217 1450.4,1216.1 1451.6,1216.5 1452.8,1216.5 1454,1217 1455.3,1217.3 1456.5,1215.9 1457.7,1216.2 1458.9,1214.6 1460.1,1215.2 1461.4,1213.9 1462.6,1212.8 1463.8,1212.3 1465,1211.9 1466.2,1212.5 1467.5,1211.3 1468.7,1211.4 1469.9,1212.2 1471.1,1210.9 1472.3,1212.2 1473.6,1212.3 1474.8,1212.7 1476,1213.4 1477.2,1213.4 1478.4,1212.4 1479.7,1213.2 1480.9,1213.6 1482.1,1213.6 1483.3,1213.8 1484.5,1215.1 1485.8,1214.2 1487,1214.4 1488.2,1213.6 1489.4,1213 1490.6,1211.8 1491.9,1211.2 1493.1,1210.6 1494.3,1211 1495.5,1212.1 1496.7,1208.9 1498,1210.1 1499.2,1209.9 1500.4,1210 1501.6,1210.4 1502.8,1209.8 1504.1,1212.3 1505.3,1211.6 1506.5,1213.7 1507.7,1212.3 1509,1213.9 1510.2,1213.7 1511.4,1213.9 1512.6,1214.3 1513.8,1213.8 1515.1,1213.8 1516.3,1212.9 1517.5,1214 1518.7,1215.4 1519.9,1215 1521.2,1214.6 1522.4,1216.2 1523.6,1216.2 1524.8,1217.5 1526,1218.3 1527.3,1219 1528.5,1221 1529.7,1219.9 1530.9,1221.7 1532.1,1220.7 1533.4,1220.1 1534.6,1219.7 1535.8,1220.3 1537,1220.2 1538.2,1221.7 1539.5,1221.8 1540.7,1221.4 1541.9,1221.4 1543.1,1223 1544.3,1222.5 1545.6,1222.8 1546.8,1222.7 1548,1222.3 1549.2,1223.3 1550.4,1225.6 1551.7,1226.3 1552.9,1226.8 1554.1,1227.1 1555.3,1224.5 1556.5,1224.3 1557.8,1224 1559,1224.3 1560.2,1223.7 1561.4,1224.2 1562.6,1226.6 1563.9,1227.7 1565.1,1226.4 1566.3,1227.4 1567.5,1227.7 1568.7,1227.3 1570,1228.5 1571.2,1226.3 1572.4,1224.7 1573.6,1226.1 1574.8,1220.8 1576.1,1223.7 1577.3,1223.2 1578.5,1224.4 1579.7,1226.4 1581,1227.1 1582.2,1227.8 1583.4,1228.1 1584.6,1228.2 1585.8,1227.1 1587.1,1227.7 1588.3,1226.2 1589.5,1224.4 1590.7,1222.5 1591.9,1223.4 1593.2,1223.6 1594.4,1222.8 1595.6,1222.4 1596.8,1222.9 1598,1221.6 1599.3,1221 1600.5,1222.2 1601.7,1221.9 1602.9,1223.2 1604.1,1223.2 1605.4,1223.1 1606.6,1222.1 1607.8,1221.5 1609,1218.1 1610.2,1216.8 1611.5,1218.4 1612.7,1219.9 1613.9,1219.2 1615.1,1219.8 1616.3,1217.6 1617.6,1218.6 1618.8,1217.9 1620,1218.2 1621.2,1219.5 1622.4,1221.2 1623.7,1221.2 1624.9,1223.1 1626.1,1220.6 1627.3,1220 1628.5,1219.8 1629.8,1220.9 1631,1221.5 1632.2,1222.5 1633.4,1223.5 1634.6,1224.1 1635.9,1225.5 1637.1,1226.8 1638.3,1227.9 1639.5,1228.9 1640.7,1230.2 1642,1231.9 1643.2,1232.8 1644.4,1229.8 1645.6,1230.2 1646.8,1230.1 1648.1,1230.8 1649.3,1230.3 1650.5,1228.1 1651.7,1226.3 1653,1226.2 1654.2,1225.8 1655.4,1225.3 1656.6,1223.4 1657.8,1223.4 1659.1,1222 1660.3,1222.1 1661.5,1221.7 1662.7,1219.7 1663.9,1222.1 1665.2,1220.9 1666.4,1220.5 1667.6,1221.9 1668.8,1221.1 1670,1219.5 1671.3,1222.3 1672.5,1222.4 1673.7,1222.7 1674.9,1221.7 1676.1,1221.7 1677.4,1223.3 1678.6,1222.9 1679.8,1221.9 1681,1222.3 1682.2,1221.5 1683.5,1222.2 1684.7,1221.2 1685.9,1221.1 1687.1,1220.8 1688.3,1218.2 1689.6,1219.9 1690.8,1217.6 1692,1220.3 1693.2,1218.9 1694.4,1218.7 1695.7,1219 1696.9,1217.1 1698.1,1216.3 1699.3,1219.1 1700.5,1218.6 1701.8,1219.5 1703,1219.1 1704.2,1220.5 1705.4,1219 1706.6,1220.2 1707.9,1218.3 1709.1,1216.8 1710.3,1217.3 1711.5,1215.1 1712.7,1216.1 1714,1211.5 1715.2,1213.6 1716.4,1214 1717.6,1213.6 1718.8,1213.9 1720.1,1213.9 1721.3,1216.1 1722.5,1217 1723.7,1218.8 1725,1216 1726.2,1217.4 1727.4,1218.1 1728.6,1220.2 1729.8,1220.2 1731.1,1220.2 1732.3,1219.9 1733.5,1219.7 1734.7,1221 1735.9,1221.4 1737.2,1221.9 1738.4,1223.1 1739.6,1222.8 1740.8,1222.1 1742,1223.4 1743.3,1221.5 1744.5,1224.8 1745.7,1222.8 1746.9,1222.9 1748.1,1223.8 1749.4,1223.9 1750.6,1222.7 1751.8,1219.2 1753,1222.4 1754.2,1219.9 1755.5,1219.5 1756.7,1220.1 1757.9,1219.5 1759.1,1220.9 1760.3,1219.8 1761.6,1219.9 1762.8,1219.6 1764,1217.5 1765.2,1217.6 1766.4,1215.8 1767.7,1216.2 1768.9,1216.3 1770.1,1215.9 1771.3,1216.4 1772.5,1217.2 1773.8,1219.5 1775,1219 1776.2,1219 1777.4,1219.8 1778.6,1218.1 1779.9,1218.6 1781.1,1218.8 1782.3,1222.6 1783.5,1223.1 1784.7,1223.1 1786,1221.9 1787.2,1222.8 1788.4,1221.1 1789.6,1220.8 1790.8,1221.5 1792.1,1221.6 1793.3,1222.3 1794.5,1222.2 1795.7,1222.7 1797,1222 1798.2,1223.5 1799.4,1224.2 1800.6,1224.3 1801.8,1224.1 1803.1,1225.2 1804.3,1223.5 1805.5,1225.1 1806.7,1224.4 1807.9,1225.2 1809.2,1223.6 1810.4,1224.4 1811.6,1223.1 1812.8,1220.9 1814,1222.3 1815.3,1222.3 1816.5,1221.3 1817.7,1219.7 1818.9,1218.5 1820.1,1217.4 1821.4,1218 1822.6,1217.6 1823.8,1219.3 1825,1219.6 1826.2,1220 1827.5,1219.8 1828.7,1219 1829.9,1218.4 1831.1,1214.4 1832.3,1214.5 1833.6,1214.1 1834.8,1214.8 1836,1215.5 1837.2,1213.8 1838.4,1216.8 1839.7,1217.4 1840.9,1216.4 1842.1,1215.9 1843.3,1214.8 1844.5,1214.2 1845.8,1215.3 1847,1216.7 1848.2,1216 1849.4,1218 1850.6,1216.9 1851.9,1216.4 1853.1,1218 1854.3,1215.7 1855.5,1216.8 1856.7,1218 1858,1215.4 1859.2,1214.6 1860.4,1213.5 1861.6,1214.3 1862.8,1216.1 1864.1,1217 1865.3,1217.6 1866.5,1217.6 1867.7,1218.7 1868.9,1221.3 1870.2,1220.5 1871.4,1222.9 1872.6,1222.4 1873.8,1223.7 1875.1,1223.9 1876.3,1222.6 1877.5,1223.4 1878.7,1221.6 1879.9,1221.9 1881.2,1221.5 1882.4,1220.1 1883.6,1221.7 1884.8,1221.9 1886,1222.5 1887.3,1222.2 1888.5,1222.3 1889.7,1221 1890.9,1222.2 1892.1,1220.6 1893.4,1221.1 1894.6,1219.9 1895.8,1220.6 1897,1220.7 1898.2,1218.1 1899.5,1218.3 1900.7,1219.8 1901.9,1220.9 1903.1,1220.4 1904.3,1223 1905.6,1225 1906.8,1225.6 1908,1226 1909.2,1225.5 1910.4,1226.7 1911.7,1226.1 1912.9,1224.6 1914.1,1225.9 1915.3,1225.8 1916.5,1225.7 1917.8,1224 1919,1223.1 1920.2,1223.6 1921.4,1221.3 1922.6,1221.7 1923.9,1221.8 1925.1,1222.1 1926.3,1221.5 1927.5,1218.7 1928.7,1217.9 1930,1215.4 1931.2,1217.5 1932.4,1215.9 1933.6,1220.7 1934.8,1218.5 1936.1,1218.8 1937.3,1218.6 1938.5,1219.8 1939.7,1218.8 1940.9,1217.3 1942.2,1224.3 1943.4,1223.3 1944.6,1224.5 1945.8,1221 1947.1,1221.1 1948.3,1220 1949.5,1218 1950.7,1218.2 1951.9,1217.2 1953.2,1219.4 1954.4,1221.5 1955.6,1221.9 1956.8,1222.3 1958,1224.7 1959.3,1224.3 1960.5,1226.6 1961.7,1224.1 1962.9,1222.6 1964.1,1222.9 1965.4,1222.3 1966.6,1223.3 1967.8,1223.3 1969,1220.1 1970.2,1219.6 1971.5,1217.9 1972.7,1215.9 1973.9,1217.4 1975.1,1218.4 1976.3,1220.4 1977.6,1221.1 1978.8,1223.9 1980,1224.2 1981.2,1222 1982.4,1221 1983.7,1221.4 1984.9,1220.4 1986.1,1222.1 1987.3,1220 1988.5,1217.8 1989.8,1219.6 1991,1216.5 1992.2,1219.8 1993.4,1218.7 1994.6,1221.6 1995.9,1219.9 1997.1,1221.2 1998.3,1220.5 1999.5,1220.2 2000.7,1219.2 2002,1218.8 2003.2,1221.2 2004.4,1222.6 2005.6,1219.6 2006.8,1222.9 2008.1,1224.2 2009.3,1223.1 2010.5,1222.1 2011.7,1221.8 2012.9,1221.4 2014.2,1221.9 2015.4,1223.3 2016.6,1223.2 2017.8,1223 2019.1,1221.4 2020.3,1222.9 2021.5,1222.4 2022.7,1223.3 2023.9,1224.6 2025.2,1223.3 2026.4,1221.8 2027.6,1221.1 2028.8,1220 2030,1220.7 2031.3,1219.9 2032.5,1218.9 2033.7,1218.7 2034.9,1217.7 2036.1,1217.1 2037.4,1217 2038.6,1216.1 2039.8,1214.8 2041,1214.1 2042.2,1212.7 2043.5,1211.7 2044.7,1210.5 2045.9,1210.5 2047.1,1210.5 2048.3,1210.6 2049.6,1210.3 2050.8,1209.4 2052,1209.1" fill="none" stroke="#60c8d3" stroke-width="4.2" stroke-linejoin="round"/>
<polygon points="224,183.7 256.3,183.7 240.2,159" fill="none" stroke="#60c8d3" stroke-width="4.2" stroke-linejoin="miter" stroke-miterlimit="10"/>
<polygon points="397.6,745.5 429.9,745.5 413.8,720.9" fill="none" stroke="#60c8d3" stroke-width="4.2" stroke-linejoin="miter" stroke-miterlimit="10"/>
<polygon points="569.4,1065.5 601.6,1065.5 585.5,1040.8" fill="none" stroke="#60c8d3" stroke-width="4.2" stroke-linejoin="miter" stroke-miterlimit="10"/>
<polygon points="743.4,1192.5 775.6,1192.5 759.5,1167.8" fill="none" stroke="#60c8d3" stroke-width="4.2" stroke-linejoin="miter" stroke-miterlimit="10"/>
<polygon points="917.1,1230.5 949.4,1230.5 933.2,1205.9" fill="none" stroke="#60c8d3" stroke-width="4.2" stroke-linejoin="miter" stroke-miterlimit="10"/>
<polygon points="1088.8,1229 1121.2,1229 1105,1204.4" fill="none" stroke="#60c8d3" stroke-width="4.2" stroke-linejoin="miter" stroke-miterlimit="10"/>
<polygon points="1262.6,1238 1294.9,1238 1278.8,1213.4" fill="none" stroke="#60c8d3" stroke-width="4.2" stroke-linejoin="miter" stroke-miterlimit="10"/>
<polygon points="1434.3,1231 1466.7,1231 1450.5,1206.4" fill="none" stroke="#60c8d3" stroke-width="4.2" stroke-linejoin="miter" stroke-miterlimit="10"/>
<polygon points="1608.1,1227.8 1640.5,1227.8 1624.3,1203.1" fill="none" stroke="#60c8d3" stroke-width="4.2" stroke-linejoin="miter" stroke-miterlimit="10"/>
<polygon points="1779.8,1228.9 1812.2,1228.9 1796,1204.2" fill="none" stroke="#60c8d3" stroke-width="4.2" stroke-linejoin="miter" stroke-miterlimit="10"/>
<polygon points="1953.8,1227.7 1986.2,1227.7 1970,1203.1" fill="none" stroke="#60c8d3" stroke-width="4.2" stroke-linejoin="miter" stroke-miterlimit="10"/>
<path d="M222.7,117.1 223.9,121.5 225.2,126.2 226.4,130.9 227.6,135.7 228.8,140.7 230,145.8 231.3,150.9 232.5,156.2 233.7,161.5 234.9,167 236.1,172.6 237.4,178.3 238.6,183.8 239.8,189.6 241,195.3 242.2,201.2 243.5,207.3 244.7,213.7 245.9,220.1 247.1,226.8 248.3,233.4 249.6,240 250.8,246 252,252.4 253.2,258.6 254.4,264.9 255.7,271.1 256.9,277.1 258.1,283.3 259.3,289.3 260.6,294.7 261.8,301.2 263,306.6 264.2,312 265.4,318.1 266.7,323.2 267.9,328.2 269.1,333.7 270.3,338.6 271.5,343.6 272.8,348.5 274,353.7 275.2,358.2 276.4,362.5 277.6,367.1 278.9,371.7 280.1,376.5 281.3,381 282.5,385.5 283.7,389.7 285,394.2 286.2,398.5 287.4,403 288.6,407.4 289.8,412.5 291.1,416.7 292.3,421 293.5,425.5 294.7,429.7 295.9,434.1 297.2,438.2 298.4,442.4 299.6,447.3 300.8,451.4 302,455.6 303.3,459.7 304.5,463.6 305.7,468 306.9,472.6 308.1,476.6 309.4,480.3 310.6,484.5 311.8,488.8 313,492.6 314.2,496.9 315.5,500.8 316.7,504.8 317.9,508.8 319.1,512.4 320.3,516.8 321.6,520.3 322.8,524.2 324,528.3 325.2,531.9 326.4,536 327.7,538.6 328.9,542.3 330.1,546.7 331.3,550.5 332.6,553.2 333.8,557.3 335,561.1 336.2,564 337.4,567.8 338.7,571.7 339.9,575 341.1,579.2 342.3,581.7 343.5,585.3 344.8,588.7 346,592.9 347.2,595.8 348.4,599.1 349.6,603.1 350.9,605.8 352.1,609.7 353.3,612.6 354.5,616.5 355.7,619.4 357,622.6 358.2,626.2 359.4,629.4 360.6,632.1 361.8,635.8 363.1,639.1 364.3,642.1 365.5,645.4 366.7,648.8 367.9,651.6 369.2,654.1 370.4,657.9 371.6,660.9 372.8,664 374,666.7 375.3,670 376.5,673.4 377.7,676.2 378.9,679.4 380.1,682.1 381.4,685.6 382.6,687.9 383.8,690.6 385,693.8 386.2,697 387.5,699.6 388.7,703.3 389.9,706.1 391.1,708.5 392.3,711.5 393.6,715 394.8,717 396,720 397.2,722.8 398.4,725.9 399.7,728.7 400.9,731.4 402.1,734.5 403.3,737.9 404.5,740.3 405.8,743.1 407,746.1 408.2,747.9 409.4,752.4 410.7,754.9 411.9,757.7 413.1,760.5 414.3,763.3 415.5,766 416.8,769.2 418,771.6 419.2,774.8 420.4,777.1 421.6,780.4 422.9,783.2 424.1,786.1 425.3,789.1 426.5,791.8 427.7,795 429,797.2 430.2,800.1 431.4,803.4 432.6,806.3 433.8,808.6 435.1,811.7 436.3,814.7 437.5,817.4 438.7,820.4 439.9,823.1 441.2,826 442.4,828.8 443.6,831.6 444.8,834.4 446,837.4 447.3,839.7 448.5,842.6 449.7,845.1 450.9,848.6 452.1,851.7 453.4,853.5 454.6,856.1 455.8,859.3 457,862.2 458.2,864.5 459.5,867 460.7,870.3 461.9,872.7 463.1,875.7 464.3,877.9 465.6,880 466.8,883.4 468,885.6 469.2,888 470.4,890.8 471.7,893.7 472.9,895.4 474.1,898.4 475.3,901.2 476.5,903.9 477.8,905.9 479,909.2 480.2,911.6 481.4,914.1 482.7,915.9 483.9,918.8 485.1,921.1 486.3,923 487.5,926.1 488.8,928.4 490,931.1 491.2,933.4 492.4,935.7 493.6,938.3 494.9,940.8 496.1,943.4 497.3,945.1 498.5,947.9 499.7,950.9 501,953.1 502.2,954.7 503.4,957.3 504.6,960 505.8,962 507.1,964.2 508.3,966.8 509.5,968.7 510.7,971.5 511.9,973.3 513.2,975.3 514.4,977.8 515.6,979.9 516.8,982.2 518,984.5 519.3,986.6 520.5,988.5 521.7,990.2 522.9,992.9 524.1,995.4 525.4,997.3 526.6,999.5 527.8,1001.6 529,1003.2 530.2,1005.2 531.5,1007.1 532.7,1009.6 533.9,1010.9 535.1,1013.2 536.3,1015.9 537.6,1017.6 538.8,1018.9 540,1021.3 541.2,1022.8 542.4,1024.8 543.7,1026.2 544.9,1028.9 546.1,1030.6 547.3,1032.3 548.5,1033.9 549.8,1035.4 551,1037.3 552.2,1039.3 553.4,1040.9 554.7,1042.7 555.9,1044.7 557.1,1045.9 558.3,1048.4 559.5,1049.3 560.8,1051.2 562,1052.9 563.2,1054.9 564.4,1056.1 565.6,1057.6 566.9,1059.4 568.1,1061.2 569.3,1063 570.5,1065.5 571.7,1066.4 573,1068.2 574.2,1069.5 575.4,1071.3 576.6,1073.3 577.8,1074.7 579.1,1076.4 580.3,1077.5 581.5,1079.7 582.7,1081.3 583.9,1082.2 585.2,1084.2 586.4,1086.2 587.6,1087.4 588.8,1088.7 590,1090.1 591.3,1091.8 592.5,1093.9 593.7,1095.1 594.9,1097.2 596.1,1097.9 597.4,1100 598.6,1101.4 599.8,1102.9 601,1104.7 602.2,1106 603.5,1107.8 604.7,1108.7 605.9,1110.8 607.1,1113.1 608.3,1114.1 609.6,1116 610.8,1117.1 612,1118.6 613.2,1119.8 614.4,1121.7 615.7,1122.9 616.9,1124.4 618.1,1126.1 619.3,1127 620.5,1129.1 621.8,1130.8 623,1132.1 624.2,1133.3 625.4,1135.1 626.7,1136.4 627.9,1137.9 629.1,1139.3 630.3,1140.2 631.5,1141.4 632.8,1143 634,1144.4 635.2,1146 636.4,1147.1 637.6,1148.4 638.9,1149.5 640.1,1150.9 641.3,1151.6 642.5,1153.3 643.7,1154 645,1155.6 646.2,1156.7 647.4,1158.1 648.6,1159.3 649.8,1161.1 651.1,1161.5 652.3,1162.6 653.5,1164 654.7,1164.5 655.9,1166.3 657.2,1167 658.4,1168 659.6,1168.4 660.8,1169.5 662,1170.2 663.3,1171.2 664.5,1171.9 665.7,1171.9 666.9,1172.4 668.1,1173.5 669.4,1173.6 670.6,1174.1 671.8,1174.7 673,1176 674.2,1176.5 675.5,1177.6 676.7,1178.4 677.9,1178.6 679.1,1179.8 680.3,1180 681.6,1181.4 682.8,1182.1 684,1183.1 685.2,1183.7 686.4,1184 687.7,1183.8 688.9,1185 690.1,1185.2 691.3,1185.5 692.5,1186.4 693.8,1187.2 695,1187.6 696.2,1188.2 697.4,1188.5 698.7,1189.8 699.9,1190.4 701.1,1191.1 702.3,1191.7 703.5,1192.2 704.8,1192.7 706,1193.6 707.2,1193.6 708.4,1194.5 709.6,1194.7 710.9,1194.7 712.1,1195.3 713.3,1196.6 714.5,1196.2 715.7,1196.4 717,1196.8 718.2,1197.7 719.4,1198.2 720.6,1198.9 721.8,1198.3 723.1,1199.5 724.3,1199.5 725.5,1200.3 726.7,1200.8 727.9,1202 729.2,1203 730.4,1203.1 731.6,1204.3 732.8,1204.1 734,1204.5 735.3,1203.8 736.5,1203.6 737.7,1203.4 738.9,1204.1 740.1,1204.1 741.4,1203.7 742.6,1204.3 743.8,1203.1 745,1202.5 746.2,1201 747.5,1202 748.7,1201.5 749.9,1202.2 751.1,1203.4 752.3,1204.1 753.6,1205.3 754.8,1204.9 756,1206.9 757.2,1207.8 758.4,1208.7 759.7,1208.9 760.9,1210.2 762.1,1210.8 763.3,1211.9 764.5,1213 765.8,1212.8 767,1214.4 768.2,1215.7 769.4,1215.9 770.6,1216.8 771.9,1217.5 773.1,1218.7 774.3,1219 775.5,1221 776.8,1221.5 778,1222.9 779.2,1223.1 780.4,1222.8 781.6,1222.7 782.9,1222 784.1,1221.9 785.3,1222.2 786.5,1222.4 787.7,1222.6 789,1223.2 790.2,1225.3 791.4,1224.8 792.6,1225.2 793.8,1225.2 795.1,1226.5 796.3,1224.4 797.5,1225.2 798.7,1225.3 799.9,1224.7 801.2,1221.9 802.4,1224.2 803.6,1223.7 804.8,1222.7 806,1225.8 807.3,1225.5 808.5,1224.3 809.7,1224.7 810.9,1225.8 812.1,1228.1 813.4,1226.8 814.6,1229 815.8,1229.5 817,1227.7 818.2,1226.8 819.5,1225.9 820.7,1227.2 821.9,1226 823.1,1225.9 824.3,1225.1 825.6,1223.8 826.8,1223.7 828,1222.5 829.2,1222.3 830.4,1222.6 831.7,1224.4 832.9,1220.4 834.1,1222.8 835.3,1222.2 836.5,1224.2 837.8,1222.1 839,1222.2 840.2,1221.5 841.4,1223.6 842.6,1225.1 843.9,1222.5 845.1,1222.5 846.3,1223.2 847.5,1222.8 848.8,1222.1 850,1221.4 851.2,1220.9 852.4,1219.9 853.6,1221.3 854.9,1221 856.1,1220 857.3,1218.8 858.5,1216.5 859.7,1215.4 861,1213.4 862.2,1211.2 863.4,1209.1 864.6,1210 865.8,1208.4 867.1,1210.7 868.3,1211.5 869.5,1212.6 870.7,1213 871.9,1214.3 873.2,1214.9 874.4,1215.3 875.6,1215.8 876.8,1216.7 878,1217.7 879.3,1218.1 880.5,1217.7 881.7,1219 882.9,1217.8 884.1,1216.7 885.4,1216.6 886.6,1217.1 887.8,1215.6 889,1214.3 890.2,1215.6 891.5,1214 892.7,1216.4 893.9,1217.8 895.1,1218.1 896.3,1217.3 897.6,1216.3 898.8,1214.8 900,1214.2 901.2,1213 902.4,1212.3 903.7,1211.8 904.9,1212 906.1,1214.7 907.3,1212 908.5,1211 909.8,1210.3 911,1209.1 912.2,1208 913.4,1209.5 914.6,1212.3 915.9,1210.6 917.1,1210 918.3,1213 919.5,1210.6 920.8,1211.4 922,1209.4 923.2,1210.7 924.4,1211.6 925.6,1212.8 926.9,1212.7 928.1,1213.5 929.3,1214.4 930.5,1212.4 931.7,1211.5 933,1213.2 934.2,1209.7 935.4,1209.5 936.6,1211.7 937.8,1210.2 939.1,1210.6 940.3,1209.6 941.5,1209.6 942.7,1208.6 943.9,1207.2 945.2,1204.9 946.4,1204.1 947.6,1202.7 948.8,1202 950,1203 951.3,1205 952.5,1206 953.7,1207 954.9,1207.6 956.1,1208.5 957.4,1209.2 958.6,1210.5 959.8,1211.4 961,1212.5 962.2,1213 963.5,1214.2 964.7,1214.5 965.9,1214.6 967.1,1215.6 968.3,1214.6 969.6,1213.5 970.8,1212.6 972,1210.7 973.2,1208.8 974.4,1206.1 975.7,1205 976.9,1203 978.1,1201 979.3,1201.1 980.5,1203.2 981.8,1205.1 983,1205.2 984.2,1204 985.4,1203.7 986.6,1203.6 987.9,1203.2 989.1,1201.7 990.3,1200.5 991.5,1199.8 992.8,1199 994,1199.3 995.2,1201.4 996.4,1199.1 997.6,1198.5 998.9,1199.2 1000.1,1198.7 1001.3,1201.2 1002.5,1201.8 1003.7,1203 1005,1205.3 1006.2,1206.4 1007.4,1206.9 1008.6,1208.4 1009.8,1210.7 1011.1,1211.8 1012.3,1213.5 1013.5,1215 1014.7,1216.5 1015.9,1217.9 1017.2,1218 1018.4,1218.5 1019.6,1218.3 1020.8,1215 1022,1215.4 1023.3,1216.6 1024.5,1219 1025.7,1219.9 1026.9,1219.7 1028.1,1219.7 1029.4,1219.1 1030.6,1220.1 1031.8,1220.5 1033,1221.2 1034.2,1222 1035.5,1223.2 1036.7,1224 1037.9,1224.7 1039.1,1224.1 1040.3,1224.6 1041.6,1224.2 1042.8,1223.6 1044,1222.8 1045.2,1221 1046.4,1219.7 1047.7,1218.2 1048.9,1217.8 1050.1,1217.4 1051.3,1216.6 1052.5,1217 1053.8,1217.2 1055,1216.1 1056.2,1215.4 1057.4,1215.1 1058.6,1215.2 1059.9,1213.9 1061.1,1215.5 1062.3,1215.3 1063.5,1215.1 1064.8,1213.6 1066,1210.9 1067.2,1213.4 1068.4,1211.4 1069.6,1212.4 1070.9,1212 1072.1,1213.8 1073.3,1214.5 1074.5,1216.3 1075.7,1215.6 1077,1214.7 1078.2,1214.4 1079.4,1215.1 1080.6,1215.3 1081.8,1215.3 1083.1,1216.1 1084.3,1217.4 1085.5,1217.3 1086.7,1217.9 1087.9,1217.7 1089.2,1217.4 1090.4,1215.5 1091.6,1216.7 1092.8,1217.7 1094,1216.7 1095.3,1217.5 1096.5,1218.3 1097.7,1216.9 1098.9,1216.8 1100.1,1217.2 1101.4,1218.9 1102.6,1217.6 1103.8,1217.7 1105,1219.1 1106.2,1219.5 1107.5,1220.9 1108.7,1221 1109.9,1220.8 1111.1,1220.9 1112.3,1219.3 1113.6,1218.4 1114.8,1218.2 1116,1217.4 1117.2,1217.3 1118.4,1217.1 1119.7,1217.1 1120.9,1219 1122.1,1219.5 1123.3,1220.7 1124.5,1220.5 1125.8,1219.7 1127,1219.8 1128.2,1220.7 1129.4,1222 1130.6,1221.9 1131.9,1220.2 1133.1,1220.2 1134.3,1218.3 1135.5,1217.2 1136.8,1220.4 1138,1219.2 1139.2,1221.7 1140.4,1224 1141.6,1223.1 1142.9,1223.6 1144.1,1222.3 1145.3,1223.8 1146.5,1226.3 1147.7,1227.3 1149,1225.9 1150.2,1227.8 1151.4,1228.9 1152.6,1227.2 1153.8,1224.9 1155.1,1223.9 1156.3,1223 1157.5,1221.7 1158.7,1219.5 1159.9,1219.7 1161.2,1218.8 1162.4,1219.1 1163.6,1218.3 1164.8,1218 1166,1216.8 1167.3,1216.4 1168.5,1215.1 1169.7,1214.4 1170.9,1215.7 1172.1,1215.5 1173.4,1215.1 1174.6,1216.3 1175.8,1215 1177,1215.1 1178.2,1212.1 1179.5,1213 1180.7,1215.5 1181.9,1211.6 1183.1,1212.1 1184.3,1212.8 1185.6,1215.5 1186.8,1216 1188,1216.6 1189.2,1218.1 1190.4,1220.5 1191.7,1219 1192.9,1219.1 1194.1,1217.3 1195.3,1217.2 1196.5,1217.8 1197.8,1216.2 1199,1217.3 1200.2,1219.1 1201.4,1217.7 1202.6,1218.8 1203.9,1219.5 1205.1,1219.9 1206.3,1220.7 1207.5,1220.9 1208.7,1222.1 1210,1222.8 1211.2,1224.4 1212.4,1225.5 1213.6,1227 1214.9,1227 1216.1,1223 1217.3,1221 1218.5,1219.1 1219.7,1216.9 1221,1214.2 1222.2,1211.5 1223.4,1209.6 1224.6,1208.3 1225.8,1208 1227.1,1208 1228.3,1209 1229.5,1207.3 1230.7,1207.9 1231.9,1206.6 1233.2,1207.3 1234.4,1206.9 1235.6,1206.2 1236.8,1204.8 1238,1203.6 1239.3,1203.4 1240.5,1202.6 1241.7,1203.1 1242.9,1204.1 1244.1,1204.8 1245.4,1204.8 1246.6,1206.5 1247.8,1206.6 1249,1207 1250.2,1208.3 1251.5,1207.5 1252.7,1206.7 1253.9,1205.2 1255.1,1205.1 1256.3,1204.3 1257.6,1204.9 1258.8,1206.3 1260,1205.8 1261.2,1205.8 1262.4,1205.9 1263.7,1207.7 1264.9,1207.9 1266.1,1209.1 1267.3,1210.1 1268.5,1211.7 1269.8,1212.8 1271,1211.3 1272.2,1211.8 1273.4,1213.1 1274.6,1208.8 1275.9,1209.1 1277.1,1208.7 1278.3,1209 1279.5,1209.4 1280.7,1210 1282,1209.7 1283.2,1210 1284.4,1209.5 1285.6,1209.5 1286.9,1208.8 1288.1,1209.6 1289.3,1209.3 1290.5,1208.3 1291.7,1206.9 1293,1205.5 1294.2,1205.4 1295.4,1206.8 1296.6,1209.1 1297.8,1209.6 1299.1,1209.8 1300.3,1208.9 1301.5,1207.6 1302.7,1206.4 1303.9,1205.4 1305.2,1204.2 1306.4,1203.6 1307.6,1202.8 1308.8,1202.4 1310,1200.4 1311.3,1200.3 1312.5,1198.7 1313.7,1197.8 1314.9,1196.3 1316.1,1195.6 1317.4,1196.5 1318.6,1194.7 1319.8,1192.4 1321,1194.2 1322.2,1193.5 1323.5,1193.9 1324.7,1194.8 1325.9,1196.1 1327.1,1196.7 1328.3,1198 1329.6,1198.4 1330.8,1198.5 1332,1198.1 1333.2,1198.2 1334.4,1199.3 1335.7,1200.2 1336.9,1201.2 1338.1,1202.2 1339.3,1203.2 1340.5,1204.8 1341.8,1204.8 1343,1205.6 1344.2,1205.7 1345.4,1206.5 1346.6,1206.6 1347.9,1208 1349.1,1208.3 1350.3,1208.5 1351.5,1208 1352.7,1207.8 1354,1207.7 1355.2,1208.4 1356.4,1209.2 1357.6,1209.9 1358.9,1210.8 1360.1,1213.4 1361.3,1212.3 1362.5,1212.5 1363.7,1214.3 1365,1214.6 1366.2,1216.1 1367.4,1218.2 1368.6,1217 1369.8,1216.2 1371.1,1212.3 1372.3,1210.9 1373.5,1209.5 1374.7,1209 1375.9,1207.5 1377.2,1206.3 1378.4,1205 1379.6,1204 1380.8,1202.7 1382,1202.7 1383.3,1202.3 1384.5,1203.7 1385.7,1203.3 1386.9,1201.6 1388.1,1202.4 1389.4,1201.9 1390.6,1202.5 1391.8,1203 1393,1204 1394.2,1203.7 1395.5,1204.8 1396.7,1205.7 1397.9,1206 1399.1,1206.6 1400.3,1207.7 1401.6,1208 1402.8,1209.5 1404,1209.9 1405.2,1210.9 1406.4,1211.8 1407.7,1212.5 1408.9,1213.5 1410.1,1214.4 1411.3,1215.5 1412.5,1216 1413.8,1216.6 1415,1216.6 1416.2,1216.5 1417.4,1217.3 1418.6,1215 1419.9,1215.7 1421.1,1216 1422.3,1214.9 1423.5,1216.2 1424.7,1217.1 1426,1216 1427.2,1216.9 1428.4,1215.8 1429.6,1215.6 1430.9,1215.2 1432.1,1214.1 1433.3,1213.5 1434.5,1212.5 1435.7,1212.6 1437,1214.9 1438.2,1215.4 1439.4,1216.1 1440.6,1215.7 1441.8,1215.9 1443.1,1216.5 1444.3,1216.3 1445.5,1215.5 1446.7,1215.6 1447.9,1215.5 1449.2,1216.5 1450.4,1216.6 1451.6,1215.9 1452.8,1216.8 1454,1217.3 1455.3,1217.1 1456.5,1218.7 1457.7,1217.6 1458.9,1218.4 1460.1,1219.4 1461.4,1219.7 1462.6,1221.6 1463.8,1221.6 1465,1223.9 1466.2,1226 1467.5,1225.9 1468.7,1225.5 1469.9,1225.3 1471.1,1223.9 1472.3,1224.2 1473.6,1224.8 1474.8,1224.3 1476,1223.8 1477.2,1225.4 1478.4,1224.5 1479.7,1224.2 1480.9,1223.6 1482.1,1222.7 1483.3,1221.1 1484.5,1219.4 1485.8,1219.7 1487,1218.5 1488.2,1218.6 1489.4,1218.5 1490.6,1217.5 1491.9,1217.1 1493.1,1218.2 1494.3,1216 1495.5,1212.6 1496.7,1213.9 1498,1214.6 1499.2,1215.5 1500.4,1214.7 1501.6,1215.6 1502.8,1215.9 1504.1,1214.2 1505.3,1215.2 1506.5,1214.6 1507.7,1212.9 1509,1215 1510.2,1215.1 1511.4,1213.1 1512.6,1213.8 1513.8,1212.1 1515.1,1214.2 1516.3,1214.4 1517.5,1215.1 1518.7,1215.3 1519.9,1215.5 1521.2,1216.6 1522.4,1216.9 1523.6,1215.2 1524.8,1216.9 1526,1215.2 1527.3,1213.7 1528.5,1214.2 1529.7,1214 1530.9,1213.5 1532.1,1214.5 1533.4,1212.9 1534.6,1212.6 1535.8,1213.8 1537,1212.2 1538.2,1210.9 1539.5,1210 1540.7,1210.5 1541.9,1209.9 1543.1,1208 1544.3,1209.4 1545.6,1210.1 1546.8,1211.8 1548,1212.5 1549.2,1214.2 1550.4,1215 1551.7,1215.3 1552.9,1215.6 1554.1,1216.3 1555.3,1215.8 1556.5,1216.9 1557.8,1216.4 1559,1217.3 1560.2,1218.3 1561.4,1217.8 1562.6,1219.4 1563.9,1218.5 1565.1,1219.2 1566.3,1217.2 1567.5,1219.4 1568.7,1219.3 1570,1219 1571.2,1219.1 1572.4,1219.1 1573.6,1219 1574.8,1217.9 1576.1,1217.5 1577.3,1216.5 1578.5,1216.8 1579.7,1216.3 1581,1216.2 1582.2,1215.7 1583.4,1213.8 1584.6,1213.8 1585.8,1212.1 1587.1,1212 1588.3,1213.3 1589.5,1214.7 1590.7,1216.1 1591.9,1218 1593.2,1218.8 1594.4,1220.4 1595.6,1219.9 1596.8,1220.7 1598,1220.1 1599.3,1218.1 1600.5,1219.8 1601.7,1220 1602.9,1220.2 1604.1,1221 1605.4,1220.7 1606.6,1218.1 1607.8,1216.8 1609,1217.2 1610.2,1214.5 1611.5,1214.5 1612.7,1216.4 1613.9,1218 1615.1,1217.8 1616.3,1217.7 1617.6,1218.6 1618.8,1217.1 1620,1216.7 1621.2,1218.5 1622.4,1217.9 1623.7,1216.7 1624.9,1216.3 1626.1,1217.9 1627.3,1217.7 1628.5,1217.3 1629.8,1216.6 1631,1215.2 1632.2,1213.6 1633.4,1213.9 1634.6,1213.2 1635.9,1211.1 1637.1,1210.6 1638.3,1209.3 1639.5,1208.8 1640.7,1208.2 1642,1207.4 1643.2,1207.1 1644.4,1206.5 1645.6,1203.3 1646.8,1203.1 1648.1,1204.7 1649.3,1207.1 1650.5,1207.7 1651.7,1208.3 1653,1209.3 1654.2,1211.2 1655.4,1212.3 1656.6,1213.6 1657.8,1214.5 1659.1,1215.7 1660.3,1216.1 1661.5,1217.2 1662.7,1217.4 1663.9,1218.8 1665.2,1219.3 1666.4,1219.9 1667.6,1220.9 1668.8,1220.2 1670,1221.4 1671.3,1221.6 1672.5,1222.6 1673.7,1222.1 1674.9,1224.1 1676.1,1223.1 1677.4,1221.7 1678.6,1222.2 1679.8,1221 1681,1222.4 1682.2,1220.5 1683.5,1220.4 1684.7,1220.1 1685.9,1220.6 1687.1,1221.4 1688.3,1222.7 1689.6,1221.5 1690.8,1221.1 1692,1223.4 1693.2,1226.2 1694.4,1223.1 1695.7,1221.9 1696.9,1225 1698.1,1223.1 1699.3,1221.3 1700.5,1220.9 1701.8,1221.4 1703,1222 1704.2,1222.8 1705.4,1222.9 1706.6,1225.6 1707.9,1225.1 1709.1,1226.8 1710.3,1223 1711.5,1224.9 1712.7,1224 1714,1221.6 1715.2,1224.1 1716.4,1223.6 1717.6,1223.3 1718.8,1223.4 1720.1,1222.6 1721.3,1223.2 1722.5,1222.2 1723.7,1221.4 1725,1219.1 1726.2,1219.9 1727.4,1218.7 1728.6,1221.4 1729.8,1222 1731.1,1221.9 1732.3,1222 1733.5,1224 1734.7,1224.8 1735.9,1226.5 1737.2,1226.5 1738.4,1226.7 1739.6,1225.8 1740.8,1224.4 1742,1221.7 1743.3,1220.8 1744.5,1221.8 1745.7,1222.1 1746.9,1221.3 1748.1,1222.9 1749.4,1222 1750.6,1226.3 1751.8,1226.7 1753,1226 1754.2,1226.9 1755.5,1227.2 1756.7,1226.9 1757.9,1227.5 1759.1,1224.2 1760.3,1224.1 1761.6,1221.2 1762.8,1220.7 1764,1224.6 1765.2,1224.1 1766.4,1225.7 1767.7,1224.3 1768.9,1226.3 1770.1,1223.4 1771.3,1227.2 1772.5,1223.9 1773.8,1224.6 1775,1223.8 1776.2,1221.5 1777.4,1222.9 1778.6,1222.8 1779.9,1224.8 1781.1,1224.6 1782.3,1225.5 1783.5,1226.7 1784.7,1228 1786,1227.2 1787.2,1226.6 1788.4,1226.6 1789.6,1222.6 1790.8,1223.7 1792.1,1223.4 1793.3,1224.6 1794.5,1226.5 1795.7,1227.2 1797,1224.9 1798.2,1222.2 1799.4,1220.3 1800.6,1218.8 1801.8,1218.3 1803.1,1217.4 1804.3,1217.2 1805.5,1216.5 1806.7,1215.8 1807.9,1215.3 1809.2,1214.5 1810.4,1214 1811.6,1213.3 1812.8,1212.9 1814,1215.2 1815.3,1215.3 1816.5,1217.5 1817.7,1213.9 1818.9,1213.3 1820.1,1213.1 1821.4,1212.9 1822.6,1212.2 1823.8,1213.1 1825,1212.1 1826.2,1214.4 1827.5,1214.3 1828.7,1215.9 1829.9,1214.6 1831.1,1213.4 1832.3,1216.4 1833.6,1217.3 1834.8,1217.1 1836,1216.8 1837.2,1217.5 1838.4,1215 1839.7,1215.3 1840.9,1214.3 1842.1,1215.8 1843.3,1216.2 1844.5,1214.6 1845.8,1215.9 1847,1217.8 1848.2,1218.3 1849.4,1219.5 1850.6,1218.2 1851.9,1219.7 1853.1,1218.7 1854.3,1218 1855.5,1217.8 1856.7,1217.5 1858,1217.4 1859.2,1217.8 1860.4,1219.7 1861.6,1221.1 1862.8,1223.1 1864.1,1220.7 1865.3,1220.4 1866.5,1219.4 1867.7,1220.4 1868.9,1220.5 1870.2,1221.8 1871.4,1223.3 1872.6,1222.7 1873.8,1221.3 1875.1,1221.1 1876.3,1223.3 1877.5,1224.6 1878.7,1225.3 1879.9,1229.6 1881.2,1229.5 1882.4,1226.3 1883.6,1226.2 1884.8,1224.7 1886,1223.7 1887.3,1226.1 1888.5,1224.5 1889.7,1225.8 1890.9,1227.5 1892.1,1226.5 1893.4,1225.3 1894.6,1226.8 1895.8,1224.9 1897,1224.4 1898.2,1222.2 1899.5,1221.2 1900.7,1222.6 1901.9,1222.8 1903.1,1221.9 1904.3,1222.7 1905.6,1221.3 1906.8,1219.5 1908,1218.4 1909.2,1218.5 1910.4,1218 1911.7,1219.3 1912.9,1221.6 1914.1,1222 1915.3,1222.8 1916.5,1224.7 1917.8,1223.8 1919,1222.5 1920.2,1217.6 1921.4,1217.9 1922.6,1213.5 1923.9,1214.4 1925.1,1215 1926.3,1214.8 1927.5,1215.4 1928.7,1214.8 1930,1214.7 1931.2,1215.9 1932.4,1215.9 1933.6,1215.1 1934.8,1216.7 1936.1,1217 1937.3,1215.6 1938.5,1216.6 1939.7,1216.7 1940.9,1214.9 1942.2,1213.8 1943.4,1214.5 1944.6,1211.6 1945.8,1210 1947.1,1214.1 1948.3,1212.8 1949.5,1213.3 1950.7,1214.8 1951.9,1214.3 1953.2,1214.1 1954.4,1214.7 1955.6,1214.6 1956.8,1213.9 1958,1215.5 1959.3,1215.9 1960.5,1216.6 1961.7,1217.4 1962.9,1217.1 1964.1,1216.6 1965.4,1217.2 1966.6,1217.8 1967.8,1218 1969,1220.5 1970.2,1221.1 1971.5,1223.5 1972.7,1224.6 1973.9,1225.1 1975.1,1223.2 1976.3,1223 1977.6,1220.5 1978.8,1222.2 1980,1222.5 1981.2,1222.4 1982.4,1223.4 1983.7,1223.5 1984.9,1223.2 1986.1,1221.9 1987.3,1222.8 1988.5,1224.8 1989.8,1221.7 1991,1221.5 1992.2,1222.1 1993.4,1224 1994.6,1224 1995.9,1224.3 1997.1,1224.5 1998.3,1224.2 1999.5,1221.8 2000.7,1224.7 2002,1222.8 2003.2,1223.7 2004.4,1224 2005.6,1225.4 2006.8,1227.8 2008.1,1229.4 2009.3,1228.8 2010.5,1229.1 2011.7,1227 2012.9,1225.9 2014.2,1225.8 2015.4,1224.3 2016.6,1224.2 2017.8,1223.4 2019.1,1225.8 2020.3,1226.1 2021.5,1225.9 2022.7,1225.4 2023.9,1226.5 2025.2,1225.1 2026.4,1221.2 2027.6,1224.9 2028.8,1222.8 2030,1223.4 2031.3,1222.7 2032.5,1225.1 2033.7,1225.1 2034.9,1224.9 2036.1,1222.5 2037.4,1223.7 2038.6,1224.1 2039.8,1224.4 2041,1221.5 2042.2,1220.9 2043.5,1221.9 2044.7,1221.6 2045.9,1224.7 2047.1,1224.4 2048.3,1226.7 2049.6,1225.9 2050.8,1227.2 2052,1227.1" fill="none" stroke="#2054a6" stroke-width="4.2" stroke-linejoin="round"/>
<polygon points="240.2,182.9 236,188.9 227.7,188.9 231.9,195 227.7,201 236,201.1 240.2,207.1 244.4,201.1 252.7,201.1 248.5,195 252.7,188.9 244.4,188.9" fill="none" stroke="#2054a6" stroke-width="4.6" stroke-linejoin="miter" stroke-miterlimit="10"/>
<polygon points="413.8,752.4 409.6,758.5 401.3,758.5 405.4,764.5 401.3,770.5 409.6,770.5 413.8,776.6 417.9,770.5 426.2,770.5 422.1,764.5 426.2,758.5 417.9,758.5" fill="none" stroke="#2054a6" stroke-width="4.6" stroke-linejoin="miter" stroke-miterlimit="10"/>
<polygon points="585.5,1072.9 581.3,1079 573,1079 577.2,1085 573,1091 581.3,1091 585.5,1097.1 589.7,1091 598,1091 593.8,1085 598,1079 589.7,1079" fill="none" stroke="#2054a6" stroke-width="4.6" stroke-linejoin="miter" stroke-miterlimit="10"/>
<polygon points="759.5,1197.9 755.3,1204 747,1204 751.2,1210 747,1216 755.3,1216 759.5,1222.1 763.7,1216 772,1216 767.8,1210 772,1204 763.7,1204" fill="none" stroke="#2054a6" stroke-width="4.6" stroke-linejoin="miter" stroke-miterlimit="10"/>
<polygon points="933.2,1199.2 929.1,1205.2 920.8,1205.2 924.9,1211.2 920.8,1217.3 929.1,1217.3 933.2,1223.3 937.4,1217.3 945.7,1217.3 941.6,1211.2 945.7,1205.2 937.4,1205.2" fill="none" stroke="#2054a6" stroke-width="4.6" stroke-linejoin="miter" stroke-miterlimit="10"/>
<polygon points="1105,1203.4 1100.8,1209.5 1092.5,1209.5 1096.7,1215.5 1092.5,1221.5 1100.8,1221.5 1105,1227.6 1109.2,1221.5 1117.5,1221.5 1113.3,1215.5 1117.5,1209.5 1109.2,1209.5" fill="none" stroke="#2054a6" stroke-width="4.6" stroke-linejoin="miter" stroke-miterlimit="10"/>
<polygon points="1278.8,1198.9 1274.6,1205 1266.3,1205 1270.4,1211 1266.3,1217 1274.6,1217 1278.8,1223.1 1282.9,1217 1291.2,1217 1287.1,1211 1291.2,1205 1282.9,1205" fill="none" stroke="#2054a6" stroke-width="4.6" stroke-linejoin="miter" stroke-miterlimit="10"/>
<polygon points="1450.5,1210.2 1446.3,1216.2 1438,1216.2 1442.2,1222.3 1438,1228.3 1446.3,1228.3 1450.5,1234.4 1454.7,1228.3 1463,1228.3 1458.8,1222.3 1463,1216.2 1454.7,1216.2" fill="none" stroke="#2054a6" stroke-width="4.6" stroke-linejoin="miter" stroke-miterlimit="10"/>
<polygon points="1624.3,1208.9 1620.1,1215 1611.8,1215 1616,1221 1611.8,1227 1620.1,1227 1624.3,1233.1 1628.5,1227 1636.8,1227 1632.6,1221 1636.8,1215 1628.5,1215" fill="none" stroke="#2054a6" stroke-width="4.6" stroke-linejoin="miter" stroke-miterlimit="10"/>
<polygon points="1796,1207.9 1791.8,1214 1783.5,1214 1787.7,1220 1783.5,1226 1791.8,1226 1796,1232.1 1800.2,1226 1808.5,1226 1804.3,1220 1808.5,1214 1800.2,1214" fill="none" stroke="#2054a6" stroke-width="4.6" stroke-linejoin="miter" stroke-miterlimit="10"/>
<polygon points="1970,1207.9 1965.8,1214 1957.5,1214 1961.7,1220 1957.5,1226 1965.8,1226 1970,1232.1 1974.2,1226 1982.5,1226 1978.3,1220 1982.5,1214 1974.2,1214" fill="none" stroke="#2054a6" stroke-width="4.6" stroke-linejoin="miter" stroke-miterlimit="10"/>
<path d="M222.7,117.1 223.9,121.2 225.2,125.6 226.4,130.2 227.6,135 228.8,139.9 230,145.2 231.3,150.4 232.5,155.8 233.7,161.6 234.9,167.3 236.1,173.1 237.4,179 238.6,185.3 239.8,191.5 241,197.2 242.2,203.8 243.5,210.9 244.7,218 245.9,226.4 247.1,233.2 248.3,240.4 249.6,247.4 250.8,254.2 252,261 253.2,268 254.4,274.1 255.7,280.8 256.9,286.6 258.1,292.8 259.3,299.5 260.6,306.6 261.8,312 263,317.5 264.2,322.2 265.4,328.5 266.7,334.4 267.9,339.8 269.1,345 270.3,351.7 271.5,356.1 272.8,361 274,367 275.2,373 276.4,378.4 277.6,384.2 278.9,386.8 280.1,393 281.3,399.1 282.5,404.1 283.7,410.5 285,415.8 286.2,419.7 287.4,426 288.6,431.2 289.8,436 291.1,440.8 292.3,446.6 293.5,451.3 294.7,457.2 295.9,460.5 297.2,468.7 298.4,471.1 299.6,477.7 300.8,482.2 302,487.7 303.3,493.3 304.5,498.5 305.7,502.3 306.9,506.4 308.1,511.7 309.4,516.5 310.6,521.8 311.8,525.5 313,530.7 314.2,535.7 315.5,539.7 316.7,545.7 317.9,549.1 319.1,552.7 320.3,556.7 321.6,562.3 322.8,565.3 324,571.6 325.2,574.6 326.4,580.4 327.7,584.4 328.9,589.4 330.1,593 331.3,595.5 332.6,601.9 333.8,606.7 335,609.2 336.2,612.5 337.4,621.9 338.7,622.3 339.9,626.4 341.1,630.3 342.3,635.2 343.5,640.6 344.8,645.5 346,646.9 347.2,652.3 348.4,657.5 349.6,661.9 350.9,663.6 352.1,668.7 353.3,674.3 354.5,676.9 355.7,680.7 357,685.2 358.2,689.3 359.4,692.1 360.6,696.6 361.8,701.6 363.1,705.8 364.3,708 365.5,711.5 366.7,716.7 367.9,720.2 369.2,721.8 370.4,729.4 371.6,732.4 372.8,736.1 374,741.3 375.3,741.6 376.5,747.8 377.7,751.2 378.9,754.8 380.1,757.4 381.4,762 382.6,763.8 383.8,768.9 385,770.4 386.2,776.8 387.5,780.3 388.7,784.5 389.9,787.9 391.1,793.6 392.3,795.6 393.6,798.3 394.8,802.7 396,804.2 397.2,809.8 398.4,811.7 399.7,816.3 400.9,819.7 402.1,822.3 403.3,826.8 404.5,828.8 405.8,832.3 407,835.7 408.2,839.7 409.4,843.4 410.7,846.7 411.9,851.4 413.1,853.2 414.3,855.6 415.5,862.7 416.8,864.8 418,866.8 419.2,868.1 420.4,873.9 421.6,878.3 422.9,882.1 424.1,885.1 425.3,888.1 426.5,891.5 427.7,895.9 429,897.8 430.2,902.9 431.4,905.2 432.6,908.1 433.8,913.9 435.1,914.9 436.3,918.4 437.5,923.7 438.7,928.3 439.9,928 441.2,931 442.4,934.8 443.6,939.3 444.8,942.3 446,946.2 447.3,947.1 448.5,951.6 449.7,955.8 450.9,956 452.1,959.9 453.4,963.4 454.6,967.4 455.8,970.5 457,974.6 458.2,975.9 459.5,982.4 460.7,982.2 461.9,985.6 463.1,988.7 464.3,991.1 465.6,995.7 466.8,999.3 468,999.5 469.2,1004 470.4,1006.7 471.7,1009.2 472.9,1011.6 474.1,1014.6 475.3,1016.2 476.5,1019.5 477.8,1023.1 479,1026.6 480.2,1029.2 481.4,1032.3 482.7,1034.7 483.9,1034.7 485.1,1041.2 486.3,1043.5 487.5,1045.1 488.8,1046.3 490,1049.7 491.2,1050.1 492.4,1054.4 493.6,1059.1 494.9,1060 496.1,1060.7 497.3,1063.2 498.5,1068.2 499.7,1068.5 501,1071.9 502.2,1073.6 503.4,1073.9 504.6,1077.6 505.8,1081 507.1,1082.9 508.3,1087.2 509.5,1089.1 510.7,1089.8 511.9,1093.3 513.2,1094 514.4,1098.8 515.6,1098.2 516.8,1101.3 518,1102.5 519.3,1105.6 520.5,1107 521.7,1109.8 522.9,1111.4 524.1,1114.2 525.4,1116.9 526.6,1117.9 527.8,1120.8 529,1121.8 530.2,1125.2 531.5,1125.2 532.7,1126.5 533.9,1128.7 535.1,1133.7 536.3,1134.2 537.6,1133.9 538.8,1135.8 540,1138.6 541.2,1139.6 542.4,1139.1 543.7,1144.2 544.9,1144 546.1,1143.9 547.3,1147.7 548.5,1147.9 549.8,1148.1 551,1150.5 552.2,1153 553.4,1155.4 554.7,1155.6 555.9,1158.1 557.1,1158.1 558.3,1160.8 559.5,1161.5 560.8,1164.1" fill="none" stroke="#231f20" stroke-width="4.2" stroke-linejoin="round" stroke-dasharray="26 12" shape-rendering="geometricPrecision"/>
<path d="M560.8,1164.1 562,1166.6 563.2,1169.3 564.4,1170 565.6,1171.3 566.9,1175.5 568.1,1175 569.3,1178.1 570.5,1178.9 571.7,1178.3 573,1181.2 574.2,1181.6 575.4,1181.5 576.6,1181.7 577.8,1181.6 579.1,1182 580.3,1183.9 581.5,1187.3 582.7,1190.7 583.9,1193.1 585.2,1193.8 586.4,1199.7 587.6,1195.7 588.8,1194.6 590,1197.5 591.3,1192.3 592.5,1193.7 593.7,1196.7 594.9,1194.3 596.1,1198.3 597.4,1198.3 598.6,1199.9 599.8,1194.2 601,1193.2 602.2,1191.9 603.5,1192.6 604.7,1195.5 605.9,1194.8 607.1,1197.1 608.3,1197 609.6,1198.5 610.8,1199 612,1198 613.2,1198.3 614.4,1198.2 615.7,1202.7 616.9,1201.6 618.1,1203 619.3,1203.1 620.5,1203.7 621.8,1207.8 623,1206.5 624.2,1207.2 625.4,1210.4 626.7,1209.6 627.9,1212.2 629.1,1210.3 630.3,1207.7 631.5,1206.8 632.8,1206.8 634,1201.1 635.2,1210.2 636.4,1204.8 637.6,1206.2 638.9,1197 640.1,1201.9 641.3,1203.3 642.5,1206.9 643.7,1205.5 645,1203.3 646.2,1211 647.4,1211 648.6,1212.7 649.8,1214 651.1,1214.9 652.3,1217.8 653.5,1217.4 654.7,1218.5 655.9,1223.7 657.2,1223.3 658.4,1224.6 659.6,1226.1 660.8,1227.9 662,1230.5 663.3,1228 664.5,1226.8 665.7,1231.8 666.9,1230.3 668.1,1226.8 669.4,1223.3 670.6,1221.8 671.8,1219.4 673,1217.4 674.2,1214 675.5,1215.5 676.7,1211.7 677.9,1209.3 679.1,1210.1 680.3,1210.3 681.6,1208.4 682.8,1210.4 684,1214.2 685.2,1213.1 686.4,1216.6 687.7,1217.8 688.9,1217.1 690.1,1217.5 691.3,1220.9 692.5,1224.5 693.8,1223.8 695,1228.3 696.2,1225.8 697.4,1230.4 698.7,1230.7 699.9,1232.1 701.1,1233.1 702.3,1235.5 703.5,1234.3 704.8,1238.4 706,1236.1 707.2,1240.1 708.4,1239.9 709.6,1237.2 710.9,1243.2 712.1,1236.8 713.3,1238.4 714.5,1251.8 715.7,1238.5 717,1238 718.2,1234.9 719.4,1232.4 720.6,1231.3 721.8,1231.4 723.1,1227.1 724.3,1225.3 725.5,1225.5 726.7,1223.6 727.9,1223.4 729.2,1223.4 730.4,1219.4 731.6,1219.4 732.8,1218.6 734,1217.8 735.3,1224.4 736.5,1220.5 737.7,1219.7 738.9,1219.2 740.1,1222.4 741.4,1222.6 742.6,1223.9 743.8,1223.7 745,1224.3 746.2,1226.8 747.5,1227.3 748.7,1227.5 749.9,1228.6 751.1,1228.6 752.3,1227.6 753.6,1231.2 754.8,1232.3 756,1235.1 757.2,1234.1 758.4,1232.5 759.7,1232.7 760.9,1232.9 762.1,1234.9 763.3,1236.4 764.5,1235.2 765.8,1238.4 767,1238.9 768.2,1242.2 769.4,1242.6 770.6,1246.2 771.9,1246.1 773.1,1249.9 774.3,1249 775.5,1251.2 776.8,1256 778,1255.3 779.2,1249.4 780.4,1247.8 781.6,1247.2 782.9,1246.5 784.1,1245 785.3,1242.2 786.5,1241.9 787.7,1241.2 789,1240.6 790.2,1242.8 791.4,1243.1 792.6,1244.2 793.8,1248.4 795.1,1241.9 796.3,1247.6 797.5,1246.5 798.7,1249.7 799.9,1242.5 801.2,1243.8 802.4,1236 803.6,1231.5 804.8,1235.3 806,1233.6 807.3,1231.6 808.5,1234.4 809.7,1232.4 810.9,1230.5 812.1,1230.5 813.4,1230.3 814.6,1228.4 815.8,1228.1 817,1224.5 818.2,1222.2 819.5,1225.1 820.7,1225.9 821.9,1225.8 823.1,1228.6 824.3,1235.3 825.6,1234.1 826.8,1239.8 828,1239.3 829.2,1241.2 830.4,1243.2 831.7,1244.9 832.9,1240.7 834.1,1246.3 835.3,1247.8 836.5,1246.1 837.8,1247.2 839,1247.4 840.2,1251 841.4,1257.8 842.6,1257.2 843.9,1252 845.1,1248.5 846.3,1247.8 847.5,1249.6 848.8,1244.8 850,1245.4 851.2,1244.8 852.4,1242.3 853.6,1244.3 854.9,1245.2 856.1,1250.8 857.3,1249.1 858.5,1248.9 859.7,1245.8 861,1244.4 862.2,1244.2 863.4,1247.3 864.6,1246.9 865.8,1246.5 867.1,1250.7 868.3,1247.8 869.5,1256.4 870.7,1247.5 871.9,1247.3 873.2,1247.7 874.4,1243.5 875.6,1243.2 876.8,1240.9 878,1240.3 879.3,1237.4 880.5,1238.6 881.7,1240.7 882.9,1240.3 884.1,1242 885.4,1244.4 886.6,1245.4 887.8,1247.1 889,1248.7 890.2,1248 891.5,1250.9 892.7,1253.7 893.9,1247.5 895.1,1249.8 896.3,1246.5 897.6,1248.3 898.8,1245.3 900,1244.9 901.2,1243 902.4,1241.6 903.7,1239.7 904.9,1234.3 906.1,1241 907.3,1244.7 908.5,1245.1 909.8,1247.5 911,1251 912.2,1253.1 913.4,1253.4 914.6,1253.1 915.9,1252.2 917.1,1251.7 918.3,1251 919.5,1252.6 920.8,1249.9 922,1250.1 923.2,1250 924.4,1249.7 925.6,1248.8 926.9,1247.5 928.1,1244.1 929.3,1243.8 930.5,1244.2 931.7,1241.4 933,1240 934.2,1237.4 935.4,1237.1 936.6,1237.9 937.8,1238.5 939.1,1239.3 940.3,1240.5 941.5,1238.9 942.7,1239.3 943.9,1234.6 945.2,1240 946.4,1233.8 947.6,1234.6 948.8,1234.2 950,1237.2 951.3,1233.2 952.5,1233.6 953.7,1236.3 954.9,1232.2 956.1,1231.6 957.4,1234.5 958.6,1240.7 959.8,1235.6 961,1237.6 962.2,1239.4 963.5,1232.8 964.7,1232 965.9,1235.5 967.1,1236 968.3,1237.9 969.6,1239.4 970.8,1238.9 972,1241.2 973.2,1242.1 974.4,1242.6 975.7,1243.6 976.9,1247.6 978.1,1245.3 979.3,1248.3 980.5,1250.9 981.8,1252.4 983,1246.2 984.2,1241.3 985.4,1242.7 986.6,1239.7 987.9,1237 989.1,1236.1 990.3,1243.8 991.5,1249.5 992.8,1244.7 994,1250 995.2,1248.2 996.4,1251 997.6,1243.2 998.9,1245.2 1000.1,1241.9 1001.3,1252.2 1002.5,1245.6 1003.7,1248.2 1005,1248.2 1006.2,1253.2 1007.4,1249.8 1008.6,1252.7 1009.8,1243.9 1011.1,1247.7 1012.3,1245.6 1013.5,1245.8 1014.7,1251.9 1015.9,1241.3 1017.2,1239.4 1018.4,1242.9 1019.6,1240.4 1020.8,1245 1022,1237.7 1023.3,1239.8 1024.5,1241.3 1025.7,1245 1026.9,1247 1028.1,1245.5 1029.4,1243.1 1030.6,1248 1031.8,1242.2 1033,1245.7 1034.2,1240.9 1035.5,1235.3 1036.7,1240.6 1037.9,1241.6 1039.1,1234.8 1040.3,1240.1 1041.6,1240.1 1042.8,1243.4 1044,1244.2 1045.2,1243.3 1046.4,1240 1047.7,1241.6 1048.9,1236.3 1050.1,1236.9 1051.3,1238.3 1052.5,1235.4 1053.8,1236.7 1055,1235.1 1056.2,1235.2 1057.4,1234 1058.6,1235.3 1059.9,1234.7 1061.1,1236.5 1062.3,1233.3 1063.5,1233 1064.8,1232.5 1066,1231.9 1067.2,1233.1 1068.4,1231.5 1069.6,1229.3 1070.9,1232 1072.1,1230.9 1073.3,1228.2 1074.5,1228 1075.7,1228.5 1077,1226.9 1078.2,1225.2 1079.4,1223 1080.6,1223.1 1081.8,1225.8 1083.1,1221.8 1084.3,1225 1085.5,1224.6 1086.7,1223.2 1087.9,1224.7 1089.2,1224.3 1090.4,1222.1 1091.6,1225.8 1092.8,1224.6 1094,1224.8 1095.3,1226.1 1096.5,1230.4 1097.7,1230.3 1098.9,1228.2 1100.1,1234 1101.4,1233.8 1102.6,1234.6 1103.8,1234.4 1105,1235.9 1106.2,1238.8 1107.5,1239.1 1108.7,1237.1 1109.9,1236.7 1111.1,1238.8 1112.3,1241 1113.6,1241 1114.8,1240.2 1116,1243.8 1117.2,1244 1118.4,1241.9 1119.7,1242.7 1120.9,1245.1 1122.1,1244.1 1123.3,1243.5 1124.5,1245.2 1125.8,1247.7 1127,1244.8 1128.2,1246.8 1129.4,1251.2 1130.6,1247 1131.9,1245.5 1133.1,1240.2 1134.3,1235.2 1135.5,1226.9 1136.8,1224.2 1138,1222.7 1139.2,1213.6 1140.4,1215.3 1141.6,1218.2 1142.9,1224.2 1144.1,1227.9 1145.3,1221.4 1146.5,1226.7 1147.7,1230.1 1149,1227.8 1150.2,1228.4 1151.4,1226.2 1152.6,1225 1153.8,1227.1 1155.1,1226.9 1156.3,1231.7 1157.5,1229.7 1158.7,1232.9 1159.9,1235.1 1161.2,1234.5 1162.4,1234.9 1163.6,1236.2 1164.8,1237.8 1166,1241.3 1167.3,1236.6 1168.5,1236.7 1169.7,1229.9 1170.9,1230.7 1172.1,1226 1173.4,1232.3 1174.6,1229.8 1175.8,1232.5 1177,1232 1178.2,1230.3 1179.5,1236.2 1180.7,1233.1 1181.9,1232.6 1183.1,1231.5 1184.3,1229.5 1185.6,1228.6 1186.8,1227.5 1188,1226.7 1189.2,1227.5 1190.4,1227.1 1191.7,1228.3 1192.9,1227.8 1194.1,1225.6 1195.3,1223.2 1196.5,1228.2 1197.8,1225.4 1199,1225 1200.2,1227.9 1201.4,1228.9 1202.6,1230.9 1203.9,1234.3 1205.1,1237.9 1206.3,1239.1 1207.5,1245.6 1208.7,1248.3 1210,1244.4 1211.2,1248.5 1212.4,1245.4 1213.6,1241.4 1214.9,1237.5 1216.1,1233.4 1217.3,1231.6 1218.5,1227.5 1219.7,1222.2 1221,1222.2 1222.2,1217.8 1223.4,1227.3 1224.6,1224 1225.8,1224.9 1227.1,1224.7 1228.3,1223.3 1229.5,1224.1 1230.7,1225.9 1231.9,1228.4 1233.2,1227.7 1234.4,1228.5 1235.6,1228.2 1236.8,1227.6 1238,1230.2 1239.3,1231.5 1240.5,1233.5 1241.7,1232.5 1242.9,1237.4 1244.1,1239.6 1245.4,1241.1 1246.6,1242.8 1247.8,1243.7 1249,1243.7 1250.2,1248.6 1251.5,1247.5 1252.7,1247.1 1253.9,1251.7 1255.1,1249.1 1256.3,1252.8 1257.6,1256.3 1258.8,1259.7 1260,1253.1 1261.2,1257.5 1262.4,1258.7 1263.7,1258.9 1264.9,1259.4 1266.1,1256.8 1267.3,1254.4 1268.5,1260.7 1269.8,1258.7 1271,1256.7 1272.2,1263.3 1273.4,1254.2 1274.6,1254.7 1275.9,1257.5 1277.1,1250.8 1278.3,1252.6 1279.5,1250.1 1280.7,1254.3 1282,1259.1 1283.2,1252.4 1284.4,1256 1285.6,1254.6 1286.9,1253.1 1288.1,1252.7 1289.3,1248.9 1290.5,1249.8 1291.7,1249.5 1293,1248.4 1294.2,1247.1 1295.4,1247.3 1296.6,1243.9 1297.8,1246.6 1299.1,1243.2 1300.3,1244 1301.5,1239.3 1302.7,1233.4 1303.9,1226.4 1305.2,1222.6 1306.4,1230.2 1307.6,1227 1308.8,1232 1310,1233.2 1311.3,1233.8 1312.5,1234.9 1313.7,1231.5 1314.9,1232.8 1316.1,1224.6 1317.4,1223.2 1318.6,1220.7 1319.8,1227.5 1321,1229.9 1322.2,1228.4 1323.5,1223.5 1324.7,1225.5 1325.9,1222.4 1327.1,1233.5 1328.3,1220.6 1329.6,1231 1330.8,1221.9 1332,1222 1333.2,1222.1 1334.4,1224.2 1335.7,1226.4 1336.9,1219.6 1338.1,1217.6 1339.3,1220.9 1340.5,1216.8 1341.8,1228.8 1343,1223.5 1344.2,1225.9 1345.4,1221.7 1346.6,1224.3 1347.9,1228.6 1349.1,1232.9 1350.3,1221 1351.5,1227.5 1352.7,1228.7 1354,1226.9 1355.2,1230.9 1356.4,1227.1 1357.6,1223.7 1358.9,1231.4 1360.1,1233 1361.3,1224.7 1362.5,1226.1 1363.7,1222.1 1365,1224.7 1366.2,1229.6 1367.4,1217.7 1368.6,1224 1369.8,1222.3 1371.1,1223 1372.3,1224.8 1373.5,1229.6 1374.7,1227.2 1375.9,1224.6 1377.2,1220.6 1378.4,1230.9 1379.6,1223.8 1380.8,1230 1382,1227.6 1383.3,1222.7 1384.5,1223.8 1385.7,1220.8 1386.9,1220.2 1388.1,1225.3 1389.4,1221.7 1390.6,1225.9 1391.8,1232.3 1393,1235 1394.2,1235.5 1395.5,1236.8 1396.7,1239.6 1397.9,1238.9 1399.1,1229.9 1400.3,1239.7 1401.6,1234.3 1402.8,1225.6 1404,1231 1405.2,1230.1 1406.4,1226.8 1407.7,1226.5 1408.9,1229.3 1410.1,1225.7 1411.3,1232.4 1412.5,1227 1413.8,1233.4 1415,1241.7 1416.2,1237.3 1417.4,1237.8 1418.6,1240.7 1419.9,1241.9 1421.1,1244 1422.3,1245.3 1423.5,1246.9 1424.7,1241.9 1426,1242.3 1427.2,1231.5 1428.4,1238.3 1429.6,1237.9 1430.9,1238.8 1432.1,1233.7 1433.3,1237.2 1434.5,1239.9 1435.7,1241 1437,1242.5 1438.2,1241.9 1439.4,1242.5 1440.6,1243 1441.8,1241.2 1443.1,1242.4 1444.3,1244.4 1445.5,1244.4 1446.7,1247.1 1447.9,1245.1 1449.2,1241.4 1450.4,1245.1 1451.6,1246.8 1452.8,1247.7 1454,1246.1 1455.3,1245.4 1456.5,1253 1457.7,1246.4 1458.9,1242.4 1460.1,1242.4 1461.4,1244.3 1462.6,1240.9 1463.8,1241.6 1465,1240.3 1466.2,1240.9 1467.5,1241.9 1468.7,1238.6 1469.9,1240.5 1471.1,1239.1 1472.3,1243.2 1473.6,1238.1 1474.8,1239.1 1476,1242.7 1477.2,1244.1 1478.4,1238.3 1479.7,1243.1 1480.9,1233.7 1482.1,1236.4 1483.3,1235.9 1484.5,1237.1 1485.8,1239.1 1487,1237.3 1488.2,1237.7 1489.4,1238.6 1490.6,1231.5 1491.9,1233.9 1493.1,1229.1 1494.3,1232.8 1495.5,1229.8 1496.7,1230.5 1498,1237.5 1499.2,1233.5 1500.4,1229.5 1501.6,1233.6 1502.8,1228.9 1504.1,1232.3 1505.3,1233.6 1506.5,1228 1507.7,1231 1509,1230.1 1510.2,1224.5 1511.4,1226.1 1512.6,1229.6 1513.8,1219.4 1515.1,1215.9 1516.3,1224.6 1517.5,1223.8 1518.7,1225.5 1519.9,1232 1521.2,1222.9 1522.4,1228.1 1523.6,1224.2 1524.8,1224.4 1526,1220.4 1527.3,1229.7 1528.5,1223.3 1529.7,1229.8 1530.9,1228.7 1532.1,1233.3 1533.4,1233.8 1534.6,1231.5 1535.8,1233 1537,1229.2 1538.2,1232.4 1539.5,1233.6 1540.7,1231.6 1541.9,1223.6 1543.1,1235.2 1544.3,1230.6 1545.6,1233 1546.8,1228.6 1548,1235.4 1549.2,1237.3 1550.4,1235 1551.7,1232.8 1552.9,1239.5 1554.1,1236.3 1555.3,1233.2 1556.5,1238.2 1557.8,1239 1559,1237.1 1560.2,1244.1 1561.4,1235.2 1562.6,1238.8 1563.9,1234.2 1565.1,1235.5 1566.3,1229.8 1567.5,1235.7 1568.7,1230.2 1570,1229.3 1571.2,1233.9 1572.4,1228.6 1573.6,1239.3 1574.8,1237.8 1576.1,1231.7 1577.3,1237.5 1578.5,1232.8 1579.7,1228.4 1581,1225.3 1582.2,1230.5 1583.4,1235.6 1584.6,1240.5 1585.8,1239.1 1587.1,1237.1 1588.3,1227.6 1589.5,1231.2 1590.7,1230.4 1591.9,1237.4 1593.2,1232.9 1594.4,1232.9 1595.6,1235.3 1596.8,1236.5 1598,1240.8 1599.3,1233.5 1600.5,1235 1601.7,1251.1 1602.9,1242.3 1604.1,1242 1605.4,1236.2 1606.6,1239 1607.8,1236.5 1609,1232.2 1610.2,1237.7 1611.5,1237.4 1612.7,1237 1613.9,1239.4 1615.1,1238.2 1616.3,1237.7 1617.6,1237.3 1618.8,1239 1620,1235.2 1621.2,1240.6 1622.4,1237 1623.7,1242.6 1624.9,1242.3 1626.1,1235.1 1627.3,1239.4 1628.5,1238.5 1629.8,1235.8 1631,1234.9 1632.2,1236.2 1633.4,1235.8 1634.6,1236.3 1635.9,1234.5 1637.1,1232.4 1638.3,1239.2 1639.5,1240.6 1640.7,1239.7 1642,1237.5 1643.2,1241.9 1644.4,1236.7 1645.6,1237.7 1646.8,1235 1648.1,1233 1649.3,1228.7 1650.5,1230 1651.7,1234.3 1653,1231.4 1654.2,1230 1655.4,1230.6 1656.6,1229.1 1657.8,1230.4 1659.1,1225.8 1660.3,1232.7 1661.5,1229.2 1662.7,1228 1663.9,1230.5 1665.2,1230.8 1666.4,1225.6 1667.6,1223.6 1668.8,1223.8 1670,1230.1 1671.3,1231.8 1672.5,1231.3 1673.7,1233.3 1674.9,1234.6 1676.1,1234.5 1677.4,1234.7 1678.6,1235.1 1679.8,1233.9 1681,1236.7 1682.2,1233.7 1683.5,1234.9 1684.7,1235.8 1685.9,1237.5 1687.1,1234.7 1688.3,1231.9 1689.6,1235.8 1690.8,1233.4 1692,1239.7 1693.2,1240.4 1694.4,1242.1 1695.7,1247.3 1696.9,1245.3 1698.1,1243.7 1699.3,1240.9 1700.5,1244.2 1701.8,1239.2 1703,1235.5 1704.2,1240.2 1705.4,1243 1706.6,1239.1 1707.9,1241.8 1709.1,1225.9 1710.3,1237.8 1711.5,1233.7 1712.7,1228.2 1714,1235.6 1715.2,1236.1 1716.4,1232.1 1717.6,1230.6 1718.8,1233 1720.1,1232.4 1721.3,1229 1722.5,1232.2 1723.7,1232.9 1725,1234.7 1726.2,1233.9 1727.4,1239.3 1728.6,1233.7 1729.8,1236.2 1731.1,1237.6 1732.3,1232.4 1733.5,1233.9 1734.7,1236.4 1735.9,1236.4 1737.2,1241 1738.4,1236.9 1739.6,1241.1 1740.8,1231.8 1742,1234.1 1743.3,1233.8 1744.5,1239.8 1745.7,1234.9 1746.9,1232 1748.1,1230.5 1749.4,1228.8 1750.6,1231.7 1751.8,1232.5 1753,1229.5 1754.2,1230.4 1755.5,1230.9 1756.7,1223.9 1757.9,1226.2 1759.1,1229.5 1760.3,1228 1761.6,1223.1 1762.8,1230.7 1764,1228.2 1765.2,1231.9 1766.4,1233.3 1767.7,1233.6 1768.9,1231.6 1770.1,1235.2 1771.3,1231.9 1772.5,1233.2 1773.8,1230.8 1775,1232.3 1776.2,1235.5 1777.4,1230.3 1778.6,1233.6 1779.9,1236.6 1781.1,1240.9 1782.3,1241.1 1783.5,1234.8 1784.7,1231.6 1786,1240.4 1787.2,1243.3 1788.4,1242.2 1789.6,1238.7 1790.8,1241.2 1792.1,1238.2 1793.3,1238.9 1794.5,1238.9 1795.7,1245.5 1797,1248.1 1798.2,1241 1799.4,1242.9 1800.6,1235.9 1801.8,1234.5 1803.1,1236.8 1804.3,1236.5 1805.5,1235.1 1806.7,1234.4 1807.9,1233.7 1809.2,1234.9 1810.4,1231.4 1811.6,1231 1812.8,1232.1 1814,1230.3 1815.3,1231 1816.5,1230.9 1817.7,1231.6 1818.9,1229.5 1820.1,1231.2 1821.4,1229.7 1822.6,1226.9 1823.8,1226.4 1825,1219.9 1826.2,1231.1 1827.5,1227.6 1828.7,1224 1829.9,1223.8 1831.1,1222.1 1832.3,1218.7 1833.6,1215.4 1834.8,1223.4 1836,1212.8 1837.2,1216.7 1838.4,1217.9 1839.7,1228.2 1840.9,1225.1 1842.1,1228.8 1843.3,1232.1 1844.5,1229.4 1845.8,1225.4 1847,1232.8 1848.2,1227.3 1849.4,1233.7 1850.6,1234 1851.9,1239 1853.1,1244.7 1854.3,1240.3 1855.5,1242 1856.7,1239.8 1858,1238.9 1859.2,1240.5 1860.4,1234 1861.6,1235.8 1862.8,1230 1864.1,1230.9 1865.3,1234.6 1866.5,1240.4 1867.7,1237.5 1868.9,1233 1870.2,1230.5 1871.4,1242 1872.6,1237.4 1873.8,1236.1 1875.1,1232.6 1876.3,1232.2 1877.5,1231.4 1878.7,1232.8 1879.9,1229.8 1881.2,1226.8 1882.4,1228.2 1883.6,1227.5 1884.8,1230.5 1886,1227.4 1887.3,1230.5 1888.5,1231.6 1889.7,1230.7 1890.9,1225.1 1892.1,1226.8 1893.4,1224.9 1894.6,1229.3 1895.8,1236.9 1897,1226 1898.2,1233.6 1899.5,1233.9 1900.7,1227.1 1901.9,1233.7 1903.1,1225.5 1904.3,1221.9 1905.6,1226 1906.8,1225.3 1908,1222 1909.2,1231.7 1910.4,1227.3 1911.7,1228 1912.9,1228.2 1914.1,1226.8 1915.3,1227.8 1916.5,1227.3 1917.8,1230.2 1919,1231.4 1920.2,1228.7 1921.4,1233 1922.6,1229.7 1923.9,1224.6 1925.1,1233.4 1926.3,1230 1927.5,1235.1 1928.7,1236.2 1930,1236.4 1931.2,1235.5 1932.4,1232.2 1933.6,1233.6 1934.8,1235.5 1936.1,1238.1 1937.3,1232.1 1938.5,1235 1939.7,1243.9 1940.9,1239.2 1942.2,1238.3 1943.4,1240.6 1944.6,1247.5 1945.8,1248.2 1947.1,1245 1948.3,1236.9 1949.5,1239 1950.7,1232.4 1951.9,1230.6 1953.2,1226.7 1954.4,1235 1955.6,1241.2 1956.8,1237.7 1958,1229.5 1959.3,1225.5 1960.5,1225 1961.7,1239.2 1962.9,1233.2 1964.1,1238.3 1965.4,1232.1 1966.6,1231 1967.8,1232.5 1969,1235.8 1970.2,1227.7 1971.5,1232.9 1972.7,1238.7 1973.9,1237 1975.1,1230.6 1976.3,1234.7 1977.6,1230.3 1978.8,1236.9 1980,1239.4 1981.2,1236.5 1982.4,1234.2 1983.7,1232.2 1984.9,1228.8 1986.1,1237 1987.3,1233.6 1988.5,1230.6 1989.8,1226.4 1991,1224.9 1992.2,1225.5 1993.4,1226.4 1994.6,1230.8 1995.9,1233.3 1997.1,1234.5 1998.3,1222.9 1999.5,1232.9 2000.7,1236.8 2002,1235.2 2003.2,1237.6 2004.4,1232.7 2005.6,1234 2006.8,1233.5 2008.1,1231 2009.3,1231.4 2010.5,1234.3 2011.7,1233.8 2012.9,1233.6 2014.2,1234.9 2015.4,1238.9 2016.6,1235.1 2017.8,1236.4 2019.1,1233.2 2020.3,1228.9 2021.5,1236 2022.7,1238.5 2023.9,1236.3 2025.2,1232.7 2026.4,1235.2 2027.6,1238 2028.8,1234.5 2030,1239.6 2031.3,1244.5 2032.5,1238.7 2033.7,1235.5 2034.9,1231.5 2036.1,1235.1 2037.4,1240.9 2038.6,1235.6 2039.8,1242 2041,1232.8 2042.2,1236.6 2043.5,1227 2044.7,1233.2 2045.9,1232.7 2047.1,1229.6 2048.3,1225.8 2049.6,1234.3 2050.8,1233.6 2052,1228.9" fill="none" stroke="#231f20" stroke-width="4.2" stroke-linejoin="round" stroke-dasharray="30 8" stroke-dashoffset="20" shape-rendering="geometricPrecision"/>
<rect x="228.7" y="189.1" width="23" height="19.8" fill="none" stroke="#231f20" stroke-width="4.2" stroke-linejoin="miter" stroke-miterlimit="10"/>
<rect x="402.2" y="848.1" width="23" height="19.8" fill="none" stroke="#231f20" stroke-width="4.2" stroke-linejoin="miter" stroke-miterlimit="10"/>
<rect x="574" y="1188.8" width="23" height="19.8" fill="none" stroke="#231f20" stroke-width="4.2" stroke-linejoin="miter" stroke-miterlimit="10"/>
<rect x="748" y="1222.6" width="23" height="19.8" fill="none" stroke="#231f20" stroke-width="4.2" stroke-linejoin="miter" stroke-miterlimit="10"/>
<rect x="921.8" y="1232.6" width="23" height="19.8" fill="none" stroke="#231f20" stroke-width="4.2" stroke-linejoin="miter" stroke-miterlimit="10"/>
<rect x="1093.5" y="1227.6" width="23" height="19.8" fill="none" stroke="#231f20" stroke-width="4.2" stroke-linejoin="miter" stroke-miterlimit="10"/>
<rect x="1267.2" y="1241.6" width="23" height="19.8" fill="none" stroke="#231f20" stroke-width="4.2" stroke-linejoin="miter" stroke-miterlimit="10"/>
<rect x="1439" y="1236.6" width="23" height="19.8" fill="none" stroke="#231f20" stroke-width="4.2" stroke-linejoin="miter" stroke-miterlimit="10"/>
<rect x="1612.8" y="1226.1" width="23" height="19.8" fill="none" stroke="#231f20" stroke-width="4.2" stroke-linejoin="miter" stroke-miterlimit="10"/>
<rect x="1784.5" y="1228" width="23" height="19.8" fill="none" stroke="#231f20" stroke-width="4.2" stroke-linejoin="miter" stroke-miterlimit="10"/>
<rect x="1958.5" y="1226.1" width="23" height="19.8" fill="none" stroke="#231f20" stroke-width="4.2" stroke-linejoin="miter" stroke-miterlimit="10"/>
</g>
<rect x="1565" y="39" width="489" height="572" fill="#fff" stroke="#4d4d4f" stroke-width="4"/>
<g font-family="'Liberation Serif','Times New Roman',serif" font-size="60" fill="#231f20">
<g shape-rendering="crispEdges">
<line x1="1582" y1="78.9" x2="1670" y2="78.9" stroke="#2054a6" stroke-width="4"/>
<polygon points="1610.8,69.8 1643.2,69.8 1627,94.7" fill="none" stroke="#2054a6" stroke-width="4.2" stroke-linejoin="miter" stroke-miterlimit="10"/>
</g>
<text transform="translate(1677.5,100.2) scale(1.124,1)">LMS</text>
<g shape-rendering="crispEdges">
<line x1="1582" y1="149" x2="1670" y2="149" stroke="#ed2024" stroke-width="4"/>
<rect x="1615.5" y="139.1" width="23" height="19.8" fill="none" stroke="#ed2024" stroke-width="4.2" stroke-linejoin="miter" stroke-miterlimit="10"/>
</g>
<text transform="translate(1677.5,170.3) scale(1.124,1)">LMS/F</text>
<g shape-rendering="crispEdges">
<line x1="1582" y1="219.3" x2="1670" y2="219.3" stroke="#a55da6" stroke-width="4"/>
<polygon points="1627,202 1641.4,219.3 1627,236.6 1612.6,219.3" fill="none" stroke="#a55da6" stroke-width="4.2" stroke-linejoin="miter" stroke-miterlimit="10"/>
</g>
<text transform="translate(1677.5,240.6) scale(1.124,1)">LMMN</text>
<g shape-rendering="crispEdges">
<line x1="1582" y1="289.5" x2="1670" y2="289.5" stroke="#6abd45" stroke-width="4"/>
<ellipse cx="1627" cy="289.5" rx="14.4" ry="12.35" fill="none" stroke="#6abd45" stroke-width="4.2" stroke-linejoin="miter" stroke-miterlimit="10"/>
</g>
<text transform="translate(1677.5,310.8) scale(1.124,1)">ZA-LMS/F</text>
<g shape-rendering="crispEdges">
<line x1="1582" y1="360.1" x2="1670" y2="360.1" stroke="#231f20" stroke-width="4"/>
<polygon points="1616.8,345.3 1616.8,374.9 1645.5,360.1" fill="none" stroke="#231f20" stroke-width="4.2" stroke-linejoin="miter" stroke-miterlimit="10"/>
</g>
<text transform="translate(1677.5,381.4) scale(1.124,1)">ZA-LMMN</text>
<g shape-rendering="crispEdges">
<line x1="1582" y1="431.1" x2="1670" y2="431.1" stroke="#60c8d3" stroke-width="4"/>
<polygon points="1610.8,438.2 1643.2,438.2 1627,413.5" fill="none" stroke="#60c8d3" stroke-width="4.2" stroke-linejoin="miter" stroke-miterlimit="10"/>
</g>
<text transform="translate(1677.5,452.4) scale(1.124,1)">RZA-LMS/F</text>
<g shape-rendering="crispEdges">
<line x1="1582" y1="501" x2="1670" y2="501" stroke="#2054a6" stroke-width="4"/>
<polygon points="1627,488.9 1622.8,494.9 1614.5,494.9 1618.7,501 1614.5,507.1 1622.8,507.1 1627,513.1 1631.2,507.1 1639.5,507.1 1635.3,501 1639.5,494.9 1631.2,494.9" fill="none" stroke="#2054a6" stroke-width="4.6" stroke-linejoin="miter" stroke-miterlimit="10"/>
</g>
<text transform="translate(1677.5,522.3) scale(1.124,1)">RZA-LMMN</text>
<g shape-rendering="crispEdges">
<path d="M1582,571.9 H1604 M1625,571.9 H1647 M1667,571.9 H1670" stroke="#231f20" stroke-width="4" fill="none"/>
<rect x="1615.5" y="562" width="23" height="19.8" fill="none" stroke="#231f20" stroke-width="4.2" stroke-linejoin="miter" stroke-miterlimit="10"/>
</g>
<text transform="translate(1677.5,593.2) scale(1.124,1)">CIM-LMMN</text>
</g>
</svg>
</body></html>
